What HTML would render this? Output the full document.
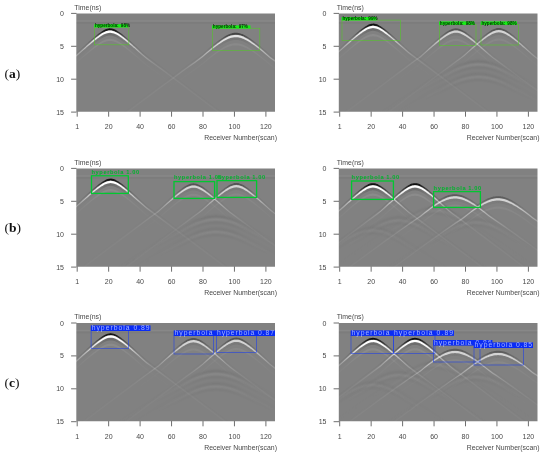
<!DOCTYPE html>
<html><head><meta charset="utf-8"><title>GPR hyperbola detection</title>
<style>
html,body{margin:0;padding:0;background:#fff;}
body{width:550px;height:459px;position:relative;overflow:hidden;font-family:"Liberation Sans",sans-serif;}
.t{font-family:"Liberation Sans",sans-serif;font-size:7px;fill:#484848;}
.l{font-size:7.5px;}
.g1{font-family:"Liberation Sans",sans-serif;font-size:4.65px;font-weight:bold;fill:#062c06;}
.g2{font-family:"Liberation Sans",sans-serif;font-size:5.7px;font-weight:bold;fill:#00b42c;}
.g3{font-family:"Liberation Sans",sans-serif;font-size:6.8px;fill:#a4b2fa;}
.pl{font-family:"Liberation Serif",serif;font-size:13.5px;fill:#111;}
</style></head><body>
<svg width="550" height="459" viewBox="0 0 550 459" style="position:absolute;left:0;top:0">
<defs><filter id="bl" x="-5%" y="-5%" width="110%" height="110%"><feGaussianBlur stdDeviation="0.7"/></filter><filter id="bl2" x="-5%" y="-20%" width="110%" height="140%"><feGaussianBlur stdDeviation="0.9"/></filter>
<linearGradient id="gA0w" gradientUnits="userSpaceOnUse" x1="-166.3" x2="233.7" y1="0" y2="0"><stop offset="0.000" stop-color="#fff" stop-opacity="0.012"/><stop offset="0.225" stop-color="#fff" stop-opacity="0.025"/><stop offset="0.312" stop-color="#fff" stop-opacity="0.040"/><stop offset="0.362" stop-color="#fff" stop-opacity="0.065"/><stop offset="0.400" stop-color="#fff" stop-opacity="0.140"/><stop offset="0.425" stop-color="#fff" stop-opacity="0.300"/><stop offset="0.445" stop-color="#fff" stop-opacity="0.560"/><stop offset="0.463" stop-color="#fff" stop-opacity="0.850"/><stop offset="0.480" stop-color="#fff" stop-opacity="1.000"/><stop offset="0.500" stop-color="#fff" stop-opacity="1.000"/><stop offset="0.520" stop-color="#fff" stop-opacity="1.000"/><stop offset="0.537" stop-color="#fff" stop-opacity="0.850"/><stop offset="0.555" stop-color="#fff" stop-opacity="0.560"/><stop offset="0.575" stop-color="#fff" stop-opacity="0.300"/><stop offset="0.600" stop-color="#fff" stop-opacity="0.140"/><stop offset="0.637" stop-color="#fff" stop-opacity="0.065"/><stop offset="0.688" stop-color="#fff" stop-opacity="0.040"/><stop offset="0.775" stop-color="#fff" stop-opacity="0.025"/><stop offset="1.000" stop-color="#fff" stop-opacity="0.012"/></linearGradient><linearGradient id="gA0k" gradientUnits="userSpaceOnUse" x1="-166.3" x2="233.7" y1="0" y2="0"><stop offset="0.000" stop-color="#000" stop-opacity="0.010"/><stop offset="0.350" stop-color="#000" stop-opacity="0.020"/><stop offset="0.400" stop-color="#000" stop-opacity="0.045"/><stop offset="0.430" stop-color="#000" stop-opacity="0.090"/><stop offset="0.450" stop-color="#000" stop-opacity="0.200"/><stop offset="0.463" stop-color="#000" stop-opacity="0.380"/><stop offset="0.475" stop-color="#000" stop-opacity="0.620"/><stop offset="0.487" stop-color="#000" stop-opacity="0.900"/><stop offset="0.500" stop-color="#000" stop-opacity="1.000"/><stop offset="0.512" stop-color="#000" stop-opacity="0.900"/><stop offset="0.525" stop-color="#000" stop-opacity="0.620"/><stop offset="0.537" stop-color="#000" stop-opacity="0.380"/><stop offset="0.550" stop-color="#000" stop-opacity="0.200"/><stop offset="0.570" stop-color="#000" stop-opacity="0.090"/><stop offset="0.600" stop-color="#000" stop-opacity="0.045"/><stop offset="0.650" stop-color="#000" stop-opacity="0.020"/><stop offset="1.000" stop-color="#000" stop-opacity="0.010"/></linearGradient><linearGradient id="gA1w" gradientUnits="userSpaceOnUse" x1="-90.5" x2="409.5" y1="0" y2="0"><stop offset="0.000" stop-color="#fff" stop-opacity="0.009"/><stop offset="0.225" stop-color="#fff" stop-opacity="0.020"/><stop offset="0.312" stop-color="#fff" stop-opacity="0.031"/><stop offset="0.362" stop-color="#fff" stop-opacity="0.051"/><stop offset="0.400" stop-color="#fff" stop-opacity="0.109"/><stop offset="0.425" stop-color="#fff" stop-opacity="0.234"/><stop offset="0.445" stop-color="#fff" stop-opacity="0.437"/><stop offset="0.463" stop-color="#fff" stop-opacity="0.663"/><stop offset="0.480" stop-color="#fff" stop-opacity="0.780"/><stop offset="0.500" stop-color="#fff" stop-opacity="0.780"/><stop offset="0.520" stop-color="#fff" stop-opacity="0.780"/><stop offset="0.537" stop-color="#fff" stop-opacity="0.663"/><stop offset="0.555" stop-color="#fff" stop-opacity="0.437"/><stop offset="0.575" stop-color="#fff" stop-opacity="0.234"/><stop offset="0.600" stop-color="#fff" stop-opacity="0.109"/><stop offset="0.637" stop-color="#fff" stop-opacity="0.051"/><stop offset="0.688" stop-color="#fff" stop-opacity="0.031"/><stop offset="0.775" stop-color="#fff" stop-opacity="0.020"/><stop offset="1.000" stop-color="#fff" stop-opacity="0.009"/></linearGradient><linearGradient id="gA1k" gradientUnits="userSpaceOnUse" x1="-90.5" x2="409.5" y1="0" y2="0"><stop offset="0.000" stop-color="#000" stop-opacity="0.005"/><stop offset="0.350" stop-color="#000" stop-opacity="0.011"/><stop offset="0.400" stop-color="#000" stop-opacity="0.025"/><stop offset="0.430" stop-color="#000" stop-opacity="0.049"/><stop offset="0.450" stop-color="#000" stop-opacity="0.109"/><stop offset="0.463" stop-color="#000" stop-opacity="0.207"/><stop offset="0.475" stop-color="#000" stop-opacity="0.339"/><stop offset="0.487" stop-color="#000" stop-opacity="0.491"/><stop offset="0.500" stop-color="#000" stop-opacity="0.546"/><stop offset="0.512" stop-color="#000" stop-opacity="0.491"/><stop offset="0.525" stop-color="#000" stop-opacity="0.339"/><stop offset="0.537" stop-color="#000" stop-opacity="0.207"/><stop offset="0.550" stop-color="#000" stop-opacity="0.109"/><stop offset="0.570" stop-color="#000" stop-opacity="0.049"/><stop offset="0.600" stop-color="#000" stop-opacity="0.025"/><stop offset="0.650" stop-color="#000" stop-opacity="0.011"/><stop offset="1.000" stop-color="#000" stop-opacity="0.005"/></linearGradient><linearGradient id="gB0w" gradientUnits="userSpaceOnUse" x1="-165.7" x2="234.3" y1="0" y2="0"><stop offset="0.000" stop-color="#fff" stop-opacity="0.012"/><stop offset="0.225" stop-color="#fff" stop-opacity="0.025"/><stop offset="0.312" stop-color="#fff" stop-opacity="0.040"/><stop offset="0.362" stop-color="#fff" stop-opacity="0.065"/><stop offset="0.400" stop-color="#fff" stop-opacity="0.140"/><stop offset="0.425" stop-color="#fff" stop-opacity="0.300"/><stop offset="0.445" stop-color="#fff" stop-opacity="0.560"/><stop offset="0.463" stop-color="#fff" stop-opacity="0.850"/><stop offset="0.480" stop-color="#fff" stop-opacity="1.000"/><stop offset="0.500" stop-color="#fff" stop-opacity="1.000"/><stop offset="0.520" stop-color="#fff" stop-opacity="1.000"/><stop offset="0.537" stop-color="#fff" stop-opacity="0.850"/><stop offset="0.555" stop-color="#fff" stop-opacity="0.560"/><stop offset="0.575" stop-color="#fff" stop-opacity="0.300"/><stop offset="0.600" stop-color="#fff" stop-opacity="0.140"/><stop offset="0.637" stop-color="#fff" stop-opacity="0.065"/><stop offset="0.688" stop-color="#fff" stop-opacity="0.040"/><stop offset="0.775" stop-color="#fff" stop-opacity="0.025"/><stop offset="1.000" stop-color="#fff" stop-opacity="0.012"/></linearGradient><linearGradient id="gB0k" gradientUnits="userSpaceOnUse" x1="-165.7" x2="234.3" y1="0" y2="0"><stop offset="0.000" stop-color="#000" stop-opacity="0.010"/><stop offset="0.350" stop-color="#000" stop-opacity="0.020"/><stop offset="0.400" stop-color="#000" stop-opacity="0.045"/><stop offset="0.430" stop-color="#000" stop-opacity="0.090"/><stop offset="0.450" stop-color="#000" stop-opacity="0.200"/><stop offset="0.463" stop-color="#000" stop-opacity="0.380"/><stop offset="0.475" stop-color="#000" stop-opacity="0.620"/><stop offset="0.487" stop-color="#000" stop-opacity="0.900"/><stop offset="0.500" stop-color="#000" stop-opacity="1.000"/><stop offset="0.512" stop-color="#000" stop-opacity="0.900"/><stop offset="0.525" stop-color="#000" stop-opacity="0.620"/><stop offset="0.537" stop-color="#000" stop-opacity="0.380"/><stop offset="0.550" stop-color="#000" stop-opacity="0.200"/><stop offset="0.570" stop-color="#000" stop-opacity="0.090"/><stop offset="0.600" stop-color="#000" stop-opacity="0.045"/><stop offset="0.650" stop-color="#000" stop-opacity="0.020"/><stop offset="1.000" stop-color="#000" stop-opacity="0.010"/></linearGradient><linearGradient id="gB1w" gradientUnits="userSpaceOnUse" x1="-102.8" x2="337.2" y1="0" y2="0"><stop offset="0.000" stop-color="#fff" stop-opacity="0.008"/><stop offset="0.225" stop-color="#fff" stop-opacity="0.017"/><stop offset="0.312" stop-color="#fff" stop-opacity="0.026"/><stop offset="0.362" stop-color="#fff" stop-opacity="0.043"/><stop offset="0.400" stop-color="#fff" stop-opacity="0.092"/><stop offset="0.425" stop-color="#fff" stop-opacity="0.198"/><stop offset="0.445" stop-color="#fff" stop-opacity="0.370"/><stop offset="0.463" stop-color="#fff" stop-opacity="0.561"/><stop offset="0.480" stop-color="#fff" stop-opacity="0.660"/><stop offset="0.500" stop-color="#fff" stop-opacity="0.660"/><stop offset="0.520" stop-color="#fff" stop-opacity="0.660"/><stop offset="0.537" stop-color="#fff" stop-opacity="0.561"/><stop offset="0.555" stop-color="#fff" stop-opacity="0.370"/><stop offset="0.575" stop-color="#fff" stop-opacity="0.198"/><stop offset="0.600" stop-color="#fff" stop-opacity="0.092"/><stop offset="0.637" stop-color="#fff" stop-opacity="0.043"/><stop offset="0.688" stop-color="#fff" stop-opacity="0.026"/><stop offset="0.775" stop-color="#fff" stop-opacity="0.017"/><stop offset="1.000" stop-color="#fff" stop-opacity="0.008"/></linearGradient><linearGradient id="gB1k" gradientUnits="userSpaceOnUse" x1="-102.8" x2="337.2" y1="0" y2="0"><stop offset="0.000" stop-color="#000" stop-opacity="0.004"/><stop offset="0.350" stop-color="#000" stop-opacity="0.008"/><stop offset="0.400" stop-color="#000" stop-opacity="0.018"/><stop offset="0.430" stop-color="#000" stop-opacity="0.036"/><stop offset="0.450" stop-color="#000" stop-opacity="0.079"/><stop offset="0.463" stop-color="#000" stop-opacity="0.150"/><stop offset="0.475" stop-color="#000" stop-opacity="0.246"/><stop offset="0.487" stop-color="#000" stop-opacity="0.356"/><stop offset="0.500" stop-color="#000" stop-opacity="0.396"/><stop offset="0.512" stop-color="#000" stop-opacity="0.356"/><stop offset="0.525" stop-color="#000" stop-opacity="0.246"/><stop offset="0.537" stop-color="#000" stop-opacity="0.150"/><stop offset="0.550" stop-color="#000" stop-opacity="0.079"/><stop offset="0.570" stop-color="#000" stop-opacity="0.036"/><stop offset="0.600" stop-color="#000" stop-opacity="0.018"/><stop offset="0.650" stop-color="#000" stop-opacity="0.008"/><stop offset="1.000" stop-color="#000" stop-opacity="0.004"/></linearGradient><linearGradient id="gB2w" gradientUnits="userSpaceOnUse" x1="-60.0" x2="380.0" y1="0" y2="0"><stop offset="0.000" stop-color="#fff" stop-opacity="0.008"/><stop offset="0.225" stop-color="#fff" stop-opacity="0.017"/><stop offset="0.312" stop-color="#fff" stop-opacity="0.026"/><stop offset="0.362" stop-color="#fff" stop-opacity="0.043"/><stop offset="0.400" stop-color="#fff" stop-opacity="0.092"/><stop offset="0.425" stop-color="#fff" stop-opacity="0.198"/><stop offset="0.445" stop-color="#fff" stop-opacity="0.370"/><stop offset="0.463" stop-color="#fff" stop-opacity="0.561"/><stop offset="0.480" stop-color="#fff" stop-opacity="0.660"/><stop offset="0.500" stop-color="#fff" stop-opacity="0.660"/><stop offset="0.520" stop-color="#fff" stop-opacity="0.660"/><stop offset="0.537" stop-color="#fff" stop-opacity="0.561"/><stop offset="0.555" stop-color="#fff" stop-opacity="0.370"/><stop offset="0.575" stop-color="#fff" stop-opacity="0.198"/><stop offset="0.600" stop-color="#fff" stop-opacity="0.092"/><stop offset="0.637" stop-color="#fff" stop-opacity="0.043"/><stop offset="0.688" stop-color="#fff" stop-opacity="0.026"/><stop offset="0.775" stop-color="#fff" stop-opacity="0.017"/><stop offset="1.000" stop-color="#fff" stop-opacity="0.008"/></linearGradient><linearGradient id="gB2k" gradientUnits="userSpaceOnUse" x1="-60.0" x2="380.0" y1="0" y2="0"><stop offset="0.000" stop-color="#000" stop-opacity="0.004"/><stop offset="0.350" stop-color="#000" stop-opacity="0.008"/><stop offset="0.400" stop-color="#000" stop-opacity="0.018"/><stop offset="0.430" stop-color="#000" stop-opacity="0.036"/><stop offset="0.450" stop-color="#000" stop-opacity="0.079"/><stop offset="0.463" stop-color="#000" stop-opacity="0.150"/><stop offset="0.475" stop-color="#000" stop-opacity="0.246"/><stop offset="0.487" stop-color="#000" stop-opacity="0.356"/><stop offset="0.500" stop-color="#000" stop-opacity="0.396"/><stop offset="0.512" stop-color="#000" stop-opacity="0.356"/><stop offset="0.525" stop-color="#000" stop-opacity="0.246"/><stop offset="0.537" stop-color="#000" stop-opacity="0.150"/><stop offset="0.550" stop-color="#000" stop-opacity="0.079"/><stop offset="0.570" stop-color="#000" stop-opacity="0.036"/><stop offset="0.600" stop-color="#000" stop-opacity="0.018"/><stop offset="0.650" stop-color="#000" stop-opacity="0.008"/><stop offset="1.000" stop-color="#000" stop-opacity="0.004"/></linearGradient><linearGradient id="gC0w" gradientUnits="userSpaceOnUse" x1="-165.8" x2="234.2" y1="0" y2="0"><stop offset="0.000" stop-color="#fff" stop-opacity="0.012"/><stop offset="0.225" stop-color="#fff" stop-opacity="0.025"/><stop offset="0.312" stop-color="#fff" stop-opacity="0.040"/><stop offset="0.362" stop-color="#fff" stop-opacity="0.065"/><stop offset="0.400" stop-color="#fff" stop-opacity="0.140"/><stop offset="0.425" stop-color="#fff" stop-opacity="0.300"/><stop offset="0.445" stop-color="#fff" stop-opacity="0.560"/><stop offset="0.463" stop-color="#fff" stop-opacity="0.850"/><stop offset="0.480" stop-color="#fff" stop-opacity="1.000"/><stop offset="0.500" stop-color="#fff" stop-opacity="1.000"/><stop offset="0.520" stop-color="#fff" stop-opacity="1.000"/><stop offset="0.537" stop-color="#fff" stop-opacity="0.850"/><stop offset="0.555" stop-color="#fff" stop-opacity="0.560"/><stop offset="0.575" stop-color="#fff" stop-opacity="0.300"/><stop offset="0.600" stop-color="#fff" stop-opacity="0.140"/><stop offset="0.637" stop-color="#fff" stop-opacity="0.065"/><stop offset="0.688" stop-color="#fff" stop-opacity="0.040"/><stop offset="0.775" stop-color="#fff" stop-opacity="0.025"/><stop offset="1.000" stop-color="#fff" stop-opacity="0.012"/></linearGradient><linearGradient id="gC0k" gradientUnits="userSpaceOnUse" x1="-165.8" x2="234.2" y1="0" y2="0"><stop offset="0.000" stop-color="#000" stop-opacity="0.010"/><stop offset="0.350" stop-color="#000" stop-opacity="0.020"/><stop offset="0.400" stop-color="#000" stop-opacity="0.045"/><stop offset="0.430" stop-color="#000" stop-opacity="0.090"/><stop offset="0.450" stop-color="#000" stop-opacity="0.200"/><stop offset="0.463" stop-color="#000" stop-opacity="0.380"/><stop offset="0.475" stop-color="#000" stop-opacity="0.620"/><stop offset="0.487" stop-color="#000" stop-opacity="0.900"/><stop offset="0.500" stop-color="#000" stop-opacity="1.000"/><stop offset="0.512" stop-color="#000" stop-opacity="0.900"/><stop offset="0.525" stop-color="#000" stop-opacity="0.620"/><stop offset="0.537" stop-color="#000" stop-opacity="0.380"/><stop offset="0.550" stop-color="#000" stop-opacity="0.200"/><stop offset="0.570" stop-color="#000" stop-opacity="0.090"/><stop offset="0.600" stop-color="#000" stop-opacity="0.045"/><stop offset="0.650" stop-color="#000" stop-opacity="0.020"/><stop offset="1.000" stop-color="#000" stop-opacity="0.010"/></linearGradient><linearGradient id="gC1w" gradientUnits="userSpaceOnUse" x1="-123.8" x2="276.2" y1="0" y2="0"><stop offset="0.000" stop-color="#fff" stop-opacity="0.012"/><stop offset="0.225" stop-color="#fff" stop-opacity="0.025"/><stop offset="0.312" stop-color="#fff" stop-opacity="0.040"/><stop offset="0.362" stop-color="#fff" stop-opacity="0.065"/><stop offset="0.400" stop-color="#fff" stop-opacity="0.140"/><stop offset="0.425" stop-color="#fff" stop-opacity="0.300"/><stop offset="0.445" stop-color="#fff" stop-opacity="0.560"/><stop offset="0.463" stop-color="#fff" stop-opacity="0.850"/><stop offset="0.480" stop-color="#fff" stop-opacity="1.000"/><stop offset="0.500" stop-color="#fff" stop-opacity="1.000"/><stop offset="0.520" stop-color="#fff" stop-opacity="1.000"/><stop offset="0.537" stop-color="#fff" stop-opacity="0.850"/><stop offset="0.555" stop-color="#fff" stop-opacity="0.560"/><stop offset="0.575" stop-color="#fff" stop-opacity="0.300"/><stop offset="0.600" stop-color="#fff" stop-opacity="0.140"/><stop offset="0.637" stop-color="#fff" stop-opacity="0.065"/><stop offset="0.688" stop-color="#fff" stop-opacity="0.040"/><stop offset="0.775" stop-color="#fff" stop-opacity="0.025"/><stop offset="1.000" stop-color="#fff" stop-opacity="0.012"/></linearGradient><linearGradient id="gC1k" gradientUnits="userSpaceOnUse" x1="-123.8" x2="276.2" y1="0" y2="0"><stop offset="0.000" stop-color="#000" stop-opacity="0.010"/><stop offset="0.350" stop-color="#000" stop-opacity="0.020"/><stop offset="0.400" stop-color="#000" stop-opacity="0.045"/><stop offset="0.430" stop-color="#000" stop-opacity="0.090"/><stop offset="0.450" stop-color="#000" stop-opacity="0.200"/><stop offset="0.463" stop-color="#000" stop-opacity="0.380"/><stop offset="0.475" stop-color="#000" stop-opacity="0.620"/><stop offset="0.487" stop-color="#000" stop-opacity="0.900"/><stop offset="0.500" stop-color="#000" stop-opacity="1.000"/><stop offset="0.512" stop-color="#000" stop-opacity="0.900"/><stop offset="0.525" stop-color="#000" stop-opacity="0.620"/><stop offset="0.537" stop-color="#000" stop-opacity="0.380"/><stop offset="0.550" stop-color="#000" stop-opacity="0.200"/><stop offset="0.570" stop-color="#000" stop-opacity="0.090"/><stop offset="0.600" stop-color="#000" stop-opacity="0.045"/><stop offset="0.650" stop-color="#000" stop-opacity="0.020"/><stop offset="1.000" stop-color="#000" stop-opacity="0.010"/></linearGradient><linearGradient id="gC2w" gradientUnits="userSpaceOnUse" x1="-163.8" x2="396.2" y1="0" y2="0"><stop offset="0.000" stop-color="#fff" stop-opacity="0.008"/><stop offset="0.225" stop-color="#fff" stop-opacity="0.017"/><stop offset="0.312" stop-color="#fff" stop-opacity="0.026"/><stop offset="0.362" stop-color="#fff" stop-opacity="0.043"/><stop offset="0.400" stop-color="#fff" stop-opacity="0.092"/><stop offset="0.425" stop-color="#fff" stop-opacity="0.198"/><stop offset="0.445" stop-color="#fff" stop-opacity="0.370"/><stop offset="0.463" stop-color="#fff" stop-opacity="0.561"/><stop offset="0.480" stop-color="#fff" stop-opacity="0.660"/><stop offset="0.500" stop-color="#fff" stop-opacity="0.660"/><stop offset="0.520" stop-color="#fff" stop-opacity="0.660"/><stop offset="0.537" stop-color="#fff" stop-opacity="0.561"/><stop offset="0.555" stop-color="#fff" stop-opacity="0.370"/><stop offset="0.575" stop-color="#fff" stop-opacity="0.198"/><stop offset="0.600" stop-color="#fff" stop-opacity="0.092"/><stop offset="0.637" stop-color="#fff" stop-opacity="0.043"/><stop offset="0.688" stop-color="#fff" stop-opacity="0.026"/><stop offset="0.775" stop-color="#fff" stop-opacity="0.017"/><stop offset="1.000" stop-color="#fff" stop-opacity="0.008"/></linearGradient><linearGradient id="gC2k" gradientUnits="userSpaceOnUse" x1="-163.8" x2="396.2" y1="0" y2="0"><stop offset="0.000" stop-color="#000" stop-opacity="0.003"/><stop offset="0.350" stop-color="#000" stop-opacity="0.007"/><stop offset="0.400" stop-color="#000" stop-opacity="0.015"/><stop offset="0.430" stop-color="#000" stop-opacity="0.030"/><stop offset="0.450" stop-color="#000" stop-opacity="0.066"/><stop offset="0.463" stop-color="#000" stop-opacity="0.125"/><stop offset="0.475" stop-color="#000" stop-opacity="0.205"/><stop offset="0.487" stop-color="#000" stop-opacity="0.297"/><stop offset="0.500" stop-color="#000" stop-opacity="0.330"/><stop offset="0.512" stop-color="#000" stop-opacity="0.297"/><stop offset="0.525" stop-color="#000" stop-opacity="0.205"/><stop offset="0.537" stop-color="#000" stop-opacity="0.125"/><stop offset="0.550" stop-color="#000" stop-opacity="0.066"/><stop offset="0.570" stop-color="#000" stop-opacity="0.030"/><stop offset="0.600" stop-color="#000" stop-opacity="0.015"/><stop offset="0.650" stop-color="#000" stop-opacity="0.007"/><stop offset="1.000" stop-color="#000" stop-opacity="0.003"/></linearGradient><linearGradient id="gC3w" gradientUnits="userSpaceOnUse" x1="-120.8" x2="439.2" y1="0" y2="0"><stop offset="0.000" stop-color="#fff" stop-opacity="0.008"/><stop offset="0.225" stop-color="#fff" stop-opacity="0.017"/><stop offset="0.312" stop-color="#fff" stop-opacity="0.026"/><stop offset="0.362" stop-color="#fff" stop-opacity="0.043"/><stop offset="0.400" stop-color="#fff" stop-opacity="0.092"/><stop offset="0.425" stop-color="#fff" stop-opacity="0.198"/><stop offset="0.445" stop-color="#fff" stop-opacity="0.370"/><stop offset="0.463" stop-color="#fff" stop-opacity="0.561"/><stop offset="0.480" stop-color="#fff" stop-opacity="0.660"/><stop offset="0.500" stop-color="#fff" stop-opacity="0.660"/><stop offset="0.520" stop-color="#fff" stop-opacity="0.660"/><stop offset="0.537" stop-color="#fff" stop-opacity="0.561"/><stop offset="0.555" stop-color="#fff" stop-opacity="0.370"/><stop offset="0.575" stop-color="#fff" stop-opacity="0.198"/><stop offset="0.600" stop-color="#fff" stop-opacity="0.092"/><stop offset="0.637" stop-color="#fff" stop-opacity="0.043"/><stop offset="0.688" stop-color="#fff" stop-opacity="0.026"/><stop offset="0.775" stop-color="#fff" stop-opacity="0.017"/><stop offset="1.000" stop-color="#fff" stop-opacity="0.008"/></linearGradient><linearGradient id="gC3k" gradientUnits="userSpaceOnUse" x1="-120.8" x2="439.2" y1="0" y2="0"><stop offset="0.000" stop-color="#000" stop-opacity="0.003"/><stop offset="0.350" stop-color="#000" stop-opacity="0.007"/><stop offset="0.400" stop-color="#000" stop-opacity="0.015"/><stop offset="0.430" stop-color="#000" stop-opacity="0.030"/><stop offset="0.450" stop-color="#000" stop-opacity="0.066"/><stop offset="0.463" stop-color="#000" stop-opacity="0.125"/><stop offset="0.475" stop-color="#000" stop-opacity="0.205"/><stop offset="0.487" stop-color="#000" stop-opacity="0.297"/><stop offset="0.500" stop-color="#000" stop-opacity="0.330"/><stop offset="0.512" stop-color="#000" stop-opacity="0.297"/><stop offset="0.525" stop-color="#000" stop-opacity="0.205"/><stop offset="0.537" stop-color="#000" stop-opacity="0.125"/><stop offset="0.550" stop-color="#000" stop-opacity="0.066"/><stop offset="0.570" stop-color="#000" stop-opacity="0.030"/><stop offset="0.600" stop-color="#000" stop-opacity="0.015"/><stop offset="0.650" stop-color="#000" stop-opacity="0.007"/><stop offset="1.000" stop-color="#000" stop-opacity="0.003"/></linearGradient><linearGradient id="sB0w" gradientUnits="userSpaceOnUse" x1="-60.3" x2="339.7" y1="0" y2="0"><stop offset="0.000" stop-color="#fff" stop-opacity="0.000"/><stop offset="0.325" stop-color="#fff" stop-opacity="0.008"/><stop offset="0.388" stop-color="#fff" stop-opacity="0.025"/><stop offset="0.425" stop-color="#fff" stop-opacity="0.060"/><stop offset="0.455" stop-color="#fff" stop-opacity="0.100"/><stop offset="0.500" stop-color="#fff" stop-opacity="0.100"/><stop offset="0.545" stop-color="#fff" stop-opacity="0.100"/><stop offset="0.575" stop-color="#fff" stop-opacity="0.060"/><stop offset="0.613" stop-color="#fff" stop-opacity="0.025"/><stop offset="0.675" stop-color="#fff" stop-opacity="0.008"/><stop offset="1.000" stop-color="#fff" stop-opacity="0.000"/></linearGradient><linearGradient id="sB0k" gradientUnits="userSpaceOnUse" x1="-60.3" x2="339.7" y1="0" y2="0"><stop offset="0.000" stop-color="#000" stop-opacity="0.000"/><stop offset="0.325" stop-color="#000" stop-opacity="0.008"/><stop offset="0.388" stop-color="#000" stop-opacity="0.025"/><stop offset="0.425" stop-color="#000" stop-opacity="0.060"/><stop offset="0.455" stop-color="#000" stop-opacity="0.100"/><stop offset="0.500" stop-color="#000" stop-opacity="0.100"/><stop offset="0.545" stop-color="#000" stop-opacity="0.100"/><stop offset="0.575" stop-color="#000" stop-opacity="0.060"/><stop offset="0.613" stop-color="#000" stop-opacity="0.025"/><stop offset="0.675" stop-color="#000" stop-opacity="0.008"/><stop offset="1.000" stop-color="#000" stop-opacity="0.000"/></linearGradient><linearGradient id="sB1w" gradientUnits="userSpaceOnUse" x1="-60.3" x2="339.7" y1="0" y2="0"><stop offset="0.000" stop-color="#fff" stop-opacity="0.000"/><stop offset="0.325" stop-color="#fff" stop-opacity="0.006"/><stop offset="0.388" stop-color="#fff" stop-opacity="0.020"/><stop offset="0.425" stop-color="#fff" stop-opacity="0.048"/><stop offset="0.455" stop-color="#fff" stop-opacity="0.080"/><stop offset="0.500" stop-color="#fff" stop-opacity="0.080"/><stop offset="0.545" stop-color="#fff" stop-opacity="0.080"/><stop offset="0.575" stop-color="#fff" stop-opacity="0.048"/><stop offset="0.613" stop-color="#fff" stop-opacity="0.020"/><stop offset="0.675" stop-color="#fff" stop-opacity="0.006"/><stop offset="1.000" stop-color="#fff" stop-opacity="0.000"/></linearGradient><linearGradient id="sB1k" gradientUnits="userSpaceOnUse" x1="-60.3" x2="339.7" y1="0" y2="0"><stop offset="0.000" stop-color="#000" stop-opacity="0.000"/><stop offset="0.325" stop-color="#000" stop-opacity="0.006"/><stop offset="0.388" stop-color="#000" stop-opacity="0.020"/><stop offset="0.425" stop-color="#000" stop-opacity="0.048"/><stop offset="0.455" stop-color="#000" stop-opacity="0.080"/><stop offset="0.500" stop-color="#000" stop-opacity="0.080"/><stop offset="0.545" stop-color="#000" stop-opacity="0.080"/><stop offset="0.575" stop-color="#000" stop-opacity="0.048"/><stop offset="0.613" stop-color="#000" stop-opacity="0.020"/><stop offset="0.675" stop-color="#000" stop-opacity="0.006"/><stop offset="1.000" stop-color="#000" stop-opacity="0.000"/></linearGradient><linearGradient id="sC0w" gradientUnits="userSpaceOnUse" x1="-166.0" x2="234.0" y1="0" y2="0"><stop offset="0.000" stop-color="#fff" stop-opacity="0.000"/><stop offset="0.325" stop-color="#fff" stop-opacity="0.005"/><stop offset="0.388" stop-color="#fff" stop-opacity="0.015"/><stop offset="0.425" stop-color="#fff" stop-opacity="0.036"/><stop offset="0.455" stop-color="#fff" stop-opacity="0.060"/><stop offset="0.500" stop-color="#fff" stop-opacity="0.060"/><stop offset="0.545" stop-color="#fff" stop-opacity="0.060"/><stop offset="0.575" stop-color="#fff" stop-opacity="0.036"/><stop offset="0.613" stop-color="#fff" stop-opacity="0.015"/><stop offset="0.675" stop-color="#fff" stop-opacity="0.005"/><stop offset="1.000" stop-color="#fff" stop-opacity="0.000"/></linearGradient><linearGradient id="sC0k" gradientUnits="userSpaceOnUse" x1="-166.0" x2="234.0" y1="0" y2="0"><stop offset="0.000" stop-color="#000" stop-opacity="0.000"/><stop offset="0.325" stop-color="#000" stop-opacity="0.005"/><stop offset="0.388" stop-color="#000" stop-opacity="0.015"/><stop offset="0.425" stop-color="#000" stop-opacity="0.036"/><stop offset="0.455" stop-color="#000" stop-opacity="0.060"/><stop offset="0.500" stop-color="#000" stop-opacity="0.060"/><stop offset="0.545" stop-color="#000" stop-opacity="0.060"/><stop offset="0.575" stop-color="#000" stop-opacity="0.036"/><stop offset="0.613" stop-color="#000" stop-opacity="0.015"/><stop offset="0.675" stop-color="#000" stop-opacity="0.005"/><stop offset="1.000" stop-color="#000" stop-opacity="0.000"/></linearGradient><linearGradient id="sC1w" gradientUnits="userSpaceOnUse" x1="-140.0" x2="260.0" y1="0" y2="0"><stop offset="0.000" stop-color="#fff" stop-opacity="0.000"/><stop offset="0.325" stop-color="#fff" stop-opacity="0.006"/><stop offset="0.388" stop-color="#fff" stop-opacity="0.018"/><stop offset="0.425" stop-color="#fff" stop-opacity="0.042"/><stop offset="0.455" stop-color="#fff" stop-opacity="0.070"/><stop offset="0.500" stop-color="#fff" stop-opacity="0.070"/><stop offset="0.545" stop-color="#fff" stop-opacity="0.070"/><stop offset="0.575" stop-color="#fff" stop-opacity="0.042"/><stop offset="0.613" stop-color="#fff" stop-opacity="0.018"/><stop offset="0.675" stop-color="#fff" stop-opacity="0.006"/><stop offset="1.000" stop-color="#fff" stop-opacity="0.000"/></linearGradient><linearGradient id="sC1k" gradientUnits="userSpaceOnUse" x1="-140.0" x2="260.0" y1="0" y2="0"><stop offset="0.000" stop-color="#000" stop-opacity="0.000"/><stop offset="0.325" stop-color="#000" stop-opacity="0.006"/><stop offset="0.388" stop-color="#000" stop-opacity="0.018"/><stop offset="0.425" stop-color="#000" stop-opacity="0.042"/><stop offset="0.455" stop-color="#000" stop-opacity="0.070"/><stop offset="0.500" stop-color="#000" stop-opacity="0.070"/><stop offset="0.545" stop-color="#000" stop-opacity="0.070"/><stop offset="0.575" stop-color="#000" stop-opacity="0.042"/><stop offset="0.613" stop-color="#000" stop-opacity="0.018"/><stop offset="0.675" stop-color="#000" stop-opacity="0.006"/><stop offset="1.000" stop-color="#000" stop-opacity="0.000"/></linearGradient><linearGradient id="sC2w" gradientUnits="userSpaceOnUse" x1="-104.0" x2="296.0" y1="0" y2="0"><stop offset="0.000" stop-color="#fff" stop-opacity="0.000"/><stop offset="0.325" stop-color="#fff" stop-opacity="0.005"/><stop offset="0.388" stop-color="#fff" stop-opacity="0.015"/><stop offset="0.425" stop-color="#fff" stop-opacity="0.036"/><stop offset="0.455" stop-color="#fff" stop-opacity="0.060"/><stop offset="0.500" stop-color="#fff" stop-opacity="0.060"/><stop offset="0.545" stop-color="#fff" stop-opacity="0.060"/><stop offset="0.575" stop-color="#fff" stop-opacity="0.036"/><stop offset="0.613" stop-color="#fff" stop-opacity="0.015"/><stop offset="0.675" stop-color="#fff" stop-opacity="0.005"/><stop offset="1.000" stop-color="#fff" stop-opacity="0.000"/></linearGradient><linearGradient id="sC2k" gradientUnits="userSpaceOnUse" x1="-104.0" x2="296.0" y1="0" y2="0"><stop offset="0.000" stop-color="#000" stop-opacity="0.000"/><stop offset="0.325" stop-color="#000" stop-opacity="0.005"/><stop offset="0.388" stop-color="#000" stop-opacity="0.015"/><stop offset="0.425" stop-color="#000" stop-opacity="0.036"/><stop offset="0.455" stop-color="#000" stop-opacity="0.060"/><stop offset="0.500" stop-color="#000" stop-opacity="0.060"/><stop offset="0.545" stop-color="#000" stop-opacity="0.060"/><stop offset="0.575" stop-color="#000" stop-opacity="0.036"/><stop offset="0.613" stop-color="#000" stop-opacity="0.015"/><stop offset="0.675" stop-color="#000" stop-opacity="0.005"/><stop offset="1.000" stop-color="#000" stop-opacity="0.000"/></linearGradient><linearGradient id="sC3w" gradientUnits="userSpaceOnUse" x1="-63.0" x2="337.0" y1="0" y2="0"><stop offset="0.000" stop-color="#fff" stop-opacity="0.000"/><stop offset="0.325" stop-color="#fff" stop-opacity="0.005"/><stop offset="0.388" stop-color="#fff" stop-opacity="0.015"/><stop offset="0.425" stop-color="#fff" stop-opacity="0.036"/><stop offset="0.455" stop-color="#fff" stop-opacity="0.060"/><stop offset="0.500" stop-color="#fff" stop-opacity="0.060"/><stop offset="0.545" stop-color="#fff" stop-opacity="0.060"/><stop offset="0.575" stop-color="#fff" stop-opacity="0.036"/><stop offset="0.613" stop-color="#fff" stop-opacity="0.015"/><stop offset="0.675" stop-color="#fff" stop-opacity="0.005"/><stop offset="1.000" stop-color="#fff" stop-opacity="0.000"/></linearGradient><linearGradient id="sC3k" gradientUnits="userSpaceOnUse" x1="-63.0" x2="337.0" y1="0" y2="0"><stop offset="0.000" stop-color="#000" stop-opacity="0.000"/><stop offset="0.325" stop-color="#000" stop-opacity="0.005"/><stop offset="0.388" stop-color="#000" stop-opacity="0.015"/><stop offset="0.425" stop-color="#000" stop-opacity="0.036"/><stop offset="0.455" stop-color="#000" stop-opacity="0.060"/><stop offset="0.500" stop-color="#000" stop-opacity="0.060"/><stop offset="0.545" stop-color="#000" stop-opacity="0.060"/><stop offset="0.575" stop-color="#000" stop-opacity="0.036"/><stop offset="0.613" stop-color="#000" stop-opacity="0.015"/><stop offset="0.675" stop-color="#000" stop-opacity="0.005"/><stop offset="1.000" stop-color="#000" stop-opacity="0.000"/></linearGradient>
<symbol id="rgA" overflow="hidden" viewBox="0 0 198.7 98.3"><g filter="url(#bl)"><rect x="-5" y="-5" width="208.7" height="108.3" fill="#818181"/><rect x="-5" y="6.8" width="208.7" height="1.5" fill="#fff" opacity="0.06"/><rect x="-5" y="8.8" width="208.7" height="1.5" fill="#000" opacity="0.045"/><path d="M-6.0 53.2 L-2.0 50.3 L2.0 46.9 L6.0 43.3 L9.7 40.1 L10.0 39.8 L11.2 38.8 L12.7 37.5 L14.0 36.4 L14.2 36.3 L15.7 35.0 L17.2 33.8 L18.0 33.2 L18.7 32.6 L20.2 31.5 L21.7 30.4 L22.0 30.2 L23.2 29.4 L24.7 28.4 L26.0 27.7 L26.2 27.6 L27.7 26.8 L29.2 26.2 L30.0 26.0 L30.7 25.8 L32.2 25.5 L33.7 25.4 L34.0 25.4 L35.2 25.5 L36.7 25.8 L38.0 26.2 L38.2 26.2 L39.7 26.8 L41.2 27.6 L42.0 28.0 L42.7 28.4 L44.2 29.4 L45.7 30.4 L46.0 30.6 L47.2 31.5 L48.7 32.6 L50.0 33.7 L50.2 33.8 L51.7 35.0 L53.2 36.3 L54.0 36.9 L54.7 37.5 L56.2 38.8 L57.7 40.1 L58.0 40.3 L62.0 43.8 L66.0 47.4 L70.0 50.8 L74.0 53.7 L78.0 56.6 L82.0 59.5 L86.0 62.5 L90.0 65.5 L94.0 68.4 L98.0 71.4 L102.0 74.4 L106.0 77.4 L110.0 80.4 L114.0 83.4 L118.0 86.4 L122.0 89.4 L126.0 92.4 L130.0 95.4 L134.0 98.4 L138.0 101.4 L142.0 104.5 L146.0 107.5 L150.0 110.5 L154.0 113.5 L158.0 116.5 L162.0 119.6 L166.0 122.6 L170.0 125.6 L174.0 128.6 L178.0 131.7 L182.0 134.7 L186.0 137.7 L190.0 140.7 L194.0 143.8 L198.0 146.8 L202.0 149.8 L202.0 151.2 L198.0 148.2 L194.0 145.1 L190.0 142.1 L186.0 139.1 L182.0 136.0 L178.0 133.0 L174.0 130.0 L170.0 127.0 L166.0 123.9 L162.0 120.9 L158.0 117.9 L154.0 114.9 L150.0 111.9 L146.0 108.8 L142.0 105.8 L138.0 102.8 L134.0 99.8 L130.0 96.8 L126.0 93.8 L122.0 90.8 L118.0 87.8 L114.0 84.7 L110.0 81.7 L106.0 78.8 L102.0 75.8 L98.0 72.8 L94.0 69.8 L90.0 66.8 L86.0 63.9 L82.0 60.9 L78.0 58.0 L74.0 55.0 L70.0 52.1 L66.0 48.8 L62.0 45.2 L58.0 41.8 L57.7 41.5 L56.2 40.3 L54.7 39.0 L54.0 38.5 L53.2 37.8 L51.7 36.6 L50.2 35.5 L50.0 35.3 L48.7 34.4 L47.2 33.3 L46.0 32.5 L45.7 32.3 L44.2 31.3 L42.7 30.4 L42.0 30.0 L41.2 29.6 L39.7 28.9 L38.2 28.4 L38.0 28.3 L36.7 27.9 L35.2 27.7 L34.0 27.6 L33.7 27.6 L32.2 27.7 L30.7 27.9 L30.0 28.1 L29.2 28.4 L27.7 28.9 L26.2 29.6 L26.0 29.7 L24.7 30.4 L23.2 31.3 L22.0 32.1 L21.7 32.3 L20.2 33.3 L18.7 34.4 L18.0 34.9 L17.2 35.5 L15.7 36.6 L14.2 37.8 L14.0 38.0 L12.7 39.0 L11.2 40.3 L10.0 41.3 L9.7 41.5 L6.0 44.7 L2.0 48.3 L-2.0 51.7 L-6.0 54.6Z" fill="url(#gA0w)" opacity="0.08"/><path d="M-6.0 49.1 L-2.0 46.1 L2.0 42.6 L6.0 38.9 L9.7 35.6 L10.0 35.4 L11.2 34.3 L12.7 33.0 L14.0 31.8 L14.2 31.6 L15.7 30.4 L17.2 29.1 L18.0 28.4 L18.7 27.8 L20.2 26.6 L21.7 25.4 L22.0 25.2 L23.2 24.3 L24.7 23.2 L26.0 22.4 L26.2 22.3 L27.7 21.4 L29.2 20.7 L30.0 20.4 L30.7 20.2 L32.2 19.8 L33.7 19.7 L34.0 19.7 L35.2 19.8 L36.7 20.2 L38.0 20.6 L38.2 20.7 L39.7 21.4 L41.2 22.3 L42.0 22.8 L42.7 23.2 L44.2 24.3 L45.7 25.4 L46.0 25.7 L47.2 26.6 L48.7 27.8 L50.0 28.9 L50.2 29.1 L51.7 30.4 L53.2 31.6 L54.0 32.3 L54.7 33.0 L56.2 34.3 L57.7 35.6 L58.0 35.9 L62.0 39.5 L66.0 43.1 L70.0 46.6 L74.0 49.5 L78.0 52.5 L82.0 55.4 L86.0 58.4 L90.0 61.4 L94.0 64.4 L98.0 67.4 L102.0 70.4 L106.0 73.4 L110.0 76.4 L114.0 79.4 L118.0 82.4 L122.0 85.5 L126.0 88.5 L130.0 91.5 L134.0 94.5 L138.0 97.5 L142.0 100.6 L146.0 103.6 L150.0 106.6 L154.0 109.6 L158.0 112.7 L162.0 115.7 L166.0 118.7 L170.0 121.8 L174.0 124.8 L178.0 127.8 L182.0 130.9 L186.0 133.9 L190.0 136.9 L194.0 139.9 L198.0 143.0 L202.0 146.0 L202.0 147.5 L198.0 144.5 L194.0 141.4 L190.0 138.4 L186.0 135.4 L182.0 132.3 L178.0 129.3 L174.0 126.3 L170.0 123.2 L166.0 120.2 L162.0 117.2 L158.0 114.2 L154.0 111.1 L150.0 108.1 L146.0 105.1 L142.0 102.1 L138.0 99.0 L134.0 96.0 L130.0 93.0 L126.0 90.0 L122.0 86.9 L118.0 83.9 L114.0 80.9 L110.0 77.9 L106.0 74.9 L102.0 71.9 L98.0 68.9 L94.0 65.9 L90.0 62.9 L86.0 59.9 L82.0 56.9 L78.0 54.0 L74.0 51.0 L70.0 48.0 L66.0 44.6 L62.0 41.0 L58.0 37.5 L57.7 37.2 L56.2 35.9 L54.7 34.6 L54.0 34.0 L53.2 33.3 L51.7 32.1 L50.2 30.9 L50.0 30.7 L48.7 29.7 L47.2 28.5 L46.0 27.6 L45.7 27.4 L44.2 26.4 L42.7 25.4 L42.0 25.0 L41.2 24.5 L39.7 23.7 L38.2 23.0 L38.0 23.0 L36.7 22.5 L35.2 22.2 L34.0 22.1 L33.7 22.1 L32.2 22.2 L30.7 22.5 L30.0 22.7 L29.2 23.0 L27.7 23.7 L26.2 24.5 L26.0 24.6 L24.7 25.4 L23.2 26.4 L22.0 27.2 L21.7 27.4 L20.2 28.5 L18.7 29.7 L18.0 30.2 L17.2 30.9 L15.7 32.1 L14.2 33.3 L14.0 33.5 L12.7 34.6 L11.2 35.9 L10.0 36.9 L9.7 37.2 L6.0 40.5 L2.0 44.1 L-2.0 47.6 L-6.0 50.6Z" fill="url(#gA0k)" opacity="0.16"/><path d="M-6.0 44.2 L-2.0 41.3 L2.0 37.7 L6.0 34.1 L9.7 30.8 L10.0 30.5 L11.2 29.5 L12.7 28.1 L14.0 27.0 L14.2 26.8 L15.7 25.5 L17.2 24.3 L18.0 23.6 L18.7 23.0 L20.2 21.8 L21.7 20.6 L22.0 20.4 L23.2 19.5 L24.7 18.5 L26.0 17.6 L26.2 17.5 L27.7 16.7 L29.2 15.9 L30.0 15.6 L30.7 15.4 L32.2 15.1 L33.7 14.9 L34.0 15.0 L35.2 15.1 L36.7 15.4 L38.0 15.9 L38.2 15.9 L39.7 16.7 L41.2 17.5 L42.0 18.0 L42.7 18.5 L44.2 19.5 L45.7 20.6 L46.0 20.9 L47.2 21.8 L48.7 23.0 L50.0 24.1 L50.2 24.3 L51.7 25.5 L53.2 26.8 L54.0 27.5 L54.7 28.1 L56.2 29.5 L57.7 30.8 L58.0 31.1 L62.0 34.6 L66.0 38.3 L70.0 41.7 L74.0 44.7 L78.0 47.6 L82.0 50.6 L86.0 53.6 L90.0 56.6 L94.0 59.6 L98.0 62.6 L102.0 65.6 L106.0 68.6 L110.0 71.6 L114.0 74.6 L118.0 77.6 L122.0 80.6 L126.0 83.6 L130.0 86.7 L134.0 89.7 L138.0 92.7 L142.0 95.7 L146.0 98.7 L150.0 101.8 L154.0 104.8 L158.0 107.8 L162.0 110.9 L166.0 113.9 L170.0 116.9 L174.0 119.9 L178.0 123.0 L182.0 126.0 L186.0 129.0 L190.0 132.1 L194.0 135.1 L198.0 138.1 L202.0 141.2 L202.0 142.3 L198.0 139.3 L194.0 136.3 L190.0 133.2 L186.0 130.2 L182.0 127.2 L178.0 124.2 L174.0 121.1 L170.0 118.1 L166.0 115.1 L162.0 112.0 L158.0 109.0 L154.0 106.0 L150.0 103.0 L146.0 99.9 L142.0 96.9 L138.0 93.9 L134.0 90.9 L130.0 87.8 L126.0 84.8 L122.0 81.8 L118.0 78.8 L114.0 75.8 L110.0 72.8 L106.0 69.7 L102.0 66.7 L98.0 63.7 L94.0 60.7 L90.0 57.7 L86.0 54.8 L82.0 51.8 L78.0 48.8 L74.0 45.8 L70.0 42.9 L66.0 39.5 L62.0 35.9 L58.0 32.3 L57.7 32.0 L56.2 30.7 L54.7 29.4 L54.0 28.8 L53.2 28.2 L51.7 26.9 L50.2 25.7 L50.0 25.5 L48.7 24.5 L47.2 23.3 L46.0 22.4 L45.7 22.2 L44.2 21.2 L42.7 20.2 L42.0 19.7 L41.2 19.3 L39.7 18.5 L38.2 17.8 L38.0 17.7 L36.7 17.3 L35.2 17.0 L34.0 16.9 L33.7 16.8 L32.2 17.0 L30.7 17.3 L30.0 17.5 L29.2 17.8 L27.7 18.5 L26.2 19.3 L26.0 19.4 L24.7 20.2 L23.2 21.2 L22.0 22.0 L21.7 22.2 L20.2 23.3 L18.7 24.5 L18.0 25.0 L17.2 25.7 L15.7 26.9 L14.2 28.2 L14.0 28.3 L12.7 29.4 L11.2 30.7 L10.0 31.8 L9.7 32.0 L6.0 35.3 L2.0 38.9 L-2.0 42.5 L-6.0 45.4Z" fill="url(#gA0k)" opacity="0.9"/><path d="M-6.0 46.4 L-2.0 43.4 L2.0 39.9 L6.0 36.3 L9.7 33.0 L10.0 32.7 L11.2 31.6 L12.7 30.3 L14.0 29.2 L14.2 29.0 L15.7 27.7 L17.2 26.4 L18.0 25.7 L18.7 25.2 L20.2 23.9 L21.7 22.8 L22.0 22.5 L23.2 21.6 L24.7 20.6 L26.0 19.7 L26.2 19.6 L27.7 18.8 L29.2 18.0 L30.0 17.7 L30.7 17.5 L32.2 17.2 L33.7 17.1 L34.0 17.1 L35.2 17.2 L36.7 17.5 L38.0 18.0 L38.2 18.0 L39.7 18.8 L41.2 19.6 L42.0 20.1 L42.7 20.6 L44.2 21.6 L45.7 22.8 L46.0 23.0 L47.2 23.9 L48.7 25.2 L50.0 26.2 L50.2 26.4 L51.7 27.7 L53.2 29.0 L54.0 29.7 L54.7 30.3 L56.2 31.6 L57.7 33.0 L58.0 33.2 L62.0 36.8 L66.0 40.5 L70.0 43.9 L74.0 46.8 L78.0 49.8 L82.0 52.8 L86.0 55.7 L90.0 58.7 L94.0 61.7 L98.0 64.7 L102.0 67.7 L106.0 70.7 L110.0 73.7 L114.0 76.8 L118.0 79.8 L122.0 82.8 L126.0 85.8 L130.0 88.8 L134.0 91.9 L138.0 94.9 L142.0 97.9 L146.0 100.9 L150.0 104.0 L154.0 107.0 L158.0 110.0 L162.0 113.0 L166.0 116.1 L170.0 119.1 L174.0 122.1 L178.0 125.2 L182.0 128.2 L186.0 131.2 L190.0 134.2 L194.0 137.3 L198.0 140.3 L202.0 143.3 L202.0 144.8 L198.0 141.7 L194.0 138.7 L190.0 135.7 L186.0 132.6 L182.0 129.6 L178.0 126.6 L174.0 123.5 L170.0 120.5 L166.0 117.5 L162.0 114.5 L158.0 111.4 L154.0 108.4 L150.0 105.4 L146.0 102.4 L142.0 99.3 L138.0 96.3 L134.0 93.3 L130.0 90.3 L126.0 87.2 L122.0 84.2 L118.0 81.2 L114.0 78.2 L110.0 75.2 L106.0 72.2 L102.0 69.2 L98.0 66.2 L94.0 63.2 L90.0 60.2 L86.0 57.2 L82.0 54.2 L78.0 51.2 L74.0 48.3 L70.0 45.3 L66.0 41.9 L62.0 38.3 L58.0 34.7 L57.7 34.5 L56.2 33.2 L54.7 31.9 L54.0 31.3 L53.2 30.6 L51.7 29.4 L50.2 28.1 L50.0 28.0 L48.7 26.9 L47.2 25.8 L46.0 24.9 L45.7 24.7 L44.2 23.6 L42.7 22.6 L42.0 22.2 L41.2 21.7 L39.7 20.9 L38.2 20.3 L38.0 20.2 L36.7 19.8 L35.2 19.5 L34.0 19.4 L33.7 19.3 L32.2 19.5 L30.7 19.8 L30.0 20.0 L29.2 20.3 L27.7 20.9 L26.2 21.7 L26.0 21.9 L24.7 22.6 L23.2 23.6 L22.0 24.5 L21.7 24.7 L20.2 25.8 L18.7 26.9 L18.0 27.5 L17.2 28.1 L15.7 29.4 L14.2 30.6 L14.0 30.8 L12.7 31.9 L11.2 33.2 L10.0 34.2 L9.7 34.5 L6.0 37.7 L2.0 41.4 L-2.0 44.9 L-6.0 47.8Z" fill="url(#gA0w)"/><path d="M-6.0 147.6 L-2.0 144.6 L2.0 141.6 L6.0 138.6 L10.0 135.5 L14.0 132.5 L18.0 129.5 L22.0 126.5 L26.0 123.5 L30.0 120.5 L34.0 117.5 L38.0 114.5 L42.0 111.5 L46.0 108.5 L50.0 105.5 L54.0 102.5 L58.0 99.5 L62.0 96.5 L66.0 93.6 L70.0 90.6 L74.0 87.6 L78.0 84.6 L82.0 81.7 L86.0 78.7 L90.0 75.8 L94.0 72.9 L98.0 70.0 L102.0 67.0 L106.0 64.2 L110.0 61.3 L114.0 58.4 L118.0 55.6 L122.0 52.8 L126.0 49.8 L130.0 46.5 L134.0 43.2 L135.5 42.0 L137.0 40.9 L138.0 40.1 L138.5 39.7 L140.0 38.6 L141.5 37.5 L142.0 37.2 L143.0 36.5 L144.5 35.5 L146.0 34.5 L147.5 33.6 L149.0 32.8 L150.0 32.3 L150.5 32.1 L152.0 31.4 L153.5 30.8 L154.0 30.7 L155.0 30.4 L156.5 30.1 L158.0 29.9 L159.5 29.8 L161.0 29.9 L162.0 30.0 L162.5 30.1 L164.0 30.4 L165.5 30.8 L166.0 31.0 L167.0 31.4 L168.5 32.1 L170.0 32.8 L171.5 33.6 L173.0 34.5 L174.0 35.1 L174.5 35.5 L176.0 36.5 L177.5 37.5 L178.0 37.9 L179.0 38.6 L180.5 39.7 L182.0 40.9 L183.5 42.0 L186.0 44.0 L190.0 47.3 L194.0 50.7 L198.0 53.5 L202.0 56.3 L202.0 57.7 L198.0 54.9 L194.0 52.1 L190.0 48.7 L186.0 45.4 L183.5 43.5 L182.0 42.3 L180.5 41.2 L179.0 40.2 L178.0 39.5 L177.5 39.1 L176.0 38.1 L174.5 37.2 L174.0 36.9 L173.0 36.3 L171.5 35.5 L170.0 34.7 L168.5 34.0 L167.0 33.4 L166.0 33.1 L165.5 32.9 L164.0 32.5 L162.5 32.2 L162.0 32.2 L161.0 32.1 L159.5 32.0 L158.0 32.1 L156.5 32.2 L155.0 32.5 L154.0 32.8 L153.5 32.9 L152.0 33.4 L150.5 34.0 L150.0 34.2 L149.0 34.7 L147.5 35.5 L146.0 36.3 L144.5 37.2 L143.0 38.1 L142.0 38.8 L141.5 39.1 L140.0 40.2 L138.5 41.2 L138.0 41.6 L137.0 42.3 L135.5 43.5 L134.0 44.6 L130.0 47.9 L126.0 51.2 L122.0 54.2 L118.0 57.0 L114.0 59.8 L110.0 62.7 L106.0 65.5 L102.0 68.4 L98.0 71.3 L94.0 74.2 L90.0 77.2 L86.0 80.1 L82.0 83.1 L78.0 86.0 L74.0 89.0 L70.0 91.9 L66.0 94.9 L62.0 97.9 L58.0 100.9 L54.0 103.9 L50.0 106.9 L46.0 109.9 L42.0 112.9 L38.0 115.9 L34.0 118.9 L30.0 121.9 L26.0 124.9 L22.0 127.9 L18.0 130.9 L14.0 133.9 L10.0 136.9 L6.0 139.9 L2.0 142.9 L-2.0 146.0 L-6.0 149.0Z" fill="url(#gA1w)" opacity="0.08"/><path d="M-6.0 143.7 L-2.0 140.7 L2.0 137.7 L6.0 134.7 L10.0 131.6 L14.0 128.6 L18.0 125.6 L22.0 122.6 L26.0 119.6 L30.0 116.6 L34.0 113.5 L38.0 110.5 L42.0 107.5 L46.0 104.5 L50.0 101.5 L54.0 98.5 L58.0 95.5 L62.0 92.5 L66.0 89.5 L70.0 86.5 L74.0 83.5 L78.0 80.6 L82.0 77.6 L86.0 74.6 L90.0 71.7 L94.0 68.7 L98.0 65.8 L102.0 62.8 L106.0 59.9 L110.0 57.0 L114.0 54.1 L118.0 51.2 L122.0 48.4 L126.0 45.3 L130.0 41.9 L134.0 38.5 L135.5 37.3 L137.0 36.0 L138.0 35.2 L138.5 34.8 L140.0 33.7 L141.5 32.5 L142.0 32.2 L143.0 31.4 L144.5 30.3 L146.0 29.3 L147.5 28.4 L149.0 27.4 L150.0 26.9 L150.5 26.6 L152.0 25.9 L153.5 25.3 L154.0 25.1 L155.0 24.8 L156.5 24.4 L158.0 24.2 L159.5 24.1 L161.0 24.2 L162.0 24.3 L162.5 24.4 L164.0 24.8 L165.5 25.3 L166.0 25.5 L167.0 25.9 L168.5 26.6 L170.0 27.4 L171.5 28.4 L173.0 29.3 L174.0 30.0 L174.5 30.3 L176.0 31.4 L177.5 32.5 L178.0 32.9 L179.0 33.7 L180.5 34.8 L182.0 36.0 L183.5 37.3 L186.0 39.3 L190.0 42.7 L194.0 46.2 L198.0 49.1 L202.0 51.9 L202.0 53.4 L198.0 50.6 L194.0 47.7 L190.0 44.2 L186.0 40.9 L183.5 38.8 L182.0 37.7 L180.5 36.5 L179.0 35.4 L178.0 34.6 L177.5 34.3 L176.0 33.2 L174.5 32.2 L174.0 31.9 L173.0 31.3 L171.5 30.4 L170.0 29.5 L168.5 28.8 L167.0 28.1 L166.0 27.7 L165.5 27.6 L164.0 27.1 L162.5 26.8 L162.0 26.7 L161.0 26.6 L159.5 26.5 L158.0 26.6 L156.5 26.8 L155.0 27.1 L154.0 27.4 L153.5 27.6 L152.0 28.1 L150.5 28.8 L150.0 29.0 L149.0 29.5 L147.5 30.4 L146.0 31.3 L144.5 32.2 L143.0 33.2 L142.0 33.9 L141.5 34.3 L140.0 35.4 L138.5 36.5 L138.0 36.9 L137.0 37.7 L135.5 38.8 L134.0 40.1 L130.0 43.4 L126.0 46.8 L122.0 49.9 L118.0 52.7 L114.0 55.6 L110.0 58.5 L106.0 61.4 L102.0 64.3 L98.0 67.2 L94.0 70.2 L90.0 73.1 L86.0 76.1 L82.0 79.1 L78.0 82.0 L74.0 85.0 L70.0 88.0 L66.0 91.0 L62.0 94.0 L58.0 97.0 L54.0 100.0 L50.0 103.0 L46.0 106.0 L42.0 109.0 L38.0 112.0 L34.0 115.0 L30.0 118.0 L26.0 121.1 L22.0 124.1 L18.0 127.1 L14.0 130.1 L10.0 133.1 L6.0 136.1 L2.0 139.2 L-2.0 142.2 L-6.0 145.2Z" fill="url(#gA1k)" opacity="0.16"/><path d="M-6.0 138.9 L-2.0 135.9 L2.0 132.8 L6.0 129.8 L10.0 126.8 L14.0 123.8 L18.0 120.8 L22.0 117.7 L26.0 114.7 L30.0 111.7 L34.0 108.7 L38.0 105.7 L42.0 102.7 L46.0 99.7 L50.0 96.7 L54.0 93.7 L58.0 90.7 L62.0 87.7 L66.0 84.7 L70.0 81.7 L74.0 78.7 L78.0 75.7 L82.0 72.7 L86.0 69.8 L90.0 66.8 L94.0 63.9 L98.0 60.9 L102.0 58.0 L106.0 55.0 L110.0 52.1 L114.0 49.3 L118.0 46.4 L122.0 43.5 L126.0 40.5 L130.0 37.0 L134.0 33.7 L135.5 32.4 L137.0 31.2 L138.0 30.4 L138.5 30.0 L140.0 28.8 L141.5 27.7 L142.0 27.3 L143.0 26.6 L144.5 25.5 L146.0 24.5 L147.5 23.6 L149.0 22.7 L150.0 22.1 L150.5 21.9 L152.0 21.1 L153.5 20.5 L154.0 20.3 L155.0 20.0 L156.5 19.6 L158.0 19.4 L159.5 19.4 L161.0 19.4 L162.0 19.6 L162.5 19.6 L164.0 20.0 L165.5 20.5 L166.0 20.7 L167.0 21.1 L168.5 21.9 L170.0 22.7 L171.5 23.6 L173.0 24.5 L174.0 25.2 L174.5 25.5 L176.0 26.6 L177.5 27.7 L178.0 28.1 L179.0 28.8 L180.5 30.0 L182.0 31.2 L183.5 32.4 L186.0 34.5 L190.0 37.9 L194.0 41.3 L198.0 44.3 L202.0 47.1 L202.0 48.3 L198.0 45.4 L194.0 42.5 L190.0 39.1 L186.0 35.7 L183.5 33.7 L182.0 32.5 L180.5 31.3 L179.0 30.2 L178.0 29.5 L177.5 29.1 L176.0 28.0 L174.5 27.0 L174.0 26.7 L173.0 26.1 L171.5 25.1 L170.0 24.3 L168.5 23.6 L167.0 22.9 L166.0 22.5 L165.5 22.3 L164.0 21.9 L162.5 21.5 L162.0 21.4 L161.0 21.3 L159.5 21.2 L158.0 21.3 L156.5 21.5 L155.0 21.9 L154.0 22.2 L153.5 22.3 L152.0 22.9 L150.5 23.6 L150.0 23.8 L149.0 24.3 L147.5 25.1 L146.0 26.1 L144.5 27.0 L143.0 28.0 L142.0 28.7 L141.5 29.1 L140.0 30.2 L138.5 31.3 L138.0 31.7 L137.0 32.5 L135.5 33.7 L134.0 34.9 L130.0 38.2 L126.0 41.7 L122.0 44.7 L118.0 47.6 L114.0 50.4 L110.0 53.3 L106.0 56.2 L102.0 59.1 L98.0 62.1 L94.0 65.0 L90.0 68.0 L86.0 70.9 L82.0 73.9 L78.0 76.9 L74.0 79.9 L70.0 82.9 L66.0 85.9 L62.0 88.8 L58.0 91.8 L54.0 94.8 L50.0 97.8 L46.0 100.8 L42.0 103.9 L38.0 106.9 L34.0 109.9 L30.0 112.9 L26.0 115.9 L22.0 118.9 L18.0 121.9 L14.0 125.0 L10.0 128.0 L6.0 131.0 L2.0 134.0 L-2.0 137.0 L-6.0 140.1Z" fill="url(#gA1k)" opacity="0.9"/><path d="M-6.0 141.1 L-2.0 138.0 L2.0 135.0 L6.0 132.0 L10.0 129.0 L14.0 126.0 L18.0 122.9 L22.0 119.9 L26.0 116.9 L30.0 113.9 L34.0 110.9 L38.0 107.9 L42.0 104.9 L46.0 101.8 L50.0 98.8 L54.0 95.8 L58.0 92.8 L62.0 89.8 L66.0 86.8 L70.0 83.9 L74.0 80.9 L78.0 77.9 L82.0 74.9 L86.0 71.9 L90.0 69.0 L94.0 66.0 L98.0 63.1 L102.0 60.1 L106.0 57.2 L110.0 54.3 L114.0 51.4 L118.0 48.6 L122.0 45.7 L126.0 42.6 L130.0 39.2 L134.0 35.8 L135.5 34.6 L137.0 33.4 L138.0 32.6 L138.5 32.2 L140.0 31.0 L141.5 29.9 L142.0 29.5 L143.0 28.8 L144.5 27.7 L146.0 26.7 L147.5 25.7 L149.0 24.8 L150.0 24.2 L150.5 24.0 L152.0 23.2 L153.5 22.6 L154.0 22.4 L155.0 22.1 L156.5 21.8 L158.0 21.5 L159.5 21.5 L161.0 21.5 L162.0 21.7 L162.5 21.8 L164.0 22.1 L165.5 22.6 L166.0 22.8 L167.0 23.2 L168.5 24.0 L170.0 24.8 L171.5 25.7 L173.0 26.7 L174.0 27.3 L174.5 27.7 L176.0 28.8 L177.5 29.9 L178.0 30.2 L179.0 31.0 L180.5 32.2 L182.0 33.4 L183.5 34.6 L186.0 36.7 L190.0 40.1 L194.0 43.5 L198.0 46.4 L202.0 49.3 L202.0 50.7 L198.0 47.9 L194.0 45.0 L190.0 41.5 L186.0 38.1 L183.5 36.1 L182.0 34.9 L180.5 33.8 L179.0 32.6 L178.0 31.9 L177.5 31.5 L176.0 30.5 L174.5 29.5 L174.0 29.1 L173.0 28.5 L171.5 27.6 L170.0 26.8 L168.5 26.0 L167.0 25.4 L166.0 25.0 L165.5 24.8 L164.0 24.4 L162.5 24.0 L162.0 23.9 L161.0 23.8 L159.5 23.8 L158.0 23.8 L156.5 24.0 L155.0 24.4 L154.0 24.6 L153.5 24.8 L152.0 25.4 L150.5 26.0 L150.0 26.3 L149.0 26.8 L147.5 27.6 L146.0 28.5 L144.5 29.5 L143.0 30.5 L142.0 31.2 L141.5 31.5 L140.0 32.6 L138.5 33.8 L138.0 34.1 L137.0 34.9 L135.5 36.1 L134.0 37.3 L130.0 40.7 L126.0 44.1 L122.0 47.2 L118.0 50.0 L114.0 52.9 L110.0 55.7 L106.0 58.7 L102.0 61.6 L98.0 64.5 L94.0 67.5 L90.0 70.4 L86.0 73.4 L82.0 76.3 L78.0 79.3 L74.0 82.3 L70.0 85.3 L66.0 88.3 L62.0 91.3 L58.0 94.3 L54.0 97.3 L50.0 100.3 L46.0 103.3 L42.0 106.3 L38.0 109.3 L34.0 112.3 L30.0 115.3 L26.0 118.3 L22.0 121.3 L18.0 124.4 L14.0 127.4 L10.0 130.4 L6.0 133.4 L2.0 136.4 L-2.0 139.5 L-6.0 142.5Z" fill="url(#gA1w)"/></g></symbol>
<symbol id="rgB" overflow="hidden" viewBox="0 0 198.7 98.3"><g filter="url(#bl)"><rect x="-5" y="-5" width="208.7" height="108.3" fill="#818181"/><rect x="-5" y="6.8" width="208.7" height="1.5" fill="#fff" opacity="0.06"/><rect x="-5" y="8.8" width="208.7" height="1.5" fill="#000" opacity="0.045"/><path d="M-6.0 134.2 L-2.0 131.3 L2.0 128.5 L6.0 125.6 L10.0 122.8 L14.0 119.9 L18.0 117.1 L22.0 114.3 L26.0 111.5 L30.0 108.7 L34.0 105.9 L38.0 103.2 L42.0 100.4 L46.0 97.7 L50.0 95.0 L54.0 92.4 L58.0 89.7 L62.0 87.1 L66.0 84.5 L70.0 82.0 L74.0 79.5 L78.0 77.0 L82.0 74.6 L86.0 72.3 L90.0 70.0 L94.0 67.7 L98.0 65.6 L102.0 63.5 L106.0 61.4 L110.0 59.1 L114.0 57.0 L115.7 56.2 L117.2 55.5 L118.0 55.1 L118.7 54.8 L120.2 54.2 L121.7 53.6 L122.0 53.4 L123.2 53.0 L124.7 52.5 L126.0 52.0 L126.2 52.0 L127.7 51.5 L129.2 51.1 L130.0 50.9 L130.7 50.7 L132.2 50.4 L133.7 50.2 L134.0 50.1 L135.2 50.0 L136.7 49.8 L138.0 49.7 L138.2 49.7 L139.7 49.7 L141.2 49.7 L142.0 49.8 L142.7 49.8 L144.2 50.0 L145.7 50.2 L146.0 50.2 L147.2 50.4 L148.7 50.7 L150.0 51.0 L150.2 51.1 L151.7 51.5 L153.2 52.0 L154.0 52.2 L154.7 52.5 L156.2 53.0 L157.7 53.6 L158.0 53.7 L159.2 54.2 L160.7 54.8 L162.0 55.4 L162.2 55.5 L163.7 56.2 L166.0 57.3 L170.0 59.5 L174.0 61.8 L178.0 63.8 L182.0 65.9 L186.0 68.1 L190.0 70.3 L194.0 72.6 L198.0 75.0 L202.0 77.4 L202.0 79.0 L198.0 76.6 L194.0 74.2 L190.0 71.9 L186.0 69.7 L182.0 67.5 L178.0 65.5 L174.0 63.4 L170.0 61.1 L166.0 59.0 L163.7 57.9 L162.2 57.2 L162.0 57.1 L160.7 56.6 L159.2 56.0 L158.0 55.6 L157.7 55.4 L156.2 54.9 L154.7 54.5 L154.0 54.3 L153.2 54.1 L151.7 53.7 L150.2 53.4 L150.0 53.3 L148.7 53.1 L147.2 52.8 L146.0 52.7 L145.7 52.6 L144.2 52.5 L142.7 52.4 L142.0 52.3 L141.2 52.3 L139.7 52.3 L138.2 52.3 L138.0 52.3 L136.7 52.4 L135.2 52.5 L134.0 52.6 L133.7 52.6 L132.2 52.8 L130.7 53.1 L130.0 53.2 L129.2 53.4 L127.7 53.7 L126.2 54.1 L126.0 54.1 L124.7 54.5 L123.2 54.9 L122.0 55.3 L121.7 55.4 L120.2 56.0 L118.7 56.6 L118.0 56.9 L117.2 57.2 L115.7 57.9 L114.0 58.7 L110.0 60.8 L106.0 63.0 L102.0 65.2 L98.0 67.2 L94.0 69.4 L90.0 71.6 L86.0 73.9 L82.0 76.2 L78.0 78.6 L74.0 81.1 L70.0 83.6 L66.0 86.1 L62.0 88.7 L58.0 91.3 L54.0 94.0 L50.0 96.6 L46.0 99.3 L42.0 102.1 L38.0 104.8 L34.0 107.5 L30.0 110.3 L26.0 113.1 L22.0 115.9 L18.0 118.7 L14.0 121.5 L10.0 124.4 L6.0 127.2 L2.0 130.1 L-2.0 132.9 L-6.0 135.8Z" fill="url(#sB0w)" filter="url(#bl2)"/><path d="M-6.0 131.7 L-2.0 128.8 L2.0 125.9 L6.0 123.1 L10.0 120.2 L14.0 117.4 L18.0 114.6 L22.0 111.8 L26.0 109.0 L30.0 106.2 L34.0 103.4 L38.0 100.6 L42.0 97.9 L46.0 95.2 L50.0 92.5 L54.0 89.8 L58.0 87.2 L62.0 84.6 L66.0 82.0 L70.0 79.5 L74.0 76.9 L78.0 74.5 L82.0 72.1 L86.0 69.7 L90.0 67.4 L94.0 65.2 L98.0 63.1 L102.0 61.0 L106.0 58.9 L110.0 56.6 L114.0 54.5 L115.7 53.6 L117.2 52.9 L118.0 52.6 L118.7 52.3 L120.2 51.6 L121.7 51.0 L122.0 50.9 L123.2 50.5 L124.7 49.9 L126.0 49.5 L126.2 49.4 L127.7 49.0 L129.2 48.6 L130.0 48.4 L130.7 48.2 L132.2 47.9 L133.7 47.7 L134.0 47.6 L135.2 47.5 L136.7 47.3 L138.0 47.2 L138.2 47.2 L139.7 47.2 L141.2 47.2 L142.0 47.3 L142.7 47.3 L144.2 47.5 L145.7 47.7 L146.0 47.7 L147.2 47.9 L148.7 48.2 L150.0 48.5 L150.2 48.6 L151.7 49.0 L153.2 49.4 L154.0 49.7 L154.7 49.9 L156.2 50.5 L157.7 51.0 L158.0 51.1 L159.2 51.6 L160.7 52.3 L162.0 52.9 L162.2 52.9 L163.7 53.6 L166.0 54.8 L170.0 56.9 L174.0 59.2 L178.0 61.3 L182.0 63.4 L186.0 65.5 L190.0 67.8 L194.0 70.1 L198.0 72.4 L202.0 74.9 L202.0 76.3 L198.0 73.9 L194.0 71.6 L190.0 69.3 L186.0 67.0 L182.0 64.9 L178.0 62.8 L174.0 60.7 L170.0 58.4 L166.0 56.3 L163.7 55.2 L162.2 54.6 L162.0 54.5 L160.7 53.9 L159.2 53.3 L158.0 52.9 L157.7 52.8 L156.2 52.3 L154.7 51.8 L154.0 51.6 L153.2 51.4 L151.7 51.0 L150.2 50.7 L150.0 50.6 L148.7 50.4 L147.2 50.1 L146.0 50.0 L145.7 49.9 L144.2 49.8 L142.7 49.7 L142.0 49.7 L141.2 49.6 L139.7 49.6 L138.2 49.6 L138.0 49.6 L136.7 49.7 L135.2 49.8 L134.0 49.9 L133.7 49.9 L132.2 50.1 L130.7 50.4 L130.0 50.5 L129.2 50.7 L127.7 51.0 L126.2 51.4 L126.0 51.4 L124.7 51.8 L123.2 52.3 L122.0 52.7 L121.7 52.8 L120.2 53.3 L118.7 53.9 L118.0 54.2 L117.2 54.6 L115.7 55.2 L114.0 56.0 L110.0 58.1 L106.0 60.4 L102.0 62.5 L98.0 64.6 L94.0 66.7 L90.0 68.9 L86.0 71.2 L82.0 73.6 L78.0 76.0 L74.0 78.4 L70.0 80.9 L66.0 83.5 L62.0 86.1 L58.0 88.7 L54.0 91.3 L50.0 94.0 L46.0 96.7 L42.0 99.4 L38.0 102.1 L34.0 104.9 L30.0 107.7 L26.0 110.4 L22.0 113.2 L18.0 116.1 L14.0 118.9 L10.0 121.7 L6.0 124.6 L2.0 127.4 L-2.0 130.3 L-6.0 133.2Z" fill="url(#sB0k)" filter="url(#bl2)"/><path d="M-6.0 136.9 L-2.0 134.0 L2.0 131.1 L6.0 128.3 L10.0 125.4 L14.0 122.6 L18.0 119.8 L22.0 117.0 L26.0 114.2 L30.0 111.4 L34.0 108.6 L38.0 105.8 L42.0 103.1 L46.0 100.4 L50.0 97.7 L54.0 95.0 L58.0 92.4 L62.0 89.8 L66.0 87.2 L70.0 84.7 L74.0 82.1 L78.0 79.7 L82.0 77.3 L86.0 74.9 L90.0 72.6 L94.0 70.4 L98.0 68.3 L102.0 66.2 L106.0 64.1 L110.0 61.8 L114.0 59.7 L115.7 58.8 L117.2 58.1 L118.0 57.8 L118.7 57.5 L120.2 56.8 L121.7 56.2 L122.0 56.1 L123.2 55.7 L124.7 55.1 L126.0 54.7 L126.2 54.6 L127.7 54.2 L129.2 53.8 L130.0 53.6 L130.7 53.4 L132.2 53.1 L133.7 52.9 L134.0 52.8 L135.2 52.7 L136.7 52.5 L138.0 52.4 L138.2 52.4 L139.7 52.4 L141.2 52.4 L142.0 52.5 L142.7 52.5 L144.2 52.7 L145.7 52.9 L146.0 52.9 L147.2 53.1 L148.7 53.4 L150.0 53.7 L150.2 53.8 L151.7 54.2 L153.2 54.6 L154.0 54.9 L154.7 55.1 L156.2 55.7 L157.7 56.2 L158.0 56.3 L159.2 56.8 L160.7 57.5 L162.0 58.1 L162.2 58.1 L163.7 58.8 L166.0 60.0 L170.0 62.1 L174.0 64.4 L178.0 66.5 L182.0 68.6 L186.0 70.7 L190.0 73.0 L194.0 75.3 L198.0 77.6 L202.0 80.1 L202.0 81.5 L198.0 79.1 L194.0 76.8 L190.0 74.5 L186.0 72.2 L182.0 70.1 L178.0 68.0 L174.0 65.9 L170.0 63.6 L166.0 61.5 L163.7 60.4 L162.2 59.8 L162.0 59.7 L160.7 59.1 L159.2 58.5 L158.0 58.1 L157.7 58.0 L156.2 57.5 L154.7 57.0 L154.0 56.8 L153.2 56.6 L151.7 56.2 L150.2 55.9 L150.0 55.8 L148.7 55.6 L147.2 55.3 L146.0 55.2 L145.7 55.1 L144.2 55.0 L142.7 54.9 L142.0 54.9 L141.2 54.8 L139.7 54.8 L138.2 54.8 L138.0 54.8 L136.7 54.9 L135.2 55.0 L134.0 55.1 L133.7 55.1 L132.2 55.3 L130.7 55.6 L130.0 55.7 L129.2 55.9 L127.7 56.2 L126.2 56.6 L126.0 56.6 L124.7 57.0 L123.2 57.5 L122.0 57.9 L121.7 58.0 L120.2 58.5 L118.7 59.1 L118.0 59.4 L117.2 59.8 L115.7 60.4 L114.0 61.2 L110.0 63.3 L106.0 65.6 L102.0 67.7 L98.0 69.8 L94.0 71.9 L90.0 74.1 L86.0 76.4 L82.0 78.8 L78.0 81.2 L74.0 83.6 L70.0 86.1 L66.0 88.7 L62.0 91.3 L58.0 93.9 L54.0 96.5 L50.0 99.2 L46.0 101.9 L42.0 104.6 L38.0 107.3 L34.0 110.1 L30.0 112.9 L26.0 115.6 L22.0 118.4 L18.0 121.3 L14.0 124.1 L10.0 126.9 L6.0 129.8 L2.0 132.6 L-2.0 135.5 L-6.0 138.4Z" fill="url(#sB0k)" filter="url(#bl2)" opacity="0.6"/><path d="M-6.0 144.1 L-2.0 141.2 L2.0 138.4 L6.0 135.6 L10.0 132.7 L14.0 129.9 L18.0 127.2 L22.0 124.4 L26.0 121.6 L30.0 118.9 L34.0 116.2 L38.0 113.5 L42.0 110.8 L46.0 108.1 L50.0 105.5 L54.0 102.9 L58.0 100.3 L62.0 97.8 L66.0 95.3 L70.0 92.8 L74.0 90.4 L78.0 88.0 L82.0 85.7 L86.0 83.4 L90.0 81.2 L94.0 79.1 L98.0 77.1 L102.0 75.1 L106.0 73.1 L110.0 70.9 L114.0 69.0 L115.7 68.2 L117.2 67.5 L118.0 67.2 L118.7 66.9 L120.2 66.3 L121.7 65.8 L122.0 65.7 L123.2 65.2 L124.7 64.7 L126.0 64.3 L126.2 64.3 L127.7 63.9 L129.2 63.5 L130.0 63.3 L130.7 63.2 L132.2 62.9 L133.7 62.6 L134.0 62.6 L135.2 62.4 L136.7 62.3 L138.0 62.2 L138.2 62.2 L139.7 62.2 L141.2 62.2 L142.0 62.3 L142.7 62.3 L144.2 62.4 L145.7 62.6 L146.0 62.7 L147.2 62.9 L148.7 63.2 L150.0 63.4 L150.2 63.5 L151.7 63.9 L153.2 64.3 L154.0 64.5 L154.7 64.7 L156.2 65.2 L157.7 65.8 L158.0 65.9 L159.2 66.3 L160.7 66.9 L162.0 67.5 L162.2 67.5 L163.7 68.2 L166.0 69.3 L170.0 71.3 L174.0 73.4 L178.0 75.4 L182.0 77.4 L186.0 79.4 L190.0 81.5 L194.0 83.7 L198.0 86.0 L202.0 88.3 L202.0 90.0 L198.0 87.6 L194.0 85.4 L190.0 83.2 L186.0 81.0 L182.0 79.0 L178.0 77.0 L174.0 75.1 L170.0 72.9 L166.0 70.9 L163.7 69.9 L162.2 69.3 L162.0 69.2 L160.7 68.7 L159.2 68.2 L158.0 67.7 L157.7 67.7 L156.2 67.2 L154.7 66.8 L154.0 66.6 L153.2 66.4 L151.7 66.0 L150.2 65.7 L150.0 65.7 L148.7 65.5 L147.2 65.3 L146.0 65.1 L145.7 65.1 L144.2 65.0 L142.7 64.9 L142.0 64.8 L141.2 64.8 L139.7 64.8 L138.2 64.8 L138.0 64.8 L136.7 64.9 L135.2 65.0 L134.0 65.1 L133.7 65.1 L132.2 65.3 L130.7 65.5 L130.0 65.6 L129.2 65.7 L127.7 66.0 L126.2 66.4 L126.0 66.4 L124.7 66.8 L123.2 67.2 L122.0 67.6 L121.7 67.7 L120.2 68.2 L118.7 68.7 L118.0 69.0 L117.2 69.3 L115.7 69.9 L114.0 70.7 L110.0 72.6 L106.0 74.7 L102.0 76.7 L98.0 78.7 L94.0 80.7 L90.0 82.8 L86.0 85.0 L82.0 87.3 L78.0 89.6 L74.0 92.0 L70.0 94.4 L66.0 96.9 L62.0 99.4 L58.0 101.9 L54.0 104.5 L50.0 107.1 L46.0 109.7 L42.0 112.4 L38.0 115.1 L34.0 117.8 L30.0 120.5 L26.0 123.2 L22.0 126.0 L18.0 128.8 L14.0 131.6 L10.0 134.4 L6.0 137.2 L2.0 140.0 L-2.0 142.8 L-6.0 145.7Z" fill="url(#sB1w)" filter="url(#bl2)"/><path d="M-6.0 141.5 L-2.0 138.7 L2.0 135.8 L6.0 133.0 L10.0 130.2 L14.0 127.4 L18.0 124.6 L22.0 121.9 L26.0 119.1 L30.0 116.4 L34.0 113.6 L38.0 110.9 L42.0 108.2 L46.0 105.6 L50.0 103.0 L54.0 100.4 L58.0 97.8 L62.0 95.2 L66.0 92.7 L70.0 90.3 L74.0 87.8 L78.0 85.5 L82.0 83.1 L86.0 80.9 L90.0 78.7 L94.0 76.6 L98.0 74.5 L102.0 72.6 L106.0 70.6 L110.0 68.4 L114.0 66.4 L115.7 65.7 L117.2 65.0 L118.0 64.7 L118.7 64.4 L120.2 63.8 L121.7 63.2 L122.0 63.1 L123.2 62.7 L124.7 62.2 L126.0 61.8 L126.2 61.8 L127.7 61.3 L129.2 61.0 L130.0 60.8 L130.7 60.6 L132.2 60.4 L133.7 60.1 L134.0 60.1 L135.2 59.9 L136.7 59.8 L138.0 59.7 L138.2 59.7 L139.7 59.7 L141.2 59.7 L142.0 59.8 L142.7 59.8 L144.2 59.9 L145.7 60.1 L146.0 60.2 L147.2 60.4 L148.7 60.6 L150.0 60.9 L150.2 61.0 L151.7 61.3 L153.2 61.8 L154.0 62.0 L154.7 62.2 L156.2 62.7 L157.7 63.2 L158.0 63.3 L159.2 63.8 L160.7 64.4 L162.0 64.9 L162.2 65.0 L163.7 65.7 L166.0 66.7 L170.0 68.7 L174.0 70.9 L178.0 72.9 L182.0 74.8 L186.0 76.9 L190.0 79.0 L194.0 81.2 L198.0 83.5 L202.0 85.8 L202.0 87.3 L198.0 85.0 L194.0 82.7 L190.0 80.5 L186.0 78.4 L182.0 76.3 L178.0 74.3 L174.0 72.4 L170.0 70.2 L166.0 68.3 L163.7 67.2 L162.2 66.6 L162.0 66.5 L160.7 66.0 L159.2 65.5 L158.0 65.1 L157.7 65.0 L156.2 64.5 L154.7 64.1 L154.0 63.9 L153.2 63.7 L151.7 63.4 L150.2 63.1 L150.0 63.0 L148.7 62.8 L147.2 62.6 L146.0 62.4 L145.7 62.4 L144.2 62.3 L142.7 62.2 L142.0 62.1 L141.2 62.1 L139.7 62.1 L138.2 62.1 L138.0 62.1 L136.7 62.2 L135.2 62.3 L134.0 62.4 L133.7 62.4 L132.2 62.6 L130.7 62.8 L130.0 62.9 L129.2 63.1 L127.7 63.4 L126.2 63.7 L126.0 63.7 L124.7 64.1 L123.2 64.5 L122.0 64.9 L121.7 65.0 L120.2 65.5 L118.7 66.0 L118.0 66.3 L117.2 66.6 L115.7 67.2 L114.0 68.0 L110.0 69.9 L106.0 72.1 L102.0 74.1 L98.0 76.0 L94.0 78.0 L90.0 80.2 L86.0 82.4 L82.0 84.6 L78.0 86.9 L74.0 89.3 L70.0 91.7 L66.0 94.2 L62.0 96.7 L58.0 99.3 L54.0 101.8 L50.0 104.4 L46.0 107.1 L42.0 109.7 L38.0 112.4 L34.0 115.1 L30.0 117.8 L26.0 120.6 L22.0 123.3 L18.0 126.1 L14.0 128.9 L10.0 131.7 L6.0 134.5 L2.0 137.3 L-2.0 140.2 L-6.0 143.0Z" fill="url(#sB1k)" filter="url(#bl2)"/><path d="M-6.0 146.7 L-2.0 143.9 L2.0 141.0 L6.0 138.2 L10.0 135.4 L14.0 132.6 L18.0 129.8 L22.0 127.1 L26.0 124.3 L30.0 121.6 L34.0 118.8 L38.0 116.1 L42.0 113.4 L46.0 110.8 L50.0 108.2 L54.0 105.6 L58.0 103.0 L62.0 100.4 L66.0 97.9 L70.0 95.5 L74.0 93.0 L78.0 90.7 L82.0 88.3 L86.0 86.1 L90.0 83.9 L94.0 81.8 L98.0 79.7 L102.0 77.8 L106.0 75.8 L110.0 73.6 L114.0 71.6 L115.7 70.9 L117.2 70.2 L118.0 69.9 L118.7 69.6 L120.2 69.0 L121.7 68.4 L122.0 68.3 L123.2 67.9 L124.7 67.4 L126.0 67.0 L126.2 67.0 L127.7 66.5 L129.2 66.2 L130.0 66.0 L130.7 65.8 L132.2 65.6 L133.7 65.3 L134.0 65.3 L135.2 65.1 L136.7 65.0 L138.0 64.9 L138.2 64.9 L139.7 64.9 L141.2 64.9 L142.0 65.0 L142.7 65.0 L144.2 65.1 L145.7 65.3 L146.0 65.4 L147.2 65.6 L148.7 65.8 L150.0 66.1 L150.2 66.2 L151.7 66.5 L153.2 67.0 L154.0 67.2 L154.7 67.4 L156.2 67.9 L157.7 68.4 L158.0 68.5 L159.2 69.0 L160.7 69.6 L162.0 70.1 L162.2 70.2 L163.7 70.9 L166.0 71.9 L170.0 73.9 L174.0 76.1 L178.0 78.1 L182.0 80.0 L186.0 82.1 L190.0 84.2 L194.0 86.4 L198.0 88.7 L202.0 91.0 L202.0 92.5 L198.0 90.2 L194.0 87.9 L190.0 85.7 L186.0 83.6 L182.0 81.5 L178.0 79.5 L174.0 77.6 L170.0 75.4 L166.0 73.5 L163.7 72.4 L162.2 71.8 L162.0 71.7 L160.7 71.2 L159.2 70.7 L158.0 70.3 L157.7 70.2 L156.2 69.7 L154.7 69.3 L154.0 69.1 L153.2 68.9 L151.7 68.6 L150.2 68.3 L150.0 68.2 L148.7 68.0 L147.2 67.8 L146.0 67.6 L145.7 67.6 L144.2 67.5 L142.7 67.4 L142.0 67.3 L141.2 67.3 L139.7 67.3 L138.2 67.3 L138.0 67.3 L136.7 67.4 L135.2 67.5 L134.0 67.6 L133.7 67.6 L132.2 67.8 L130.7 68.0 L130.0 68.1 L129.2 68.3 L127.7 68.6 L126.2 68.9 L126.0 68.9 L124.7 69.3 L123.2 69.7 L122.0 70.1 L121.7 70.2 L120.2 70.7 L118.7 71.2 L118.0 71.5 L117.2 71.8 L115.7 72.4 L114.0 73.2 L110.0 75.1 L106.0 77.3 L102.0 79.3 L98.0 81.2 L94.0 83.2 L90.0 85.4 L86.0 87.6 L82.0 89.8 L78.0 92.1 L74.0 94.5 L70.0 96.9 L66.0 99.4 L62.0 101.9 L58.0 104.5 L54.0 107.0 L50.0 109.6 L46.0 112.3 L42.0 114.9 L38.0 117.6 L34.0 120.3 L30.0 123.0 L26.0 125.8 L22.0 128.5 L18.0 131.3 L14.0 134.1 L10.0 136.9 L6.0 139.7 L2.0 142.5 L-2.0 145.4 L-6.0 148.2Z" fill="url(#sB1k)" filter="url(#bl2)" opacity="0.6"/><path d="M-6.0 49.0 L-2.0 46.1 L2.0 42.7 L6.0 39.1 L10.0 35.6 L10.3 35.4 L11.8 34.1 L13.3 32.8 L14.0 32.2 L14.8 31.6 L16.3 30.3 L17.8 29.1 L18.0 29.0 L19.3 27.9 L20.8 26.8 L22.0 25.9 L22.3 25.7 L23.8 24.7 L25.3 23.7 L26.0 23.3 L26.8 22.9 L28.3 22.1 L29.8 21.5 L30.0 21.5 L31.3 21.1 L32.8 20.8 L34.0 20.7 L34.3 20.7 L35.8 20.8 L37.3 21.1 L38.0 21.3 L38.8 21.5 L40.3 22.1 L41.8 22.9 L42.0 23.0 L43.3 23.7 L44.8 24.7 L46.0 25.5 L46.3 25.7 L47.8 26.8 L49.3 27.9 L50.0 28.5 L50.8 29.1 L52.3 30.3 L53.8 31.6 L54.0 31.7 L55.3 32.8 L56.8 34.1 L58.0 35.1 L58.3 35.4 L62.0 38.6 L66.0 42.2 L70.0 45.6 L74.0 48.5 L78.0 51.5 L82.0 54.4 L86.0 57.4 L90.0 60.3 L94.0 63.3 L98.0 66.3 L102.0 69.3 L106.0 72.2 L110.0 75.2 L114.0 78.2 L118.0 81.2 L122.0 84.2 L126.0 87.2 L130.0 90.3 L134.0 93.3 L138.0 96.3 L142.0 99.3 L146.0 102.3 L150.0 105.3 L154.0 108.4 L158.0 111.4 L162.0 114.4 L166.0 117.4 L170.0 120.4 L174.0 123.5 L178.0 126.5 L182.0 129.5 L186.0 132.6 L190.0 135.6 L194.0 138.6 L198.0 141.6 L202.0 144.7 L202.0 146.0 L198.0 143.0 L194.0 140.0 L190.0 136.9 L186.0 133.9 L182.0 130.9 L178.0 127.9 L174.0 124.8 L170.0 121.8 L166.0 118.8 L162.0 115.8 L158.0 112.7 L154.0 109.7 L150.0 106.7 L146.0 103.7 L142.0 100.7 L138.0 97.6 L134.0 94.6 L130.0 91.6 L126.0 88.6 L122.0 85.6 L118.0 82.6 L114.0 79.6 L110.0 76.6 L106.0 73.6 L102.0 70.6 L98.0 67.6 L94.0 64.7 L90.0 61.7 L86.0 58.7 L82.0 55.8 L78.0 52.8 L74.0 49.9 L70.0 47.0 L66.0 43.6 L62.0 40.0 L58.3 36.8 L58.0 36.6 L56.8 35.6 L55.3 34.3 L54.0 33.3 L53.8 33.1 L52.3 31.9 L50.8 30.8 L50.0 30.2 L49.3 29.7 L47.8 28.6 L46.3 27.6 L46.0 27.4 L44.8 26.6 L43.3 25.7 L42.0 25.0 L41.8 24.9 L40.3 24.2 L38.8 23.7 L38.0 23.4 L37.3 23.2 L35.8 23.0 L34.3 22.9 L34.0 22.9 L32.8 23.0 L31.3 23.2 L30.0 23.6 L29.8 23.7 L28.3 24.2 L26.8 24.9 L26.0 25.3 L25.3 25.7 L23.8 26.6 L22.3 27.6 L22.0 27.8 L20.8 28.6 L19.3 29.7 L18.0 30.6 L17.8 30.8 L16.3 31.9 L14.8 33.1 L14.0 33.8 L13.3 34.3 L11.8 35.6 L10.3 36.8 L10.0 37.1 L6.0 40.5 L2.0 44.1 L-2.0 47.4 L-6.0 50.3Z" fill="url(#gB0w)" opacity="0.08"/><path d="M-6.0 44.8 L-2.0 41.9 L2.0 38.4 L6.0 34.8 L10.0 31.2 L10.3 30.9 L11.8 29.6 L13.3 28.3 L14.0 27.6 L14.8 26.9 L16.3 25.7 L17.8 24.4 L18.0 24.2 L19.3 23.1 L20.8 21.9 L22.0 21.0 L22.3 20.7 L23.8 19.6 L25.3 18.5 L26.0 18.1 L26.8 17.6 L28.3 16.7 L29.8 16.0 L30.0 15.9 L31.3 15.5 L32.8 15.1 L34.0 15.0 L34.3 15.0 L35.8 15.1 L37.3 15.5 L38.0 15.7 L38.8 16.0 L40.3 16.7 L41.8 17.6 L42.0 17.7 L43.3 18.5 L44.8 19.6 L46.0 20.5 L46.3 20.7 L47.8 21.9 L49.3 23.1 L50.0 23.7 L50.8 24.4 L52.3 25.7 L53.8 26.9 L54.0 27.1 L55.3 28.3 L56.8 29.6 L58.0 30.7 L58.3 30.9 L62.0 34.2 L66.0 37.9 L70.0 41.4 L74.0 44.4 L78.0 47.3 L82.0 50.3 L86.0 53.3 L90.0 56.3 L94.0 59.3 L98.0 62.2 L102.0 65.3 L106.0 68.3 L110.0 71.3 L114.0 74.3 L118.0 77.3 L122.0 80.3 L126.0 83.3 L130.0 86.3 L134.0 89.4 L138.0 92.4 L142.0 95.4 L146.0 98.4 L150.0 101.5 L154.0 104.5 L158.0 107.5 L162.0 110.5 L166.0 113.6 L170.0 116.6 L174.0 119.6 L178.0 122.7 L182.0 125.7 L186.0 128.7 L190.0 131.8 L194.0 134.8 L198.0 137.8 L202.0 140.9 L202.0 142.3 L198.0 139.3 L194.0 136.3 L190.0 133.2 L186.0 130.2 L182.0 127.2 L178.0 124.2 L174.0 121.1 L170.0 118.1 L166.0 115.1 L162.0 112.0 L158.0 109.0 L154.0 106.0 L150.0 103.0 L146.0 99.9 L142.0 96.9 L138.0 93.9 L134.0 90.9 L130.0 87.8 L126.0 84.8 L122.0 81.8 L118.0 78.8 L114.0 75.8 L110.0 72.8 L106.0 69.7 L102.0 66.7 L98.0 63.7 L94.0 60.7 L90.0 57.7 L86.0 54.8 L82.0 51.8 L78.0 48.8 L74.0 45.9 L70.0 42.9 L66.0 39.4 L62.0 35.8 L58.3 32.5 L58.0 32.2 L56.8 31.2 L55.3 29.9 L54.0 28.8 L53.8 28.6 L52.3 27.4 L50.8 26.2 L50.0 25.5 L49.3 25.0 L47.8 23.8 L46.3 22.7 L46.0 22.5 L44.8 21.7 L43.3 20.7 L42.0 19.9 L41.8 19.8 L40.3 19.0 L38.8 18.3 L38.0 18.0 L37.3 17.8 L35.8 17.5 L34.3 17.4 L34.0 17.4 L32.8 17.5 L31.3 17.8 L30.0 18.3 L29.8 18.3 L28.3 19.0 L26.8 19.8 L26.0 20.3 L25.3 20.7 L23.8 21.7 L22.3 22.7 L22.0 22.9 L20.8 23.8 L19.3 25.0 L18.0 26.0 L17.8 26.2 L16.3 27.4 L14.8 28.6 L14.0 29.3 L13.3 29.9 L11.8 31.2 L10.3 32.5 L10.0 32.8 L6.0 36.3 L2.0 39.9 L-2.0 43.3 L-6.0 46.3Z" fill="url(#gB0k)" opacity="0.16"/><path d="M-6.0 40.0 L-2.0 37.0 L2.0 33.6 L6.0 29.9 L10.0 26.4 L10.3 26.1 L11.8 24.8 L13.3 23.4 L14.0 22.8 L14.8 22.1 L16.3 20.8 L17.8 19.6 L18.0 19.4 L19.3 18.3 L20.8 17.1 L22.0 16.2 L22.3 15.9 L23.8 14.8 L25.3 13.8 L26.0 13.3 L26.8 12.8 L28.3 12.0 L29.8 11.2 L30.0 11.2 L31.3 10.7 L32.8 10.4 L34.0 10.3 L34.3 10.2 L35.8 10.4 L37.3 10.7 L38.0 10.9 L38.8 11.2 L40.3 12.0 L41.8 12.8 L42.0 12.9 L43.3 13.8 L44.8 14.8 L46.0 15.7 L46.3 15.9 L47.8 17.1 L49.3 18.3 L50.0 18.9 L50.8 19.6 L52.3 20.8 L53.8 22.1 L54.0 22.3 L55.3 23.4 L56.8 24.8 L58.0 25.8 L58.3 26.1 L62.0 29.4 L66.0 33.0 L70.0 36.6 L74.0 39.5 L78.0 42.5 L82.0 45.4 L86.0 48.4 L90.0 51.4 L94.0 54.4 L98.0 57.4 L102.0 60.4 L106.0 63.4 L110.0 66.4 L114.0 69.4 L118.0 72.4 L122.0 75.5 L126.0 78.5 L130.0 81.5 L134.0 84.5 L138.0 87.5 L142.0 90.6 L146.0 93.6 L150.0 96.6 L154.0 99.6 L158.0 102.7 L162.0 105.7 L166.0 108.7 L170.0 111.8 L174.0 114.8 L178.0 117.8 L182.0 120.9 L186.0 123.9 L190.0 126.9 L194.0 129.9 L198.0 133.0 L202.0 136.0 L202.0 137.2 L198.0 134.2 L194.0 131.1 L190.0 128.1 L186.0 125.1 L182.0 122.0 L178.0 119.0 L174.0 116.0 L170.0 112.9 L166.0 109.9 L162.0 106.9 L158.0 103.9 L154.0 100.8 L150.0 97.8 L146.0 94.8 L142.0 91.7 L138.0 88.7 L134.0 85.7 L130.0 82.7 L126.0 79.7 L122.0 76.6 L118.0 73.6 L114.0 70.6 L110.0 67.6 L106.0 64.6 L102.0 61.6 L98.0 58.6 L94.0 55.6 L90.0 52.6 L86.0 49.6 L82.0 46.6 L78.0 43.7 L74.0 40.7 L70.0 37.8 L66.0 34.2 L62.0 30.6 L58.3 27.3 L58.0 27.1 L56.8 26.0 L55.3 24.7 L54.0 23.6 L53.8 23.5 L52.3 22.2 L50.8 21.0 L50.0 20.3 L49.3 19.8 L47.8 18.6 L46.3 17.5 L46.0 17.3 L44.8 16.5 L43.3 15.5 L42.0 14.7 L41.8 14.6 L40.3 13.8 L38.8 13.1 L38.0 12.8 L37.3 12.6 L35.8 12.3 L34.3 12.1 L34.0 12.2 L32.8 12.3 L31.3 12.6 L30.0 13.0 L29.8 13.1 L28.3 13.8 L26.8 14.6 L26.0 15.0 L25.3 15.5 L23.8 16.5 L22.3 17.5 L22.0 17.7 L20.8 18.6 L19.3 19.8 L18.0 20.8 L17.8 21.0 L16.3 22.2 L14.8 23.5 L14.0 24.1 L13.3 24.7 L11.8 26.0 L10.3 27.3 L10.0 27.6 L6.0 31.2 L2.0 34.8 L-2.0 38.2 L-6.0 41.1Z" fill="url(#gB0k)" opacity="0.9"/><path d="M-6.0 42.1 L-2.0 39.2 L2.0 35.8 L6.0 32.1 L10.0 28.5 L10.3 28.3 L11.8 26.9 L13.3 25.6 L14.0 25.0 L14.8 24.3 L16.3 23.0 L17.8 21.7 L18.0 21.5 L19.3 20.5 L20.8 19.2 L22.0 18.3 L22.3 18.1 L23.8 16.9 L25.3 15.9 L26.0 15.4 L26.8 14.9 L28.3 14.1 L29.8 13.3 L30.0 13.3 L31.3 12.8 L32.8 12.5 L34.0 12.4 L34.3 12.3 L35.8 12.5 L37.3 12.8 L38.0 13.0 L38.8 13.3 L40.3 14.1 L41.8 14.9 L42.0 15.0 L43.3 15.9 L44.8 16.9 L46.0 17.8 L46.3 18.1 L47.8 19.2 L49.3 20.5 L50.0 21.0 L50.8 21.7 L52.3 23.0 L53.8 24.3 L54.0 24.5 L55.3 25.6 L56.8 26.9 L58.0 28.0 L58.3 28.3 L62.0 31.6 L66.0 35.2 L70.0 38.7 L74.0 41.7 L78.0 44.7 L82.0 47.6 L86.0 50.6 L90.0 53.6 L94.0 56.6 L98.0 59.6 L102.0 62.6 L106.0 65.6 L110.0 68.6 L114.0 71.6 L118.0 74.6 L122.0 77.6 L126.0 80.7 L130.0 83.7 L134.0 86.7 L138.0 89.7 L142.0 92.7 L146.0 95.8 L150.0 98.8 L154.0 101.8 L158.0 104.9 L162.0 107.9 L166.0 110.9 L170.0 113.9 L174.0 117.0 L178.0 120.0 L182.0 123.0 L186.0 126.1 L190.0 129.1 L194.0 132.1 L198.0 135.2 L202.0 138.2 L202.0 139.6 L198.0 136.6 L194.0 133.6 L190.0 130.5 L186.0 127.5 L182.0 124.5 L178.0 121.4 L174.0 118.4 L170.0 115.4 L166.0 112.3 L162.0 109.3 L158.0 106.3 L154.0 103.2 L150.0 100.2 L146.0 97.2 L142.0 94.2 L138.0 91.1 L134.0 88.1 L130.0 85.1 L126.0 82.1 L122.0 79.1 L118.0 76.0 L114.0 73.0 L110.0 70.0 L106.0 67.0 L102.0 64.0 L98.0 61.0 L94.0 58.0 L90.0 55.0 L86.0 52.0 L82.0 49.0 L78.0 46.1 L74.0 43.1 L70.0 40.2 L66.0 36.7 L62.0 33.0 L58.3 29.8 L58.0 29.5 L56.8 28.5 L55.3 27.2 L54.0 26.1 L53.8 25.9 L52.3 24.7 L50.8 23.4 L50.0 22.8 L49.3 22.2 L47.8 21.1 L46.3 20.0 L46.0 19.8 L44.8 18.9 L43.3 17.9 L42.0 17.2 L41.8 17.0 L40.3 16.2 L38.8 15.6 L38.0 15.3 L37.3 15.1 L35.8 14.8 L34.3 14.7 L34.0 14.7 L32.8 14.8 L31.3 15.1 L30.0 15.5 L29.8 15.6 L28.3 16.2 L26.8 17.0 L26.0 17.5 L25.3 17.9 L23.8 18.9 L22.3 20.0 L22.0 20.2 L20.8 21.1 L19.3 22.2 L18.0 23.3 L17.8 23.4 L16.3 24.7 L14.8 25.9 L14.0 26.6 L13.3 27.2 L11.8 28.5 L10.3 29.8 L10.0 30.0 L6.0 33.6 L2.0 37.2 L-2.0 40.6 L-6.0 43.6Z" fill="url(#gB0w)"/><path d="M-6.0 114.8 L-2.0 111.8 L2.0 108.8 L6.0 105.8 L10.0 102.8 L14.0 99.7 L18.0 96.7 L22.0 93.7 L26.0 90.7 L30.0 87.7 L34.0 84.7 L38.0 81.7 L42.0 78.7 L46.0 75.8 L50.0 72.8 L54.0 69.8 L58.0 66.8 L62.0 63.9 L66.0 60.9 L70.0 58.0 L74.0 55.1 L78.0 52.2 L82.0 49.3 L86.0 45.8 L90.0 42.3 L93.2 39.5 L94.0 38.9 L94.7 38.3 L96.2 37.0 L97.7 35.8 L98.0 35.6 L99.2 34.6 L100.7 33.4 L102.0 32.4 L102.2 32.3 L103.7 31.2 L105.2 30.1 L106.0 29.6 L106.7 29.2 L108.2 28.2 L109.7 27.4 L110.0 27.3 L111.2 26.7 L112.7 26.2 L114.0 25.8 L114.2 25.7 L115.7 25.5 L117.2 25.4 L118.0 25.4 L118.7 25.5 L120.2 25.7 L121.7 26.2 L122.0 26.3 L123.2 26.7 L124.7 27.4 L126.0 28.1 L126.2 28.2 L127.7 29.2 L129.2 30.1 L130.0 30.7 L130.7 31.2 L132.2 32.3 L133.7 33.4 L134.0 33.6 L135.2 34.6 L136.7 35.8 L138.0 36.9 L138.2 37.0 L139.7 38.3 L141.2 39.5 L142.0 40.2 L146.0 43.7 L150.0 47.2 L154.0 50.5 L158.0 53.3 L162.0 56.2 L166.0 59.2 L170.0 62.1 L174.0 65.1 L178.0 68.0 L182.0 71.0 L186.0 74.0 L190.0 76.9 L194.0 79.9 L198.0 82.9 L202.0 85.9 L202.0 87.3 L198.0 84.3 L194.0 81.3 L190.0 78.3 L186.0 75.3 L182.0 72.4 L178.0 69.4 L174.0 66.4 L170.0 63.5 L166.0 60.5 L162.0 57.6 L158.0 54.7 L154.0 51.8 L150.0 48.6 L146.0 45.1 L142.0 41.7 L141.2 41.0 L139.7 39.8 L138.2 38.5 L138.0 38.4 L136.7 37.3 L135.2 36.2 L134.0 35.3 L133.7 35.1 L132.2 34.0 L130.7 33.0 L130.0 32.5 L129.2 32.0 L127.7 31.1 L126.2 30.2 L126.0 30.1 L124.7 29.5 L123.2 28.8 L122.0 28.4 L121.7 28.3 L120.2 27.9 L118.7 27.7 L118.0 27.6 L117.2 27.6 L115.7 27.7 L114.2 27.9 L114.0 28.0 L112.7 28.3 L111.2 28.8 L110.0 29.3 L109.7 29.5 L108.2 30.2 L106.7 31.1 L106.0 31.5 L105.2 32.0 L103.7 33.0 L102.2 34.0 L102.0 34.1 L100.7 35.1 L99.2 36.2 L98.0 37.1 L97.7 37.3 L96.2 38.5 L94.7 39.8 L94.0 40.3 L93.2 41.0 L90.0 43.7 L86.0 47.2 L82.0 50.7 L78.0 53.5 L74.0 56.4 L70.0 59.4 L66.0 62.3 L62.0 65.2 L58.0 68.2 L54.0 71.2 L50.0 74.1 L46.0 77.1 L42.0 80.1 L38.0 83.1 L34.0 86.1 L30.0 89.1 L26.0 92.1 L22.0 95.1 L18.0 98.1 L14.0 101.1 L10.0 104.1 L6.0 107.1 L2.0 110.1 L-2.0 113.2 L-6.0 116.2Z" fill="url(#gB1w)" opacity="0.08"/><path d="M-6.0 110.9 L-2.0 107.9 L2.0 104.9 L6.0 101.9 L10.0 98.8 L14.0 95.8 L18.0 92.8 L22.0 89.8 L26.0 86.8 L30.0 83.8 L34.0 80.7 L38.0 77.7 L42.0 74.7 L46.0 71.7 L50.0 68.7 L54.0 65.7 L58.0 62.8 L62.0 59.8 L66.0 56.8 L70.0 53.8 L74.0 50.9 L78.0 47.9 L82.0 45.0 L86.0 41.4 L90.0 37.8 L93.2 35.0 L94.0 34.3 L94.7 33.7 L96.2 32.4 L97.7 31.1 L98.0 30.8 L99.2 29.8 L100.7 28.6 L102.0 27.5 L102.2 27.4 L103.7 26.2 L105.2 25.1 L106.0 24.5 L106.7 24.0 L108.2 23.0 L109.7 22.1 L110.0 21.9 L111.2 21.3 L112.7 20.6 L114.0 20.2 L114.2 20.1 L115.7 19.8 L117.2 19.7 L118.0 19.7 L118.7 19.8 L120.2 20.1 L121.7 20.6 L122.0 20.7 L123.2 21.3 L124.7 22.1 L126.0 22.9 L126.2 23.0 L127.7 24.0 L129.2 25.1 L130.0 25.7 L130.7 26.2 L132.2 27.4 L133.7 28.6 L134.0 28.8 L135.2 29.8 L136.7 31.1 L138.0 32.2 L138.2 32.4 L139.7 33.7 L141.2 35.0 L142.0 35.7 L146.0 39.3 L150.0 42.9 L154.0 46.2 L158.0 49.1 L162.0 52.1 L166.0 55.0 L170.0 58.0 L174.0 61.0 L178.0 64.0 L182.0 66.9 L186.0 69.9 L190.0 72.9 L194.0 75.9 L198.0 78.9 L202.0 82.0 L202.0 83.4 L198.0 80.4 L194.0 77.4 L190.0 74.4 L186.0 71.4 L182.0 68.4 L178.0 65.4 L174.0 62.5 L170.0 59.5 L166.0 56.5 L162.0 53.6 L158.0 50.6 L154.0 47.7 L150.0 44.4 L146.0 40.8 L142.0 37.3 L141.2 36.6 L139.7 35.3 L138.2 34.0 L138.0 33.9 L136.7 32.8 L135.2 31.6 L134.0 30.6 L133.7 30.4 L132.2 29.2 L130.7 28.1 L130.0 27.6 L129.2 27.1 L127.7 26.1 L126.2 25.1 L126.0 25.0 L124.7 24.3 L123.2 23.6 L122.0 23.1 L121.7 22.9 L120.2 22.5 L118.7 22.2 L118.0 22.1 L117.2 22.1 L115.7 22.2 L114.2 22.5 L114.0 22.5 L112.7 22.9 L111.2 23.6 L110.0 24.1 L109.7 24.3 L108.2 25.1 L106.7 26.1 L106.0 26.5 L105.2 27.1 L103.7 28.1 L102.2 29.2 L102.0 29.4 L100.7 30.4 L99.2 31.6 L98.0 32.6 L97.7 32.8 L96.2 34.0 L94.7 35.3 L94.0 35.9 L93.2 36.6 L90.0 39.4 L86.0 42.9 L82.0 46.5 L78.0 49.4 L74.0 52.4 L70.0 55.3 L66.0 58.3 L62.0 61.3 L58.0 64.2 L54.0 67.2 L50.0 70.2 L46.0 73.2 L42.0 76.2 L38.0 79.2 L34.0 82.2 L30.0 85.2 L26.0 88.3 L22.0 91.3 L18.0 94.3 L14.0 97.3 L10.0 100.3 L6.0 103.4 L2.0 106.4 L-2.0 109.4 L-6.0 112.4Z" fill="url(#gB1k)" opacity="0.16"/><path d="M-6.0 106.1 L-2.0 103.1 L2.0 100.0 L6.0 97.0 L10.0 94.0 L14.0 91.0 L18.0 88.0 L22.0 84.9 L26.0 81.9 L30.0 78.9 L34.0 75.9 L38.0 72.9 L42.0 69.9 L46.0 66.9 L50.0 63.9 L54.0 60.9 L58.0 57.9 L62.0 54.9 L66.0 52.0 L70.0 49.0 L74.0 46.0 L78.0 43.1 L82.0 40.2 L86.0 36.6 L90.0 33.0 L93.2 30.2 L94.0 29.5 L94.7 28.9 L96.2 27.6 L97.7 26.3 L98.0 26.0 L99.2 25.0 L100.7 23.8 L102.0 22.7 L102.2 22.6 L103.7 21.4 L105.2 20.3 L106.0 19.7 L106.7 19.2 L108.2 18.2 L109.7 17.3 L110.0 17.1 L111.2 16.5 L112.7 15.9 L114.0 15.4 L114.2 15.4 L115.7 15.1 L117.2 14.9 L118.0 15.0 L118.7 15.1 L120.2 15.4 L121.7 15.9 L122.0 16.0 L123.2 16.5 L124.7 17.3 L126.0 18.1 L126.2 18.2 L127.7 19.2 L129.2 20.3 L130.0 20.9 L130.7 21.4 L132.2 22.6 L133.7 23.8 L134.0 24.0 L135.2 25.0 L136.7 26.3 L138.0 27.4 L138.2 27.6 L139.7 28.9 L141.2 30.2 L142.0 30.9 L146.0 34.4 L150.0 38.0 L154.0 41.3 L158.0 44.3 L162.0 47.2 L166.0 50.2 L170.0 53.1 L174.0 56.1 L178.0 59.1 L182.0 62.1 L186.0 65.1 L190.0 68.1 L194.0 71.1 L198.0 74.1 L202.0 77.1 L202.0 78.3 L198.0 75.3 L194.0 72.3 L190.0 69.3 L186.0 66.3 L182.0 63.3 L178.0 60.3 L174.0 57.3 L170.0 54.3 L166.0 51.4 L162.0 48.4 L158.0 45.5 L154.0 42.5 L150.0 39.2 L146.0 35.6 L142.0 32.1 L141.2 31.4 L139.7 30.1 L138.2 28.9 L138.0 28.7 L136.7 27.6 L135.2 26.4 L134.0 25.4 L133.7 25.2 L132.2 24.0 L130.7 22.9 L130.0 22.4 L129.2 21.9 L127.7 20.8 L126.2 19.9 L126.0 19.8 L124.7 19.1 L123.2 18.3 L122.0 17.8 L121.7 17.7 L120.2 17.2 L118.7 16.9 L118.0 16.9 L117.2 16.8 L115.7 16.9 L114.2 17.2 L114.0 17.3 L112.7 17.7 L111.2 18.3 L110.0 18.9 L109.7 19.1 L108.2 19.9 L106.7 20.8 L106.0 21.3 L105.2 21.9 L103.7 22.9 L102.2 24.0 L102.0 24.2 L100.7 25.2 L99.2 26.4 L98.0 27.4 L97.7 27.6 L96.2 28.9 L94.7 30.1 L94.0 30.7 L93.2 31.4 L90.0 34.2 L86.0 37.8 L82.0 41.4 L78.0 44.3 L74.0 47.2 L70.0 50.2 L66.0 53.1 L62.0 56.1 L58.0 59.1 L54.0 62.1 L50.0 65.1 L46.0 68.1 L42.0 71.1 L38.0 74.1 L34.0 77.1 L30.0 80.1 L26.0 83.1 L22.0 86.1 L18.0 89.1 L14.0 92.2 L10.0 95.2 L6.0 98.2 L2.0 101.2 L-2.0 104.2 L-6.0 107.3Z" fill="url(#gB1k)" opacity="0.9"/><path d="M-6.0 108.3 L-2.0 105.2 L2.0 102.2 L6.0 99.2 L10.0 96.2 L14.0 93.2 L18.0 90.1 L22.0 87.1 L26.0 84.1 L30.0 81.1 L34.0 78.1 L38.0 75.1 L42.0 72.1 L46.0 69.1 L50.0 66.1 L54.0 63.1 L58.0 60.1 L62.0 57.1 L66.0 54.1 L70.0 51.2 L74.0 48.2 L78.0 45.3 L82.0 42.4 L86.0 38.8 L90.0 35.2 L93.2 32.3 L94.0 31.6 L94.7 31.0 L96.2 29.7 L97.7 28.4 L98.0 28.2 L99.2 27.2 L100.7 25.9 L102.0 24.9 L102.2 24.7 L103.7 23.5 L105.2 22.4 L106.0 21.8 L106.7 21.3 L108.2 20.3 L109.7 19.4 L110.0 19.2 L111.2 18.6 L112.7 18.0 L114.0 17.5 L114.2 17.5 L115.7 17.2 L117.2 17.1 L118.0 17.1 L118.7 17.2 L120.2 17.5 L121.7 18.0 L122.0 18.1 L123.2 18.6 L124.7 19.4 L126.0 20.2 L126.2 20.3 L127.7 21.3 L129.2 22.4 L130.0 23.0 L130.7 23.5 L132.2 24.7 L133.7 25.9 L134.0 26.2 L135.2 27.2 L136.7 28.4 L138.0 29.6 L138.2 29.7 L139.7 31.0 L141.2 32.3 L142.0 33.0 L146.0 36.6 L150.0 40.2 L154.0 43.5 L158.0 46.4 L162.0 49.4 L166.0 52.4 L170.0 55.3 L174.0 58.3 L178.0 61.3 L182.0 64.3 L186.0 67.3 L190.0 70.3 L194.0 73.3 L198.0 76.3 L202.0 79.3 L202.0 80.7 L198.0 77.7 L194.0 74.7 L190.0 71.7 L186.0 68.7 L182.0 65.7 L178.0 62.7 L174.0 59.7 L170.0 56.7 L166.0 53.8 L162.0 50.8 L158.0 47.9 L154.0 44.9 L150.0 41.6 L146.0 38.1 L142.0 34.5 L141.2 33.9 L139.7 32.6 L138.2 31.3 L138.0 31.1 L136.7 30.1 L135.2 28.8 L134.0 27.9 L133.7 27.7 L132.2 26.5 L130.7 25.4 L130.0 24.9 L129.2 24.3 L127.7 23.3 L126.2 22.4 L126.0 22.3 L124.7 21.5 L123.2 20.8 L122.0 20.3 L121.7 20.2 L120.2 19.7 L118.7 19.4 L118.0 19.4 L117.2 19.3 L115.7 19.4 L114.2 19.7 L114.0 19.8 L112.7 20.2 L111.2 20.8 L110.0 21.4 L109.7 21.5 L108.2 22.4 L106.7 23.3 L106.0 23.8 L105.2 24.3 L103.7 25.4 L102.2 26.5 L102.0 26.7 L100.7 27.7 L99.2 28.8 L98.0 29.8 L97.7 30.1 L96.2 31.3 L94.7 32.6 L94.0 33.2 L93.2 33.9 L90.0 36.6 L86.0 40.2 L82.0 43.8 L78.0 46.7 L74.0 49.6 L70.0 52.6 L66.0 55.6 L62.0 58.5 L58.0 61.5 L54.0 64.5 L50.0 67.5 L46.0 70.5 L42.0 73.5 L38.0 76.5 L34.0 79.5 L30.0 82.5 L26.0 85.5 L22.0 88.5 L18.0 91.6 L14.0 94.6 L10.0 97.6 L6.0 100.6 L2.0 103.6 L-2.0 106.7 L-6.0 109.7Z" fill="url(#gB1w)"/><path d="M-6.0 146.8 L-2.0 143.7 L2.0 140.7 L6.0 137.7 L10.0 134.7 L14.0 131.6 L18.0 128.6 L22.0 125.6 L26.0 122.6 L30.0 119.5 L34.0 116.5 L38.0 113.5 L42.0 110.5 L46.0 107.5 L50.0 104.5 L54.0 101.4 L58.0 98.4 L62.0 95.4 L66.0 92.4 L70.0 89.4 L74.0 86.4 L78.0 83.4 L82.0 80.4 L86.0 77.4 L90.0 74.5 L94.0 71.5 L98.0 68.5 L102.0 65.5 L106.0 62.6 L110.0 59.7 L114.0 56.7 L118.0 53.8 L122.0 50.9 L126.0 47.9 L130.0 44.3 L134.0 40.8 L136.0 39.1 L137.5 37.9 L138.0 37.5 L139.0 36.6 L140.5 35.4 L142.0 34.2 L143.5 33.0 L145.0 31.9 L146.0 31.1 L146.5 30.8 L148.0 29.7 L149.5 28.8 L150.0 28.4 L151.0 27.8 L152.5 27.0 L154.0 26.3 L155.5 25.8 L157.0 25.3 L158.0 25.2 L158.5 25.1 L160.0 25.0 L161.5 25.1 L162.0 25.2 L163.0 25.3 L164.5 25.8 L166.0 26.3 L167.5 27.0 L169.0 27.8 L170.0 28.4 L170.5 28.8 L172.0 29.7 L173.5 30.8 L174.0 31.1 L175.0 31.9 L176.5 33.0 L178.0 34.2 L179.5 35.4 L181.0 36.6 L182.0 37.5 L182.5 37.9 L184.0 39.1 L186.0 40.8 L190.0 44.3 L194.0 47.9 L198.0 50.9 L202.0 53.8 L202.0 55.2 L198.0 52.3 L194.0 49.2 L190.0 45.7 L186.0 42.3 L184.0 40.6 L182.5 39.4 L182.0 38.9 L181.0 38.1 L179.5 36.9 L178.0 35.8 L176.5 34.7 L175.0 33.6 L174.0 32.9 L173.5 32.6 L172.0 31.6 L170.5 30.7 L170.0 30.4 L169.0 29.8 L167.5 29.1 L166.0 28.4 L164.5 27.9 L163.0 27.5 L162.0 27.3 L161.5 27.3 L160.0 27.2 L158.5 27.3 L158.0 27.3 L157.0 27.5 L155.5 27.9 L154.0 28.4 L152.5 29.1 L151.0 29.8 L150.0 30.4 L149.5 30.7 L148.0 31.6 L146.5 32.6 L146.0 32.9 L145.0 33.6 L143.5 34.7 L142.0 35.8 L140.5 36.9 L139.0 38.1 L138.0 38.9 L137.5 39.4 L136.0 40.6 L134.0 42.3 L130.0 45.7 L126.0 49.2 L122.0 52.3 L118.0 55.2 L114.0 58.1 L110.0 61.0 L106.0 64.0 L102.0 66.9 L98.0 69.9 L94.0 72.8 L90.0 75.8 L86.0 78.8 L82.0 81.8 L78.0 84.8 L74.0 87.8 L70.0 90.8 L66.0 93.8 L62.0 96.8 L58.0 99.8 L54.0 102.8 L50.0 105.8 L46.0 108.8 L42.0 111.9 L38.0 114.9 L34.0 117.9 L30.0 120.9 L26.0 123.9 L22.0 127.0 L18.0 130.0 L14.0 133.0 L10.0 136.0 L6.0 139.1 L2.0 142.1 L-2.0 145.1 L-6.0 148.1Z" fill="url(#gB2w)" opacity="0.08"/><path d="M-6.0 142.9 L-2.0 139.9 L2.0 136.9 L6.0 133.8 L10.0 130.8 L14.0 127.8 L18.0 124.8 L22.0 121.7 L26.0 118.7 L30.0 115.7 L34.0 112.7 L38.0 109.6 L42.0 106.6 L46.0 103.6 L50.0 100.6 L54.0 97.5 L58.0 94.5 L62.0 91.5 L66.0 88.5 L70.0 85.5 L74.0 82.5 L78.0 79.4 L82.0 76.4 L86.0 73.4 L90.0 70.4 L94.0 67.4 L98.0 64.4 L102.0 61.5 L106.0 58.5 L110.0 55.5 L114.0 52.6 L118.0 49.6 L122.0 46.7 L126.0 43.6 L130.0 39.9 L134.0 36.4 L136.0 34.6 L137.5 33.3 L138.0 32.9 L139.0 32.0 L140.5 30.7 L142.0 29.4 L143.5 28.2 L145.0 27.0 L146.0 26.2 L146.5 25.8 L148.0 24.7 L149.5 23.6 L150.0 23.2 L151.0 22.6 L152.5 21.7 L154.0 20.9 L155.5 20.2 L157.0 19.7 L158.0 19.5 L158.5 19.4 L160.0 19.3 L161.5 19.4 L162.0 19.5 L163.0 19.7 L164.5 20.2 L166.0 20.9 L167.5 21.7 L169.0 22.6 L170.0 23.2 L170.5 23.6 L172.0 24.7 L173.5 25.8 L174.0 26.2 L175.0 27.0 L176.5 28.2 L178.0 29.4 L179.5 30.7 L181.0 32.0 L182.0 32.9 L182.5 33.3 L184.0 34.6 L186.0 36.4 L190.0 39.9 L194.0 43.6 L198.0 46.7 L202.0 49.6 L202.0 51.1 L198.0 48.2 L194.0 45.1 L190.0 41.5 L186.0 37.9 L184.0 36.2 L182.5 34.9 L182.0 34.5 L181.0 33.6 L179.5 32.4 L178.0 31.2 L176.5 30.0 L175.0 28.8 L174.0 28.1 L173.5 27.7 L172.0 26.7 L170.5 25.7 L170.0 25.3 L169.0 24.7 L167.5 23.9 L166.0 23.2 L164.5 22.5 L163.0 22.1 L162.0 21.9 L161.5 21.8 L160.0 21.7 L158.5 21.8 L158.0 21.9 L157.0 22.1 L155.5 22.5 L154.0 23.2 L152.5 23.9 L151.0 24.7 L150.0 25.3 L149.5 25.7 L148.0 26.7 L146.5 27.7 L146.0 28.1 L145.0 28.8 L143.5 30.0 L142.0 31.2 L140.5 32.4 L139.0 33.6 L138.0 34.5 L137.5 34.9 L136.0 36.2 L134.0 37.9 L130.0 41.5 L126.0 45.1 L122.0 48.2 L118.0 51.1 L114.0 54.0 L110.0 57.0 L106.0 60.0 L102.0 63.0 L98.0 65.9 L94.0 68.9 L90.0 71.9 L86.0 74.9 L82.0 77.9 L78.0 80.9 L74.0 83.9 L70.0 87.0 L66.0 90.0 L62.0 93.0 L58.0 96.0 L54.0 99.0 L50.0 102.0 L46.0 105.1 L42.0 108.1 L38.0 111.1 L34.0 114.1 L30.0 117.2 L26.0 120.2 L22.0 123.2 L18.0 126.2 L14.0 129.3 L10.0 132.3 L6.0 135.3 L2.0 138.4 L-2.0 141.4 L-6.0 144.4Z" fill="url(#gB2k)" opacity="0.16"/><path d="M-6.0 138.1 L-2.0 135.1 L2.0 132.0 L6.0 129.0 L10.0 126.0 L14.0 122.9 L18.0 119.9 L22.0 116.9 L26.0 113.9 L30.0 110.8 L34.0 107.8 L38.0 104.8 L42.0 101.8 L46.0 98.7 L50.0 95.7 L54.0 92.7 L58.0 89.7 L62.0 86.7 L66.0 83.6 L70.0 80.6 L74.0 77.6 L78.0 74.6 L82.0 71.6 L86.0 68.6 L90.0 65.6 L94.0 62.6 L98.0 59.6 L102.0 56.6 L106.0 53.6 L110.0 50.7 L114.0 47.7 L118.0 44.8 L122.0 41.8 L126.0 38.7 L130.0 35.1 L134.0 31.5 L136.0 29.8 L137.5 28.5 L138.0 28.0 L139.0 27.2 L140.5 25.9 L142.0 24.6 L143.5 23.4 L145.0 22.2 L146.0 21.4 L146.5 21.0 L148.0 19.9 L149.5 18.8 L150.0 18.5 L151.0 17.8 L152.5 16.9 L154.0 16.1 L155.5 15.5 L157.0 15.0 L158.0 14.7 L158.5 14.7 L160.0 14.6 L161.5 14.7 L162.0 14.7 L163.0 15.0 L164.5 15.5 L166.0 16.1 L167.5 16.9 L169.0 17.8 L170.0 18.5 L170.5 18.8 L172.0 19.9 L173.5 21.0 L174.0 21.4 L175.0 22.2 L176.5 23.4 L178.0 24.6 L179.5 25.9 L181.0 27.2 L182.0 28.0 L182.5 28.5 L184.0 29.8 L186.0 31.5 L190.0 35.1 L194.0 38.7 L198.0 41.8 L202.0 44.8 L202.0 45.9 L198.0 43.0 L194.0 39.9 L190.0 36.3 L186.0 32.8 L184.0 31.0 L182.5 29.7 L182.0 29.3 L181.0 28.5 L179.5 27.2 L178.0 26.0 L176.5 24.8 L175.0 23.6 L174.0 22.9 L173.5 22.5 L172.0 21.5 L170.5 20.4 L170.0 20.1 L169.0 19.5 L167.5 18.7 L166.0 17.9 L164.5 17.3 L163.0 16.8 L162.0 16.6 L161.5 16.5 L160.0 16.4 L158.5 16.5 L158.0 16.6 L157.0 16.8 L155.5 17.3 L154.0 17.9 L152.5 18.7 L151.0 19.5 L150.0 20.1 L149.5 20.4 L148.0 21.5 L146.5 22.5 L146.0 22.9 L145.0 23.6 L143.5 24.8 L142.0 26.0 L140.5 27.2 L139.0 28.5 L138.0 29.3 L137.5 29.7 L136.0 31.0 L134.0 32.8 L130.0 36.3 L126.0 39.9 L122.0 43.0 L118.0 45.9 L114.0 48.9 L110.0 51.8 L106.0 54.8 L102.0 57.8 L98.0 60.8 L94.0 63.8 L90.0 66.8 L86.0 69.8 L82.0 72.8 L78.0 75.8 L74.0 78.8 L70.0 81.8 L66.0 84.8 L62.0 87.8 L58.0 90.9 L54.0 93.9 L50.0 96.9 L46.0 99.9 L42.0 102.9 L38.0 106.0 L34.0 109.0 L30.0 112.0 L26.0 115.0 L22.0 118.1 L18.0 121.1 L14.0 124.1 L10.0 127.2 L6.0 130.2 L2.0 133.2 L-2.0 136.2 L-6.0 139.3Z" fill="url(#gB2k)" opacity="0.9"/><path d="M-6.0 140.3 L-2.0 137.2 L2.0 134.2 L6.0 131.2 L10.0 128.2 L14.0 125.1 L18.0 122.1 L22.0 119.1 L26.0 116.0 L30.0 113.0 L34.0 110.0 L38.0 107.0 L42.0 103.9 L46.0 100.9 L50.0 97.9 L54.0 94.9 L58.0 91.8 L62.0 88.8 L66.0 85.8 L70.0 82.8 L74.0 79.8 L78.0 76.8 L82.0 73.8 L86.0 70.8 L90.0 67.8 L94.0 64.8 L98.0 61.8 L102.0 58.8 L106.0 55.8 L110.0 52.8 L114.0 49.9 L118.0 46.9 L122.0 44.0 L126.0 40.9 L130.0 37.3 L134.0 33.7 L136.0 31.9 L137.5 30.6 L138.0 30.2 L139.0 29.3 L140.5 28.0 L142.0 26.8 L143.5 25.5 L145.0 24.3 L146.0 23.5 L146.5 23.1 L148.0 22.0 L149.5 20.9 L150.0 20.6 L151.0 19.9 L152.5 19.0 L154.0 18.2 L155.5 17.6 L157.0 17.1 L158.0 16.8 L158.5 16.8 L160.0 16.7 L161.5 16.8 L162.0 16.8 L163.0 17.1 L164.5 17.6 L166.0 18.2 L167.5 19.0 L169.0 19.9 L170.0 20.6 L170.5 20.9 L172.0 22.0 L173.5 23.1 L174.0 23.5 L175.0 24.3 L176.5 25.5 L178.0 26.8 L179.5 28.0 L181.0 29.3 L182.0 30.2 L182.5 30.6 L184.0 31.9 L186.0 33.7 L190.0 37.3 L194.0 40.9 L198.0 44.0 L202.0 46.9 L202.0 48.4 L198.0 45.4 L194.0 42.3 L190.0 38.7 L186.0 35.2 L184.0 33.5 L182.5 32.2 L182.0 31.7 L181.0 30.9 L179.5 29.7 L178.0 28.4 L176.5 27.3 L175.0 26.1 L174.0 25.4 L173.5 25.0 L172.0 23.9 L170.5 22.9 L170.0 22.6 L169.0 22.0 L167.5 21.1 L166.0 20.4 L164.5 19.8 L163.0 19.3 L162.0 19.1 L161.5 19.0 L160.0 18.9 L158.5 19.0 L158.0 19.1 L157.0 19.3 L155.5 19.8 L154.0 20.4 L152.5 21.1 L151.0 22.0 L150.0 22.6 L149.5 22.9 L148.0 23.9 L146.5 25.0 L146.0 25.4 L145.0 26.1 L143.5 27.3 L142.0 28.4 L140.5 29.7 L139.0 30.9 L138.0 31.7 L137.5 32.2 L136.0 33.5 L134.0 35.2 L130.0 38.7 L126.0 42.3 L122.0 45.4 L118.0 48.4 L114.0 51.3 L110.0 54.3 L106.0 57.2 L102.0 60.2 L98.0 63.2 L94.0 66.2 L90.0 69.2 L86.0 72.2 L82.0 75.2 L78.0 78.2 L74.0 81.2 L70.0 84.2 L66.0 87.2 L62.0 90.3 L58.0 93.3 L54.0 96.3 L50.0 99.3 L46.0 102.3 L42.0 105.4 L38.0 108.4 L34.0 111.4 L30.0 114.4 L26.0 117.5 L22.0 120.5 L18.0 123.5 L14.0 126.5 L10.0 129.6 L6.0 132.6 L2.0 135.6 L-2.0 138.7 L-6.0 141.7Z" fill="url(#gB2w)"/></g></symbol>
<symbol id="rgC" overflow="hidden" viewBox="0 0 198.7 98.3"><g filter="url(#bl)"><rect x="-5" y="-5" width="208.7" height="108.3" fill="#818181"/><rect x="-5" y="6.8" width="208.7" height="1.5" fill="#fff" opacity="0.06"/><rect x="-5" y="8.8" width="208.7" height="1.5" fill="#000" opacity="0.045"/><path d="M-6.0 78.9 L-2.0 76.5 L2.0 73.9 L6.0 71.3 L10.0 68.8 L11.5 68.0 L13.0 67.1 L14.0 66.6 L14.5 66.3 L16.0 65.6 L17.5 64.9 L18.0 64.6 L19.0 64.2 L20.5 63.6 L22.0 63.0 L23.5 62.5 L25.0 62.0 L26.0 61.8 L26.5 61.6 L28.0 61.3 L29.5 61.0 L30.0 61.0 L31.0 60.9 L32.5 60.7 L34.0 60.7 L35.5 60.7 L37.0 60.9 L38.0 61.0 L38.5 61.0 L40.0 61.3 L41.5 61.6 L42.0 61.8 L43.0 62.0 L44.5 62.5 L46.0 63.0 L47.5 63.6 L49.0 64.2 L50.0 64.6 L50.5 64.9 L52.0 65.6 L53.5 66.3 L54.0 66.6 L55.0 67.1 L56.5 68.0 L58.0 68.8 L62.0 71.3 L66.0 73.9 L70.0 76.5 L74.0 78.9 L78.0 81.3 L82.0 83.7 L86.0 86.3 L90.0 88.8 L94.0 91.4 L98.0 94.1 L102.0 96.8 L106.0 99.5 L110.0 102.2 L114.0 105.0 L118.0 107.8 L122.0 110.6 L126.0 113.4 L130.0 116.3 L134.0 119.1 L138.0 122.0 L142.0 124.9 L146.0 127.7 L150.0 130.6 L154.0 133.5 L158.0 136.4 L162.0 139.4 L166.0 142.3 L170.0 145.2 L174.0 148.2 L178.0 151.1 L182.0 154.0 L186.0 157.0 L190.0 159.9 L194.0 162.9 L198.0 165.9 L202.0 168.8 L202.0 170.4 L198.0 167.5 L194.0 164.5 L190.0 161.6 L186.0 158.6 L182.0 155.7 L178.0 152.7 L174.0 149.8 L170.0 146.8 L166.0 143.9 L162.0 141.0 L158.0 138.1 L154.0 135.2 L150.0 132.2 L146.0 129.4 L142.0 126.5 L138.0 123.6 L134.0 120.7 L130.0 117.9 L126.0 115.0 L122.0 112.2 L118.0 109.4 L114.0 106.6 L110.0 103.9 L106.0 101.1 L102.0 98.4 L98.0 95.7 L94.0 93.1 L90.0 90.4 L86.0 87.9 L82.0 85.3 L78.0 82.9 L74.0 80.5 L70.0 78.2 L66.0 75.5 L62.0 72.9 L58.0 70.5 L56.5 69.7 L55.0 68.9 L54.0 68.4 L53.5 68.2 L52.0 67.5 L50.5 66.8 L50.0 66.6 L49.0 66.2 L47.5 65.7 L46.0 65.2 L44.5 64.7 L43.0 64.4 L42.0 64.1 L41.5 64.0 L40.0 63.8 L38.5 63.6 L38.0 63.5 L37.0 63.4 L35.5 63.3 L34.0 63.3 L32.5 63.3 L31.0 63.4 L30.0 63.5 L29.5 63.6 L28.0 63.8 L26.5 64.0 L26.0 64.1 L25.0 64.4 L23.5 64.7 L22.0 65.2 L20.5 65.7 L19.0 66.2 L18.0 66.6 L17.5 66.8 L16.0 67.5 L14.5 68.2 L14.0 68.4 L13.0 68.9 L11.5 69.7 L10.0 70.5 L6.0 72.9 L2.0 75.5 L-2.0 78.2 L-6.0 80.5Z" fill="url(#sC0w)" filter="url(#bl2)"/><path d="M-6.0 76.3 L-2.0 74.0 L2.0 71.4 L6.0 68.7 L10.0 66.3 L11.5 65.4 L13.0 64.6 L14.0 64.1 L14.5 63.8 L16.0 63.1 L17.5 62.3 L18.0 62.1 L19.0 61.7 L20.5 61.1 L22.0 60.5 L23.5 60.0 L25.0 59.5 L26.0 59.2 L26.5 59.1 L28.0 58.8 L29.5 58.5 L30.0 58.5 L31.0 58.4 L32.5 58.2 L34.0 58.2 L35.5 58.2 L37.0 58.4 L38.0 58.5 L38.5 58.5 L40.0 58.8 L41.5 59.1 L42.0 59.2 L43.0 59.5 L44.5 60.0 L46.0 60.5 L47.5 61.1 L49.0 61.7 L50.0 62.1 L50.5 62.3 L52.0 63.1 L53.5 63.8 L54.0 64.1 L55.0 64.6 L56.5 65.4 L58.0 66.3 L62.0 68.7 L66.0 71.4 L70.0 74.0 L74.0 76.3 L78.0 78.7 L82.0 81.2 L86.0 83.7 L90.0 86.3 L94.0 88.9 L98.0 91.6 L102.0 94.2 L106.0 97.0 L110.0 99.7 L114.0 102.5 L118.0 105.3 L122.0 108.1 L126.0 110.9 L130.0 113.7 L134.0 116.6 L138.0 119.4 L142.0 122.3 L146.0 125.2 L150.0 128.1 L154.0 131.0 L158.0 133.9 L162.0 136.8 L166.0 139.8 L170.0 142.7 L174.0 145.6 L178.0 148.6 L182.0 151.5 L186.0 154.5 L190.0 157.4 L194.0 160.4 L198.0 163.3 L202.0 166.3 L202.0 167.8 L198.0 164.8 L194.0 161.9 L190.0 158.9 L186.0 155.9 L182.0 153.0 L178.0 150.0 L174.0 147.1 L170.0 144.2 L166.0 141.2 L162.0 138.3 L158.0 135.4 L154.0 132.5 L150.0 129.6 L146.0 126.7 L142.0 123.8 L138.0 120.9 L134.0 118.1 L130.0 115.2 L126.0 112.4 L122.0 109.6 L118.0 106.8 L114.0 104.0 L110.0 101.2 L106.0 98.5 L102.0 95.7 L98.0 93.0 L94.0 90.4 L90.0 87.8 L86.0 85.2 L82.0 82.7 L78.0 80.2 L74.0 77.8 L70.0 75.5 L66.0 72.9 L62.0 70.3 L58.0 67.9 L56.5 67.0 L55.0 66.3 L54.0 65.8 L53.5 65.5 L52.0 64.8 L50.5 64.1 L50.0 63.9 L49.0 63.5 L47.5 63.0 L46.0 62.5 L44.5 62.1 L43.0 61.7 L42.0 61.4 L41.5 61.3 L40.0 61.1 L38.5 60.9 L38.0 60.8 L37.0 60.7 L35.5 60.6 L34.0 60.6 L32.5 60.6 L31.0 60.7 L30.0 60.8 L29.5 60.9 L28.0 61.1 L26.5 61.3 L26.0 61.4 L25.0 61.7 L23.5 62.1 L22.0 62.5 L20.5 63.0 L19.0 63.5 L18.0 63.9 L17.5 64.1 L16.0 64.8 L14.5 65.5 L14.0 65.8 L13.0 66.3 L11.5 67.0 L10.0 67.9 L6.0 70.3 L2.0 72.9 L-2.0 75.5 L-6.0 77.8Z" fill="url(#sC0k)" filter="url(#bl2)"/><path d="M-6.0 81.5 L-2.0 79.2 L2.0 76.6 L6.0 73.9 L10.0 71.5 L11.5 70.6 L13.0 69.8 L14.0 69.3 L14.5 69.0 L16.0 68.3 L17.5 67.5 L18.0 67.3 L19.0 66.9 L20.5 66.3 L22.0 65.7 L23.5 65.2 L25.0 64.7 L26.0 64.4 L26.5 64.3 L28.0 64.0 L29.5 63.7 L30.0 63.7 L31.0 63.6 L32.5 63.4 L34.0 63.4 L35.5 63.4 L37.0 63.6 L38.0 63.7 L38.5 63.7 L40.0 64.0 L41.5 64.3 L42.0 64.4 L43.0 64.7 L44.5 65.2 L46.0 65.7 L47.5 66.3 L49.0 66.9 L50.0 67.3 L50.5 67.5 L52.0 68.3 L53.5 69.0 L54.0 69.3 L55.0 69.8 L56.5 70.6 L58.0 71.5 L62.0 73.9 L66.0 76.6 L70.0 79.2 L74.0 81.5 L78.0 83.9 L82.0 86.4 L86.0 88.9 L90.0 91.5 L94.0 94.1 L98.0 96.8 L102.0 99.4 L106.0 102.2 L110.0 104.9 L114.0 107.7 L118.0 110.5 L122.0 113.3 L126.0 116.1 L130.0 118.9 L134.0 121.8 L138.0 124.6 L142.0 127.5 L146.0 130.4 L150.0 133.3 L154.0 136.2 L158.0 139.1 L162.0 142.0 L166.0 145.0 L170.0 147.9 L174.0 150.8 L178.0 153.8 L182.0 156.7 L186.0 159.7 L190.0 162.6 L194.0 165.6 L198.0 168.5 L202.0 171.5 L202.0 173.0 L198.0 170.0 L194.0 167.1 L190.0 164.1 L186.0 161.1 L182.0 158.2 L178.0 155.2 L174.0 152.3 L170.0 149.4 L166.0 146.4 L162.0 143.5 L158.0 140.6 L154.0 137.7 L150.0 134.8 L146.0 131.9 L142.0 129.0 L138.0 126.1 L134.0 123.3 L130.0 120.4 L126.0 117.6 L122.0 114.8 L118.0 112.0 L114.0 109.2 L110.0 106.4 L106.0 103.7 L102.0 100.9 L98.0 98.2 L94.0 95.6 L90.0 93.0 L86.0 90.4 L82.0 87.9 L78.0 85.4 L74.0 83.0 L70.0 80.7 L66.0 78.1 L62.0 75.5 L58.0 73.1 L56.5 72.2 L55.0 71.5 L54.0 71.0 L53.5 70.7 L52.0 70.0 L50.5 69.3 L50.0 69.1 L49.0 68.7 L47.5 68.2 L46.0 67.7 L44.5 67.3 L43.0 66.9 L42.0 66.6 L41.5 66.5 L40.0 66.3 L38.5 66.1 L38.0 66.0 L37.0 65.9 L35.5 65.8 L34.0 65.8 L32.5 65.8 L31.0 65.9 L30.0 66.0 L29.5 66.1 L28.0 66.3 L26.5 66.5 L26.0 66.6 L25.0 66.9 L23.5 67.3 L22.0 67.7 L20.5 68.2 L19.0 68.7 L18.0 69.1 L17.5 69.3 L16.0 70.0 L14.5 70.7 L14.0 71.0 L13.0 71.5 L11.5 72.2 L10.0 73.1 L6.0 75.5 L2.0 78.1 L-2.0 80.7 L-6.0 83.0Z" fill="url(#sC0k)" filter="url(#bl2)" opacity="0.6"/><path d="M-6.0 85.4 L-2.0 82.8 L2.0 80.1 L6.0 77.5 L10.0 75.0 L14.0 72.5 L18.0 70.1 L22.0 67.7 L26.0 65.3 L30.0 62.6 L34.0 60.0 L36.0 58.8 L37.5 58.0 L38.0 57.7 L39.0 57.1 L40.5 56.3 L42.0 55.6 L43.5 54.9 L45.0 54.2 L46.0 53.8 L46.5 53.6 L48.0 53.0 L49.5 52.5 L50.0 52.3 L51.0 52.0 L52.5 51.6 L54.0 51.3 L55.5 51.0 L57.0 50.9 L58.0 50.8 L58.5 50.7 L60.0 50.7 L61.5 50.7 L62.0 50.8 L63.0 50.9 L64.5 51.0 L66.0 51.3 L67.5 51.6 L69.0 52.0 L70.0 52.3 L70.5 52.5 L72.0 53.0 L73.5 53.6 L74.0 53.8 L75.0 54.2 L76.5 54.9 L78.0 55.6 L79.5 56.3 L81.0 57.1 L82.0 57.7 L82.5 58.0 L84.0 58.8 L86.0 60.0 L90.0 62.6 L94.0 65.3 L98.0 67.7 L102.0 70.1 L106.0 72.5 L110.0 75.0 L114.0 77.5 L118.0 80.1 L122.0 82.8 L126.0 85.4 L130.0 88.1 L134.0 90.9 L138.0 93.6 L142.0 96.4 L146.0 99.2 L150.0 102.0 L154.0 104.8 L158.0 107.7 L162.0 110.6 L166.0 113.4 L170.0 116.3 L174.0 119.2 L178.0 122.1 L182.0 125.0 L186.0 127.9 L190.0 130.8 L194.0 133.8 L198.0 136.7 L202.0 139.6 L202.0 141.2 L198.0 138.3 L194.0 135.4 L190.0 132.4 L186.0 129.5 L182.0 126.6 L178.0 123.7 L174.0 120.8 L170.0 117.9 L166.0 115.0 L162.0 112.2 L158.0 109.3 L154.0 106.5 L150.0 103.6 L146.0 100.8 L142.0 98.0 L138.0 95.2 L134.0 92.5 L130.0 89.8 L126.0 87.1 L122.0 84.4 L118.0 81.7 L114.0 79.1 L110.0 76.6 L106.0 74.1 L102.0 71.7 L98.0 69.3 L94.0 66.9 L90.0 64.2 L86.0 61.7 L84.0 60.5 L82.5 59.7 L82.0 59.4 L81.0 58.9 L79.5 58.2 L78.0 57.5 L76.5 56.8 L75.0 56.2 L74.0 55.9 L73.5 55.7 L72.0 55.2 L70.5 54.7 L70.0 54.6 L69.0 54.4 L67.5 54.0 L66.0 53.8 L64.5 53.6 L63.0 53.4 L62.0 53.4 L61.5 53.3 L60.0 53.3 L58.5 53.3 L58.0 53.4 L57.0 53.4 L55.5 53.6 L54.0 53.8 L52.5 54.0 L51.0 54.4 L50.0 54.6 L49.5 54.7 L48.0 55.2 L46.5 55.7 L46.0 55.9 L45.0 56.2 L43.5 56.8 L42.0 57.5 L40.5 58.2 L39.0 58.9 L38.0 59.4 L37.5 59.7 L36.0 60.5 L34.0 61.7 L30.0 64.2 L26.0 66.9 L22.0 69.3 L18.0 71.7 L14.0 74.1 L10.0 76.6 L6.0 79.1 L2.0 81.7 L-2.0 84.4 L-6.0 87.1Z" fill="url(#sC1w)" filter="url(#bl2)"/><path d="M-6.0 82.9 L-2.0 80.2 L2.0 77.6 L6.0 75.0 L10.0 72.4 L14.0 70.0 L18.0 67.5 L22.0 65.2 L26.0 62.7 L30.0 60.0 L34.0 57.5 L36.0 56.3 L37.5 55.4 L38.0 55.1 L39.0 54.6 L40.5 53.8 L42.0 53.1 L43.5 52.3 L45.0 51.7 L46.0 51.3 L46.5 51.1 L48.0 50.5 L49.5 50.0 L50.0 49.8 L51.0 49.5 L52.5 49.1 L54.0 48.8 L55.5 48.5 L57.0 48.4 L58.0 48.3 L58.5 48.2 L60.0 48.2 L61.5 48.2 L62.0 48.3 L63.0 48.4 L64.5 48.5 L66.0 48.8 L67.5 49.1 L69.0 49.5 L70.0 49.8 L70.5 50.0 L72.0 50.5 L73.5 51.1 L74.0 51.3 L75.0 51.7 L76.5 52.3 L78.0 53.1 L79.5 53.8 L81.0 54.6 L82.0 55.1 L82.5 55.4 L84.0 56.3 L86.0 57.5 L90.0 60.0 L94.0 62.7 L98.0 65.2 L102.0 67.5 L106.0 70.0 L110.0 72.4 L114.0 75.0 L118.0 77.6 L122.0 80.2 L126.0 82.9 L130.0 85.6 L134.0 88.3 L138.0 91.1 L142.0 93.9 L146.0 96.7 L150.0 99.5 L154.0 102.3 L158.0 105.2 L162.0 108.0 L166.0 110.9 L170.0 113.8 L174.0 116.7 L178.0 119.5 L182.0 122.5 L186.0 125.4 L190.0 128.3 L194.0 131.2 L198.0 134.2 L202.0 137.1 L202.0 138.6 L198.0 135.6 L194.0 132.7 L190.0 129.8 L186.0 126.9 L182.0 123.9 L178.0 121.0 L174.0 118.1 L170.0 115.2 L166.0 112.4 L162.0 109.5 L158.0 106.6 L154.0 103.8 L150.0 101.0 L146.0 98.2 L142.0 95.4 L138.0 92.6 L134.0 89.8 L130.0 87.1 L126.0 84.4 L122.0 81.7 L118.0 79.1 L114.0 76.5 L110.0 73.9 L106.0 71.4 L102.0 69.0 L98.0 66.6 L94.0 64.2 L90.0 61.5 L86.0 59.0 L84.0 57.9 L82.5 57.0 L82.0 56.8 L81.0 56.3 L79.5 55.5 L78.0 54.8 L76.5 54.1 L75.0 53.5 L74.0 53.2 L73.5 53.0 L72.0 52.5 L70.5 52.1 L70.0 51.9 L69.0 51.7 L67.5 51.3 L66.0 51.1 L64.5 50.9 L63.0 50.7 L62.0 50.7 L61.5 50.6 L60.0 50.6 L58.5 50.6 L58.0 50.7 L57.0 50.7 L55.5 50.9 L54.0 51.1 L52.5 51.3 L51.0 51.7 L50.0 51.9 L49.5 52.1 L48.0 52.5 L46.5 53.0 L46.0 53.2 L45.0 53.5 L43.5 54.1 L42.0 54.8 L40.5 55.5 L39.0 56.3 L38.0 56.8 L37.5 57.0 L36.0 57.9 L34.0 59.0 L30.0 61.5 L26.0 64.2 L22.0 66.6 L18.0 69.0 L14.0 71.4 L10.0 73.9 L6.0 76.5 L2.0 79.1 L-2.0 81.7 L-6.0 84.4Z" fill="url(#sC1k)" filter="url(#bl2)"/><path d="M-6.0 88.1 L-2.0 85.4 L2.0 82.8 L6.0 80.2 L10.0 77.6 L14.0 75.2 L18.0 72.7 L22.0 70.4 L26.0 67.9 L30.0 65.2 L34.0 62.7 L36.0 61.5 L37.5 60.6 L38.0 60.3 L39.0 59.8 L40.5 59.0 L42.0 58.3 L43.5 57.5 L45.0 56.9 L46.0 56.5 L46.5 56.3 L48.0 55.7 L49.5 55.2 L50.0 55.0 L51.0 54.7 L52.5 54.3 L54.0 54.0 L55.5 53.7 L57.0 53.6 L58.0 53.5 L58.5 53.4 L60.0 53.4 L61.5 53.4 L62.0 53.5 L63.0 53.6 L64.5 53.7 L66.0 54.0 L67.5 54.3 L69.0 54.7 L70.0 55.0 L70.5 55.2 L72.0 55.7 L73.5 56.3 L74.0 56.5 L75.0 56.9 L76.5 57.5 L78.0 58.3 L79.5 59.0 L81.0 59.8 L82.0 60.3 L82.5 60.6 L84.0 61.5 L86.0 62.7 L90.0 65.2 L94.0 67.9 L98.0 70.4 L102.0 72.7 L106.0 75.2 L110.0 77.6 L114.0 80.2 L118.0 82.8 L122.0 85.4 L126.0 88.1 L130.0 90.8 L134.0 93.5 L138.0 96.3 L142.0 99.1 L146.0 101.9 L150.0 104.7 L154.0 107.5 L158.0 110.4 L162.0 113.2 L166.0 116.1 L170.0 119.0 L174.0 121.9 L178.0 124.7 L182.0 127.7 L186.0 130.6 L190.0 133.5 L194.0 136.4 L198.0 139.4 L202.0 142.3 L202.0 143.8 L198.0 140.8 L194.0 137.9 L190.0 135.0 L186.0 132.1 L182.0 129.1 L178.0 126.2 L174.0 123.3 L170.0 120.4 L166.0 117.6 L162.0 114.7 L158.0 111.8 L154.0 109.0 L150.0 106.2 L146.0 103.4 L142.0 100.6 L138.0 97.8 L134.0 95.0 L130.0 92.3 L126.0 89.6 L122.0 86.9 L118.0 84.3 L114.0 81.7 L110.0 79.1 L106.0 76.6 L102.0 74.2 L98.0 71.8 L94.0 69.4 L90.0 66.7 L86.0 64.2 L84.0 63.1 L82.5 62.2 L82.0 62.0 L81.0 61.5 L79.5 60.7 L78.0 60.0 L76.5 59.3 L75.0 58.7 L74.0 58.4 L73.5 58.2 L72.0 57.7 L70.5 57.3 L70.0 57.1 L69.0 56.9 L67.5 56.5 L66.0 56.3 L64.5 56.1 L63.0 55.9 L62.0 55.9 L61.5 55.8 L60.0 55.8 L58.5 55.8 L58.0 55.9 L57.0 55.9 L55.5 56.1 L54.0 56.3 L52.5 56.5 L51.0 56.9 L50.0 57.1 L49.5 57.3 L48.0 57.7 L46.5 58.2 L46.0 58.4 L45.0 58.7 L43.5 59.3 L42.0 60.0 L40.5 60.7 L39.0 61.5 L38.0 62.0 L37.5 62.2 L36.0 63.1 L34.0 64.2 L30.0 66.7 L26.0 69.4 L22.0 71.8 L18.0 74.2 L14.0 76.6 L10.0 79.1 L6.0 81.7 L2.0 84.3 L-2.0 86.9 L-6.0 89.6Z" fill="url(#sC1k)" filter="url(#bl2)" opacity="0.6"/><path d="M-6.0 100.6 L-2.0 97.7 L2.0 94.8 L6.0 92.0 L10.0 89.2 L14.0 86.4 L18.0 83.6 L22.0 80.9 L26.0 78.1 L30.0 75.4 L34.0 72.8 L38.0 70.1 L42.0 67.5 L46.0 65.0 L50.0 62.5 L54.0 60.1 L58.0 57.7 L62.0 55.3 L66.0 52.6 L70.0 50.0 L72.0 48.8 L73.5 48.0 L74.0 47.7 L75.0 47.1 L76.5 46.3 L78.0 45.6 L79.5 44.9 L81.0 44.2 L82.0 43.8 L82.5 43.6 L84.0 43.0 L85.5 42.5 L86.0 42.3 L87.0 42.0 L88.5 41.6 L90.0 41.3 L91.5 41.0 L93.0 40.9 L94.0 40.8 L94.5 40.7 L96.0 40.7 L97.5 40.7 L98.0 40.8 L99.0 40.9 L100.5 41.0 L102.0 41.3 L103.5 41.6 L105.0 42.0 L106.0 42.3 L106.5 42.5 L108.0 43.0 L109.5 43.6 L110.0 43.8 L111.0 44.2 L112.5 44.9 L114.0 45.6 L115.5 46.3 L117.0 47.1 L118.0 47.7 L118.5 48.0 L120.0 48.8 L122.0 50.0 L126.0 52.6 L130.0 55.3 L134.0 57.7 L138.0 60.1 L142.0 62.5 L146.0 65.0 L150.0 67.5 L154.0 70.1 L158.0 72.8 L162.0 75.4 L166.0 78.1 L170.0 80.9 L174.0 83.6 L178.0 86.4 L182.0 89.2 L186.0 92.0 L190.0 94.8 L194.0 97.7 L198.0 100.6 L202.0 103.4 L202.0 105.0 L198.0 102.2 L194.0 99.3 L190.0 96.5 L186.0 93.6 L182.0 90.8 L178.0 88.0 L174.0 85.2 L170.0 82.5 L166.0 79.8 L162.0 77.1 L158.0 74.4 L154.0 71.7 L150.0 69.1 L146.0 66.6 L142.0 64.1 L138.0 61.7 L134.0 59.3 L130.0 56.9 L126.0 54.2 L122.0 51.7 L120.0 50.5 L118.5 49.7 L118.0 49.4 L117.0 48.9 L115.5 48.2 L114.0 47.5 L112.5 46.8 L111.0 46.2 L110.0 45.9 L109.5 45.7 L108.0 45.2 L106.5 44.7 L106.0 44.6 L105.0 44.4 L103.5 44.0 L102.0 43.8 L100.5 43.6 L99.0 43.4 L98.0 43.4 L97.5 43.3 L96.0 43.3 L94.5 43.3 L94.0 43.4 L93.0 43.4 L91.5 43.6 L90.0 43.8 L88.5 44.0 L87.0 44.4 L86.0 44.6 L85.5 44.7 L84.0 45.2 L82.5 45.7 L82.0 45.9 L81.0 46.2 L79.5 46.8 L78.0 47.5 L76.5 48.2 L75.0 48.9 L74.0 49.4 L73.5 49.7 L72.0 50.5 L70.0 51.7 L66.0 54.2 L62.0 56.9 L58.0 59.3 L54.0 61.7 L50.0 64.1 L46.0 66.6 L42.0 69.1 L38.0 71.7 L34.0 74.4 L30.0 77.1 L26.0 79.8 L22.0 82.5 L18.0 85.2 L14.0 88.0 L10.0 90.8 L6.0 93.6 L2.0 96.5 L-2.0 99.3 L-6.0 102.2Z" fill="url(#sC2w)" filter="url(#bl2)"/><path d="M-6.0 98.0 L-2.0 95.2 L2.0 92.3 L6.0 89.5 L10.0 86.7 L14.0 83.9 L18.0 81.1 L22.0 78.3 L26.0 75.6 L30.0 72.9 L34.0 70.2 L38.0 67.6 L42.0 65.0 L46.0 62.4 L50.0 60.0 L54.0 57.5 L58.0 55.2 L62.0 52.7 L66.0 50.0 L70.0 47.5 L72.0 46.3 L73.5 45.4 L74.0 45.1 L75.0 44.6 L76.5 43.8 L78.0 43.1 L79.5 42.3 L81.0 41.7 L82.0 41.3 L82.5 41.1 L84.0 40.5 L85.5 40.0 L86.0 39.8 L87.0 39.5 L88.5 39.1 L90.0 38.8 L91.5 38.5 L93.0 38.4 L94.0 38.3 L94.5 38.2 L96.0 38.2 L97.5 38.2 L98.0 38.3 L99.0 38.4 L100.5 38.5 L102.0 38.8 L103.5 39.1 L105.0 39.5 L106.0 39.8 L106.5 40.0 L108.0 40.5 L109.5 41.1 L110.0 41.3 L111.0 41.7 L112.5 42.3 L114.0 43.1 L115.5 43.8 L117.0 44.6 L118.0 45.1 L118.5 45.4 L120.0 46.3 L122.0 47.5 L126.0 50.0 L130.0 52.7 L134.0 55.2 L138.0 57.5 L142.0 60.0 L146.0 62.4 L150.0 65.0 L154.0 67.6 L158.0 70.2 L162.0 72.9 L166.0 75.6 L170.0 78.3 L174.0 81.1 L178.0 83.9 L182.0 86.7 L186.0 89.5 L190.0 92.3 L194.0 95.2 L198.0 98.0 L202.0 100.9 L202.0 102.4 L198.0 99.5 L194.0 96.6 L190.0 93.8 L186.0 91.0 L182.0 88.2 L178.0 85.4 L174.0 82.6 L170.0 79.8 L166.0 77.1 L162.0 74.4 L158.0 71.7 L154.0 69.1 L150.0 66.5 L146.0 63.9 L142.0 61.4 L138.0 59.0 L134.0 56.6 L130.0 54.2 L126.0 51.5 L122.0 49.0 L120.0 47.9 L118.5 47.0 L118.0 46.8 L117.0 46.3 L115.5 45.5 L114.0 44.8 L112.5 44.1 L111.0 43.5 L110.0 43.2 L109.5 43.0 L108.0 42.5 L106.5 42.1 L106.0 41.9 L105.0 41.7 L103.5 41.3 L102.0 41.1 L100.5 40.9 L99.0 40.7 L98.0 40.7 L97.5 40.6 L96.0 40.6 L94.5 40.6 L94.0 40.7 L93.0 40.7 L91.5 40.9 L90.0 41.1 L88.5 41.3 L87.0 41.7 L86.0 41.9 L85.5 42.1 L84.0 42.5 L82.5 43.0 L82.0 43.2 L81.0 43.5 L79.5 44.1 L78.0 44.8 L76.5 45.5 L75.0 46.3 L74.0 46.8 L73.5 47.0 L72.0 47.9 L70.0 49.0 L66.0 51.5 L62.0 54.2 L58.0 56.6 L54.0 59.0 L50.0 61.4 L46.0 63.9 L42.0 66.5 L38.0 69.1 L34.0 71.7 L30.0 74.4 L26.0 77.1 L22.0 79.8 L18.0 82.6 L14.0 85.4 L10.0 88.2 L6.0 91.0 L2.0 93.8 L-2.0 96.6 L-6.0 99.5Z" fill="url(#sC2k)" filter="url(#bl2)"/><path d="M-6.0 103.2 L-2.0 100.4 L2.0 97.5 L6.0 94.7 L10.0 91.9 L14.0 89.1 L18.0 86.3 L22.0 83.5 L26.0 80.8 L30.0 78.1 L34.0 75.4 L38.0 72.8 L42.0 70.2 L46.0 67.6 L50.0 65.2 L54.0 62.7 L58.0 60.4 L62.0 57.9 L66.0 55.2 L70.0 52.7 L72.0 51.5 L73.5 50.6 L74.0 50.3 L75.0 49.8 L76.5 49.0 L78.0 48.3 L79.5 47.5 L81.0 46.9 L82.0 46.5 L82.5 46.3 L84.0 45.7 L85.5 45.2 L86.0 45.0 L87.0 44.7 L88.5 44.3 L90.0 44.0 L91.5 43.7 L93.0 43.6 L94.0 43.5 L94.5 43.4 L96.0 43.4 L97.5 43.4 L98.0 43.5 L99.0 43.6 L100.5 43.7 L102.0 44.0 L103.5 44.3 L105.0 44.7 L106.0 45.0 L106.5 45.2 L108.0 45.7 L109.5 46.3 L110.0 46.5 L111.0 46.9 L112.5 47.5 L114.0 48.3 L115.5 49.0 L117.0 49.8 L118.0 50.3 L118.5 50.6 L120.0 51.5 L122.0 52.7 L126.0 55.2 L130.0 57.9 L134.0 60.4 L138.0 62.7 L142.0 65.2 L146.0 67.6 L150.0 70.2 L154.0 72.8 L158.0 75.4 L162.0 78.1 L166.0 80.8 L170.0 83.5 L174.0 86.3 L178.0 89.1 L182.0 91.9 L186.0 94.7 L190.0 97.5 L194.0 100.4 L198.0 103.2 L202.0 106.1 L202.0 107.6 L198.0 104.7 L194.0 101.8 L190.0 99.0 L186.0 96.2 L182.0 93.4 L178.0 90.6 L174.0 87.8 L170.0 85.0 L166.0 82.3 L162.0 79.6 L158.0 76.9 L154.0 74.3 L150.0 71.7 L146.0 69.1 L142.0 66.6 L138.0 64.2 L134.0 61.8 L130.0 59.4 L126.0 56.7 L122.0 54.2 L120.0 53.1 L118.5 52.2 L118.0 52.0 L117.0 51.5 L115.5 50.7 L114.0 50.0 L112.5 49.3 L111.0 48.7 L110.0 48.4 L109.5 48.2 L108.0 47.7 L106.5 47.3 L106.0 47.1 L105.0 46.9 L103.5 46.5 L102.0 46.3 L100.5 46.1 L99.0 45.9 L98.0 45.9 L97.5 45.8 L96.0 45.8 L94.5 45.8 L94.0 45.9 L93.0 45.9 L91.5 46.1 L90.0 46.3 L88.5 46.5 L87.0 46.9 L86.0 47.1 L85.5 47.3 L84.0 47.7 L82.5 48.2 L82.0 48.4 L81.0 48.7 L79.5 49.3 L78.0 50.0 L76.5 50.7 L75.0 51.5 L74.0 52.0 L73.5 52.2 L72.0 53.1 L70.0 54.2 L66.0 56.7 L62.0 59.4 L58.0 61.8 L54.0 64.2 L50.0 66.6 L46.0 69.1 L42.0 71.7 L38.0 74.3 L34.0 76.9 L30.0 79.6 L26.0 82.3 L22.0 85.0 L18.0 87.8 L14.0 90.6 L10.0 93.4 L6.0 96.2 L2.0 99.0 L-2.0 101.8 L-6.0 104.7Z" fill="url(#sC2k)" filter="url(#bl2)" opacity="0.6"/><path d="M-6.0 139.4 L-2.0 136.5 L2.0 133.6 L6.0 130.7 L10.0 127.8 L14.0 124.9 L18.0 122.1 L22.0 119.2 L26.0 116.3 L30.0 113.5 L34.0 110.7 L38.0 107.9 L42.0 105.1 L46.0 102.3 L50.0 99.5 L54.0 96.8 L58.0 94.1 L62.0 91.4 L66.0 88.7 L70.0 86.1 L74.0 83.5 L78.0 80.9 L82.0 78.4 L86.0 75.9 L90.0 73.5 L94.0 71.2 L98.0 68.9 L102.0 66.7 L106.0 64.2 L110.0 61.8 L113.0 60.1 L114.0 59.5 L114.5 59.3 L116.0 58.5 L117.5 57.8 L118.0 57.6 L119.0 57.1 L120.5 56.5 L122.0 55.9 L123.5 55.3 L125.0 54.8 L126.0 54.5 L126.5 54.3 L128.0 53.9 L129.5 53.5 L130.0 53.4 L131.0 53.2 L132.5 53.0 L134.0 52.8 L135.5 52.7 L137.0 52.7 L138.0 52.7 L138.5 52.7 L140.0 52.8 L141.5 53.0 L142.0 53.1 L143.0 53.2 L144.5 53.5 L146.0 53.9 L147.5 54.3 L149.0 54.8 L150.0 55.1 L150.5 55.3 L152.0 55.9 L153.5 56.5 L154.0 56.7 L155.0 57.1 L156.5 57.8 L158.0 58.5 L159.5 59.3 L161.0 60.1 L162.0 60.6 L166.0 62.9 L170.0 65.4 L174.0 67.8 L178.0 70.0 L182.0 72.3 L186.0 74.7 L190.0 77.1 L194.0 79.6 L198.0 82.2 L202.0 84.8 L202.0 86.4 L198.0 83.8 L194.0 81.2 L190.0 78.8 L186.0 76.3 L182.0 74.0 L178.0 71.7 L174.0 69.4 L170.0 67.1 L166.0 64.6 L162.0 62.3 L161.0 61.8 L159.5 61.0 L158.0 60.3 L156.5 59.6 L155.0 59.0 L154.0 58.6 L153.5 58.4 L152.0 57.9 L150.5 57.4 L150.0 57.2 L149.0 56.9 L147.5 56.6 L146.0 56.2 L144.5 55.9 L143.0 55.7 L142.0 55.6 L141.5 55.5 L140.0 55.4 L138.5 55.3 L138.0 55.3 L137.0 55.3 L135.5 55.3 L134.0 55.4 L132.5 55.5 L131.0 55.7 L130.0 55.9 L129.5 55.9 L128.0 56.2 L126.5 56.6 L126.0 56.7 L125.0 56.9 L123.5 57.4 L122.0 57.9 L120.5 58.4 L119.0 59.0 L118.0 59.4 L117.5 59.6 L116.0 60.3 L114.5 61.0 L114.0 61.3 L113.0 61.8 L110.0 63.4 L106.0 65.8 L102.0 68.4 L98.0 70.5 L94.0 72.8 L90.0 75.1 L86.0 77.5 L82.0 80.0 L78.0 82.5 L74.0 85.1 L70.0 87.7 L66.0 90.3 L62.0 93.0 L58.0 95.7 L54.0 98.4 L50.0 101.1 L46.0 103.9 L42.0 106.7 L38.0 109.5 L34.0 112.3 L30.0 115.1 L26.0 118.0 L22.0 120.8 L18.0 123.7 L14.0 126.6 L10.0 129.4 L6.0 132.3 L2.0 135.2 L-2.0 138.1 L-6.0 141.0Z" fill="url(#sC3w)" filter="url(#bl2)"/><path d="M-6.0 136.9 L-2.0 134.0 L2.0 131.1 L6.0 128.2 L10.0 125.3 L14.0 122.4 L18.0 119.5 L22.0 116.7 L26.0 113.8 L30.0 111.0 L34.0 108.1 L38.0 105.3 L42.0 102.5 L46.0 99.7 L50.0 97.0 L54.0 94.2 L58.0 91.5 L62.0 88.8 L66.0 86.2 L70.0 83.5 L74.0 80.9 L78.0 78.4 L82.0 75.8 L86.0 73.4 L90.0 71.0 L94.0 68.6 L98.0 66.4 L102.0 64.2 L106.0 61.6 L110.0 59.2 L113.0 57.5 L114.0 57.0 L114.5 56.8 L116.0 56.0 L117.5 55.3 L118.0 55.0 L119.0 54.6 L120.5 53.9 L122.0 53.3 L123.5 52.8 L125.0 52.3 L126.0 51.9 L126.5 51.8 L128.0 51.4 L129.5 51.0 L130.0 50.9 L131.0 50.7 L132.5 50.5 L134.0 50.3 L135.5 50.2 L137.0 50.2 L138.0 50.2 L138.5 50.2 L140.0 50.3 L141.5 50.5 L142.0 50.6 L143.0 50.7 L144.5 51.0 L146.0 51.4 L147.5 51.8 L149.0 52.3 L150.0 52.6 L150.5 52.8 L152.0 53.3 L153.5 53.9 L154.0 54.1 L155.0 54.6 L156.5 55.3 L158.0 56.0 L159.5 56.8 L161.0 57.5 L162.0 58.1 L166.0 60.4 L170.0 62.9 L174.0 65.3 L178.0 67.5 L182.0 69.8 L186.0 72.2 L190.0 74.6 L194.0 77.1 L198.0 79.6 L202.0 82.2 L202.0 83.7 L198.0 81.1 L194.0 78.6 L190.0 76.1 L186.0 73.7 L182.0 71.3 L178.0 69.0 L174.0 66.8 L170.0 64.4 L166.0 61.9 L162.0 59.7 L161.0 59.1 L159.5 58.4 L158.0 57.6 L156.5 57.0 L155.0 56.3 L154.0 55.9 L153.5 55.7 L152.0 55.2 L150.5 54.7 L150.0 54.6 L149.0 54.3 L147.5 53.9 L146.0 53.5 L144.5 53.2 L143.0 53.0 L142.0 52.9 L141.5 52.8 L140.0 52.7 L138.5 52.6 L138.0 52.6 L137.0 52.6 L135.5 52.6 L134.0 52.7 L132.5 52.8 L131.0 53.0 L130.0 53.2 L129.5 53.2 L128.0 53.5 L126.5 53.9 L126.0 54.0 L125.0 54.3 L123.5 54.7 L122.0 55.2 L120.5 55.7 L119.0 56.3 L118.0 56.7 L117.5 57.0 L116.0 57.6 L114.5 58.4 L114.0 58.6 L113.0 59.1 L110.0 60.8 L106.0 63.1 L102.0 65.7 L98.0 67.9 L94.0 70.1 L90.0 72.5 L86.0 74.9 L82.0 77.3 L78.0 79.8 L74.0 82.4 L70.0 85.0 L66.0 87.6 L62.0 90.3 L58.0 93.0 L54.0 95.7 L50.0 98.5 L46.0 101.2 L42.0 104.0 L38.0 106.8 L34.0 109.6 L30.0 112.5 L26.0 115.3 L22.0 118.2 L18.0 121.0 L14.0 123.9 L10.0 126.8 L6.0 129.7 L2.0 132.6 L-2.0 135.5 L-6.0 138.4Z" fill="url(#sC3k)" filter="url(#bl2)"/><path d="M-6.0 142.1 L-2.0 139.2 L2.0 136.3 L6.0 133.4 L10.0 130.5 L14.0 127.6 L18.0 124.7 L22.0 121.9 L26.0 119.0 L30.0 116.2 L34.0 113.3 L38.0 110.5 L42.0 107.7 L46.0 104.9 L50.0 102.2 L54.0 99.4 L58.0 96.7 L62.0 94.0 L66.0 91.4 L70.0 88.7 L74.0 86.1 L78.0 83.6 L82.0 81.0 L86.0 78.6 L90.0 76.2 L94.0 73.8 L98.0 71.6 L102.0 69.4 L106.0 66.8 L110.0 64.4 L113.0 62.7 L114.0 62.2 L114.5 62.0 L116.0 61.2 L117.5 60.5 L118.0 60.2 L119.0 59.8 L120.5 59.1 L122.0 58.5 L123.5 58.0 L125.0 57.5 L126.0 57.1 L126.5 57.0 L128.0 56.6 L129.5 56.2 L130.0 56.1 L131.0 55.9 L132.5 55.7 L134.0 55.5 L135.5 55.4 L137.0 55.4 L138.0 55.4 L138.5 55.4 L140.0 55.5 L141.5 55.7 L142.0 55.8 L143.0 55.9 L144.5 56.2 L146.0 56.6 L147.5 57.0 L149.0 57.5 L150.0 57.8 L150.5 58.0 L152.0 58.5 L153.5 59.1 L154.0 59.3 L155.0 59.8 L156.5 60.5 L158.0 61.2 L159.5 62.0 L161.0 62.7 L162.0 63.3 L166.0 65.6 L170.0 68.1 L174.0 70.5 L178.0 72.7 L182.0 75.0 L186.0 77.4 L190.0 79.8 L194.0 82.3 L198.0 84.8 L202.0 87.4 L202.0 88.9 L198.0 86.3 L194.0 83.8 L190.0 81.3 L186.0 78.9 L182.0 76.5 L178.0 74.2 L174.0 72.0 L170.0 69.6 L166.0 67.1 L162.0 64.9 L161.0 64.3 L159.5 63.6 L158.0 62.8 L156.5 62.2 L155.0 61.5 L154.0 61.1 L153.5 60.9 L152.0 60.4 L150.5 59.9 L150.0 59.8 L149.0 59.5 L147.5 59.1 L146.0 58.7 L144.5 58.4 L143.0 58.2 L142.0 58.1 L141.5 58.0 L140.0 57.9 L138.5 57.8 L138.0 57.8 L137.0 57.8 L135.5 57.8 L134.0 57.9 L132.5 58.0 L131.0 58.2 L130.0 58.4 L129.5 58.4 L128.0 58.7 L126.5 59.1 L126.0 59.2 L125.0 59.5 L123.5 59.9 L122.0 60.4 L120.5 60.9 L119.0 61.5 L118.0 61.9 L117.5 62.2 L116.0 62.8 L114.5 63.6 L114.0 63.8 L113.0 64.3 L110.0 66.0 L106.0 68.3 L102.0 70.9 L98.0 73.1 L94.0 75.3 L90.0 77.7 L86.0 80.1 L82.0 82.5 L78.0 85.0 L74.0 87.6 L70.0 90.2 L66.0 92.8 L62.0 95.5 L58.0 98.2 L54.0 100.9 L50.0 103.7 L46.0 106.4 L42.0 109.2 L38.0 112.0 L34.0 114.8 L30.0 117.7 L26.0 120.5 L22.0 123.4 L18.0 126.2 L14.0 129.1 L10.0 132.0 L6.0 134.9 L2.0 137.8 L-2.0 140.7 L-6.0 143.6Z" fill="url(#sC3k)" filter="url(#bl2)" opacity="0.6"/><path d="M-6.0 53.4 L-2.0 50.5 L2.0 47.1 L6.0 43.6 L10.0 40.1 L10.2 39.9 L11.7 38.6 L13.2 37.3 L14.0 36.7 L14.7 36.1 L16.2 34.8 L17.7 33.6 L18.0 33.4 L19.2 32.4 L20.7 31.3 L22.0 30.4 L22.2 30.2 L23.7 29.2 L25.2 28.2 L26.0 27.8 L26.7 27.4 L28.2 26.6 L29.7 26.0 L30.0 25.9 L31.2 25.6 L32.7 25.3 L34.0 25.2 L34.2 25.2 L35.7 25.3 L37.2 25.6 L38.0 25.8 L38.7 26.0 L40.2 26.6 L41.7 27.4 L42.0 27.6 L43.2 28.2 L44.7 29.2 L46.0 30.1 L46.2 30.2 L47.7 31.3 L49.2 32.4 L50.0 33.1 L50.7 33.6 L52.2 34.8 L53.7 36.1 L54.0 36.3 L55.2 37.3 L56.7 38.6 L58.0 39.7 L58.2 39.9 L62.0 43.2 L66.0 46.8 L70.0 50.2 L74.0 53.1 L78.0 56.0 L82.0 59.0 L86.0 61.9 L90.0 64.9 L94.0 67.9 L98.0 70.8 L102.0 73.8 L106.0 76.8 L110.0 79.8 L114.0 82.8 L118.0 85.8 L122.0 88.8 L126.0 91.8 L130.0 94.8 L134.0 97.8 L138.0 100.9 L142.0 103.9 L146.0 106.9 L150.0 109.9 L154.0 112.9 L158.0 116.0 L162.0 119.0 L166.0 122.0 L170.0 125.0 L174.0 128.1 L178.0 131.1 L182.0 134.1 L186.0 137.1 L190.0 140.2 L194.0 143.2 L198.0 146.2 L202.0 149.2 L202.0 150.6 L198.0 147.6 L194.0 144.6 L190.0 141.5 L186.0 138.5 L182.0 135.5 L178.0 132.4 L174.0 129.4 L170.0 126.4 L166.0 123.4 L162.0 120.3 L158.0 117.3 L154.0 114.3 L150.0 111.3 L146.0 108.3 L142.0 105.2 L138.0 102.2 L134.0 99.2 L130.0 96.2 L126.0 93.2 L122.0 90.2 L118.0 87.2 L114.0 84.2 L110.0 81.2 L106.0 78.2 L102.0 75.2 L98.0 72.2 L94.0 69.2 L90.0 66.3 L86.0 63.3 L82.0 60.3 L78.0 57.4 L74.0 54.5 L70.0 51.6 L66.0 48.1 L62.0 44.6 L58.2 41.3 L58.0 41.2 L56.7 40.1 L55.2 38.8 L54.0 37.9 L53.7 37.6 L52.2 36.4 L50.7 35.3 L50.0 34.7 L49.2 34.2 L47.7 33.1 L46.2 32.1 L46.0 31.9 L44.7 31.1 L43.2 30.2 L42.0 29.6 L41.7 29.4 L40.2 28.7 L38.7 28.2 L38.0 28.0 L37.2 27.7 L35.7 27.5 L34.2 27.4 L34.0 27.4 L32.7 27.5 L31.2 27.7 L30.0 28.1 L29.7 28.2 L28.2 28.7 L26.7 29.4 L26.0 29.8 L25.2 30.2 L23.7 31.1 L22.2 32.1 L22.0 32.2 L20.7 33.1 L19.2 34.2 L18.0 35.0 L17.7 35.3 L16.2 36.4 L14.7 37.6 L14.0 38.2 L13.2 38.8 L11.7 40.1 L10.2 41.3 L10.0 41.5 L6.0 45.0 L2.0 48.5 L-2.0 51.9 L-6.0 54.8Z" fill="url(#gC0w)" opacity="0.08"/><path d="M-6.0 49.2 L-2.0 46.3 L2.0 42.8 L6.0 39.2 L10.0 35.6 L10.2 35.4 L11.7 34.1 L13.2 32.8 L14.0 32.1 L14.7 31.4 L16.2 30.2 L17.7 28.9 L18.0 28.6 L19.2 27.6 L20.7 26.4 L22.0 25.4 L22.2 25.2 L23.7 24.1 L25.2 23.0 L26.0 22.5 L26.7 22.1 L28.2 21.2 L29.7 20.5 L30.0 20.4 L31.2 20.0 L32.7 19.6 L34.0 19.5 L34.2 19.5 L35.7 19.6 L37.2 20.0 L38.0 20.2 L38.7 20.5 L40.2 21.2 L41.7 22.1 L42.0 22.3 L43.2 23.0 L44.7 24.1 L46.0 25.1 L46.2 25.2 L47.7 26.4 L49.2 27.6 L50.0 28.3 L50.7 28.9 L52.2 30.2 L53.7 31.4 L54.0 31.7 L55.2 32.8 L56.7 34.1 L58.0 35.2 L58.2 35.4 L62.0 38.8 L66.0 42.5 L70.0 46.0 L74.0 48.9 L78.0 51.9 L82.0 54.9 L86.0 57.8 L90.0 60.8 L94.0 63.8 L98.0 66.8 L102.0 69.8 L106.0 72.8 L110.0 75.8 L114.0 78.9 L118.0 81.9 L122.0 84.9 L126.0 87.9 L130.0 90.9 L134.0 93.9 L138.0 97.0 L142.0 100.0 L146.0 103.0 L150.0 106.0 L154.0 109.1 L158.0 112.1 L162.0 115.1 L166.0 118.2 L170.0 121.2 L174.0 124.2 L178.0 127.2 L182.0 130.3 L186.0 133.3 L190.0 136.3 L194.0 139.4 L198.0 142.4 L202.0 145.4 L202.0 146.9 L198.0 143.9 L194.0 140.9 L190.0 137.8 L186.0 134.8 L182.0 131.8 L178.0 128.7 L174.0 125.7 L170.0 122.7 L166.0 119.6 L162.0 116.6 L158.0 113.6 L154.0 110.6 L150.0 107.5 L146.0 104.5 L142.0 101.5 L138.0 98.5 L134.0 95.4 L130.0 92.4 L126.0 89.4 L122.0 86.4 L118.0 83.4 L114.0 80.3 L110.0 77.3 L106.0 74.3 L102.0 71.3 L98.0 68.3 L94.0 65.3 L90.0 62.3 L86.0 59.3 L82.0 56.4 L78.0 53.4 L74.0 50.4 L70.0 47.5 L66.0 44.0 L62.0 40.4 L58.2 37.0 L58.0 36.8 L56.7 35.7 L55.2 34.4 L54.0 33.4 L53.7 33.1 L52.2 31.9 L50.7 30.7 L50.0 30.1 L49.2 29.5 L47.7 28.3 L46.2 27.2 L46.0 27.1 L44.7 26.2 L43.2 25.2 L42.0 24.5 L41.7 24.3 L40.2 23.5 L38.7 22.8 L38.0 22.6 L37.2 22.3 L35.7 22.0 L34.2 21.9 L34.0 21.9 L32.7 22.0 L31.2 22.3 L30.0 22.7 L29.7 22.8 L28.2 23.5 L26.7 24.3 L26.0 24.7 L25.2 25.2 L23.7 26.2 L22.2 27.2 L22.0 27.4 L20.7 28.3 L19.2 29.5 L18.0 30.4 L17.7 30.7 L16.2 31.9 L14.7 33.1 L14.0 33.7 L13.2 34.4 L11.7 35.7 L10.2 37.0 L10.0 37.2 L6.0 40.7 L2.0 44.3 L-2.0 47.8 L-6.0 50.7Z" fill="url(#gC0k)" opacity="0.16"/><path d="M-6.0 44.4 L-2.0 41.4 L2.0 38.0 L6.0 34.4 L10.0 30.8 L10.2 30.6 L11.7 29.3 L13.2 27.9 L14.0 27.2 L14.7 26.6 L16.2 25.3 L17.7 24.1 L18.0 23.8 L19.2 22.8 L20.7 21.6 L22.0 20.6 L22.2 20.4 L23.7 19.3 L25.2 18.3 L26.0 17.7 L26.7 17.3 L28.2 16.5 L29.7 15.7 L30.0 15.6 L31.2 15.2 L32.7 14.9 L34.0 14.8 L34.2 14.8 L35.7 14.9 L37.2 15.2 L38.0 15.5 L38.7 15.7 L40.2 16.5 L41.7 17.3 L42.0 17.5 L43.2 18.3 L44.7 19.3 L46.0 20.3 L46.2 20.4 L47.7 21.6 L49.2 22.8 L50.0 23.5 L50.7 24.1 L52.2 25.3 L53.7 26.6 L54.0 26.9 L55.2 27.9 L56.7 29.3 L58.0 30.4 L58.2 30.6 L62.0 34.0 L66.0 37.6 L70.0 41.1 L74.0 44.1 L78.0 47.1 L82.0 50.0 L86.0 53.0 L90.0 56.0 L94.0 59.0 L98.0 62.0 L102.0 65.0 L106.0 68.0 L110.0 71.0 L114.0 74.0 L118.0 77.0 L122.0 80.0 L126.0 83.1 L130.0 86.1 L134.0 89.1 L138.0 92.1 L142.0 95.1 L146.0 98.2 L150.0 101.2 L154.0 104.2 L158.0 107.3 L162.0 110.3 L166.0 113.3 L170.0 116.3 L174.0 119.4 L178.0 122.4 L182.0 125.4 L186.0 128.5 L190.0 131.5 L194.0 134.5 L198.0 137.6 L202.0 140.6 L202.0 141.8 L198.0 138.7 L194.0 135.7 L190.0 132.7 L186.0 129.6 L182.0 126.6 L178.0 123.6 L174.0 120.5 L170.0 117.5 L166.0 114.5 L162.0 111.5 L158.0 108.4 L154.0 105.4 L150.0 102.4 L146.0 99.3 L142.0 96.3 L138.0 93.3 L134.0 90.3 L130.0 87.3 L126.0 84.2 L122.0 81.2 L118.0 78.2 L114.0 75.2 L110.0 72.2 L106.0 69.2 L102.0 66.2 L98.0 63.2 L94.0 60.2 L90.0 57.2 L86.0 54.2 L82.0 51.2 L78.0 48.2 L74.0 45.3 L70.0 42.3 L66.0 38.8 L62.0 35.2 L58.2 31.8 L58.0 31.7 L56.7 30.5 L55.2 29.2 L54.0 28.2 L53.7 28.0 L52.2 26.7 L50.7 25.5 L50.0 24.9 L49.2 24.3 L47.7 23.1 L46.2 22.0 L46.0 21.9 L44.7 21.0 L43.2 20.0 L42.0 19.2 L41.7 19.1 L40.2 18.3 L38.7 17.6 L38.0 17.3 L37.2 17.1 L35.7 16.8 L34.2 16.6 L34.0 16.7 L32.7 16.8 L31.2 17.1 L30.0 17.5 L29.7 17.6 L28.2 18.3 L26.7 19.1 L26.0 19.5 L25.2 20.0 L23.7 21.0 L22.2 22.0 L22.0 22.2 L20.7 23.1 L19.2 24.3 L18.0 25.2 L17.7 25.5 L16.2 26.7 L14.7 28.0 L14.0 28.6 L13.2 29.2 L11.7 30.5 L10.2 31.8 L10.0 32.0 L6.0 35.6 L2.0 39.2 L-2.0 42.6 L-6.0 45.6Z" fill="url(#gC0k)" opacity="0.9"/><path d="M-6.0 46.6 L-2.0 43.6 L2.0 40.2 L6.0 36.5 L10.0 32.9 L10.2 32.8 L11.7 31.4 L13.2 30.1 L14.0 29.4 L14.7 28.8 L16.2 27.5 L17.7 26.2 L18.0 26.0 L19.2 25.0 L20.7 23.7 L22.0 22.7 L22.2 22.6 L23.7 21.4 L25.2 20.4 L26.0 19.9 L26.7 19.4 L28.2 18.6 L29.7 17.8 L30.0 17.7 L31.2 17.3 L32.7 17.0 L34.0 16.9 L34.2 16.9 L35.7 17.0 L37.2 17.3 L38.0 17.6 L38.7 17.8 L40.2 18.6 L41.7 19.4 L42.0 19.6 L43.2 20.4 L44.7 21.4 L46.0 22.4 L46.2 22.6 L47.7 23.7 L49.2 25.0 L50.0 25.6 L50.7 26.2 L52.2 27.5 L53.7 28.8 L54.0 29.0 L55.2 30.1 L56.7 31.4 L58.0 32.6 L58.2 32.8 L62.0 36.2 L66.0 39.8 L70.0 43.3 L74.0 46.3 L78.0 49.2 L82.0 52.2 L86.0 55.2 L90.0 58.2 L94.0 61.2 L98.0 64.2 L102.0 67.2 L106.0 70.2 L110.0 73.2 L114.0 76.2 L118.0 79.2 L122.0 82.2 L126.0 85.2 L130.0 88.3 L134.0 91.3 L138.0 94.3 L142.0 97.3 L146.0 100.3 L150.0 103.4 L154.0 106.4 L158.0 109.4 L162.0 112.5 L166.0 115.5 L170.0 118.5 L174.0 121.5 L178.0 124.6 L182.0 127.6 L186.0 130.6 L190.0 133.7 L194.0 136.7 L198.0 139.7 L202.0 142.8 L202.0 144.2 L198.0 141.2 L194.0 138.1 L190.0 135.1 L186.0 132.1 L182.0 129.0 L178.0 126.0 L174.0 123.0 L170.0 119.9 L166.0 116.9 L162.0 113.9 L158.0 110.9 L154.0 107.8 L150.0 104.8 L146.0 101.8 L142.0 98.7 L138.0 95.7 L134.0 92.7 L130.0 89.7 L126.0 86.7 L122.0 83.6 L118.0 80.6 L114.0 77.6 L110.0 74.6 L106.0 71.6 L102.0 68.6 L98.0 65.6 L94.0 62.6 L90.0 59.6 L86.0 56.6 L82.0 53.6 L78.0 50.7 L74.0 47.7 L70.0 44.7 L66.0 41.2 L62.0 37.6 L58.2 34.3 L58.0 34.1 L56.7 33.0 L55.2 31.7 L54.0 30.7 L53.7 30.4 L52.2 29.2 L50.7 27.9 L50.0 27.4 L49.2 26.7 L47.7 25.6 L46.2 24.5 L46.0 24.3 L44.7 23.4 L43.2 22.4 L42.0 21.7 L41.7 21.5 L40.2 20.7 L38.7 20.1 L38.0 19.8 L37.2 19.6 L35.7 19.3 L34.2 19.1 L34.0 19.2 L32.7 19.3 L31.2 19.6 L30.0 20.0 L29.7 20.1 L28.2 20.7 L26.7 21.5 L26.0 22.0 L25.2 22.4 L23.7 23.4 L22.2 24.5 L22.0 24.6 L20.7 25.6 L19.2 26.7 L18.0 27.7 L17.7 27.9 L16.2 29.2 L14.7 30.4 L14.0 31.0 L13.2 31.7 L11.7 33.0 L10.2 34.3 L10.0 34.4 L6.0 38.0 L2.0 41.6 L-2.0 45.0 L-6.0 48.0Z" fill="url(#gC0w)"/><path d="M-6.0 84.6 L-2.0 81.6 L2.0 78.6 L6.0 75.6 L10.0 72.6 L14.0 69.7 L18.0 66.7 L22.0 63.7 L26.0 60.8 L30.0 57.8 L34.0 54.9 L38.0 52.0 L42.0 48.9 L46.0 45.3 L50.0 41.8 L52.2 39.9 L53.7 38.6 L54.0 38.3 L55.2 37.3 L56.7 36.1 L58.0 35.0 L58.2 34.8 L59.7 33.6 L61.2 32.4 L62.0 31.8 L62.7 31.3 L64.2 30.2 L65.7 29.2 L66.0 29.0 L67.2 28.2 L68.7 27.4 L70.0 26.7 L70.2 26.6 L71.7 26.0 L73.2 25.6 L74.0 25.4 L74.7 25.3 L76.2 25.2 L77.7 25.3 L78.0 25.3 L79.2 25.6 L80.7 26.0 L82.0 26.6 L82.2 26.6 L83.7 27.4 L85.2 28.2 L86.0 28.7 L86.7 29.2 L88.2 30.2 L89.7 31.3 L90.0 31.5 L91.2 32.4 L92.7 33.6 L94.0 34.7 L94.2 34.8 L95.7 36.1 L97.2 37.3 L98.0 38.0 L98.7 38.6 L100.2 39.9 L102.0 41.5 L106.0 45.0 L110.0 48.6 L114.0 51.7 L118.0 54.6 L122.0 57.5 L126.0 60.5 L130.0 63.4 L134.0 66.4 L138.0 69.4 L142.0 72.3 L146.0 75.3 L150.0 78.3 L154.0 81.3 L158.0 84.3 L162.0 87.3 L166.0 90.3 L170.0 93.3 L174.0 96.3 L178.0 99.4 L182.0 102.4 L186.0 105.4 L190.0 108.4 L194.0 111.4 L198.0 114.4 L202.0 117.5 L202.0 118.8 L198.0 115.8 L194.0 112.8 L190.0 109.8 L186.0 106.7 L182.0 103.7 L178.0 100.7 L174.0 97.7 L170.0 94.7 L166.0 91.7 L162.0 88.7 L158.0 85.7 L154.0 82.7 L150.0 79.7 L146.0 76.7 L142.0 73.7 L138.0 70.7 L134.0 67.7 L130.0 64.8 L126.0 61.8 L122.0 58.9 L118.0 55.9 L114.0 53.0 L110.0 49.9 L106.0 46.4 L102.0 42.9 L100.2 41.3 L98.7 40.1 L98.0 39.5 L97.2 38.8 L95.7 37.6 L94.2 36.4 L94.0 36.3 L92.7 35.3 L91.2 34.2 L90.0 33.3 L89.7 33.1 L88.2 32.1 L86.7 31.1 L86.0 30.7 L85.2 30.2 L83.7 29.4 L82.2 28.7 L82.0 28.7 L80.7 28.2 L79.2 27.7 L78.0 27.5 L77.7 27.5 L76.2 27.4 L74.7 27.5 L74.0 27.6 L73.2 27.7 L71.7 28.2 L70.2 28.7 L70.0 28.8 L68.7 29.4 L67.2 30.2 L66.0 30.9 L65.7 31.1 L64.2 32.1 L62.7 33.1 L62.0 33.6 L61.2 34.2 L59.7 35.3 L58.2 36.4 L58.0 36.6 L56.7 37.6 L55.2 38.8 L54.0 39.8 L53.7 40.1 L52.2 41.3 L50.0 43.2 L46.0 46.7 L42.0 50.3 L38.0 53.3 L34.0 56.2 L30.0 59.2 L26.0 62.1 L22.0 65.1 L18.0 68.0 L14.0 71.0 L10.0 74.0 L6.0 77.0 L2.0 80.0 L-2.0 83.0 L-6.0 86.0Z" fill="url(#gC1w)" opacity="0.08"/><path d="M-6.0 80.7 L-2.0 77.6 L2.0 74.6 L6.0 71.6 L10.0 68.6 L14.0 65.6 L18.0 62.6 L22.0 59.6 L26.0 56.7 L30.0 53.7 L34.0 50.7 L38.0 47.8 L42.0 44.7 L46.0 41.0 L50.0 37.4 L52.2 35.4 L53.7 34.1 L54.0 33.8 L55.2 32.8 L56.7 31.4 L58.0 30.3 L58.2 30.2 L59.7 28.9 L61.2 27.6 L62.0 27.0 L62.7 26.4 L64.2 25.2 L65.7 24.1 L66.0 23.9 L67.2 23.0 L68.7 22.1 L70.0 21.3 L70.2 21.2 L71.7 20.5 L73.2 20.0 L74.0 19.7 L74.7 19.6 L76.2 19.5 L77.7 19.6 L78.0 19.7 L79.2 20.0 L80.7 20.5 L82.0 21.1 L82.2 21.2 L83.7 22.1 L85.2 23.0 L86.0 23.6 L86.7 24.1 L88.2 25.2 L89.7 26.4 L90.0 26.6 L91.2 27.6 L92.7 28.9 L94.0 30.0 L94.2 30.2 L95.7 31.4 L97.2 32.8 L98.0 33.5 L98.7 34.1 L100.2 35.4 L102.0 37.0 L106.0 40.6 L110.0 44.3 L114.0 47.5 L118.0 50.4 L122.0 53.4 L126.0 56.4 L130.0 59.3 L134.0 62.3 L138.0 65.3 L142.0 68.3 L146.0 71.3 L150.0 74.3 L154.0 77.3 L158.0 80.4 L162.0 83.4 L166.0 86.4 L170.0 89.4 L174.0 92.4 L178.0 95.5 L182.0 98.5 L186.0 101.5 L190.0 104.5 L194.0 107.6 L198.0 110.6 L202.0 113.6 L202.0 115.1 L198.0 112.1 L194.0 109.0 L190.0 106.0 L186.0 103.0 L182.0 100.0 L178.0 96.9 L174.0 93.9 L170.0 90.9 L166.0 87.9 L162.0 84.9 L158.0 81.8 L154.0 78.8 L150.0 75.8 L146.0 72.8 L142.0 69.8 L138.0 66.8 L134.0 63.8 L130.0 60.8 L126.0 57.8 L122.0 54.9 L118.0 51.9 L114.0 49.0 L110.0 45.8 L106.0 42.2 L102.0 38.6 L100.2 37.0 L98.7 35.7 L98.0 35.1 L97.2 34.4 L95.7 33.1 L94.2 31.9 L94.0 31.7 L92.7 30.7 L91.2 29.5 L90.0 28.6 L89.7 28.3 L88.2 27.2 L86.7 26.2 L86.0 25.7 L85.2 25.2 L83.7 24.3 L82.2 23.5 L82.0 23.4 L80.7 22.8 L79.2 22.3 L78.0 22.1 L77.7 22.0 L76.2 21.9 L74.7 22.0 L74.0 22.1 L73.2 22.3 L71.7 22.8 L70.2 23.5 L70.0 23.6 L68.7 24.3 L67.2 25.2 L66.0 26.0 L65.7 26.2 L64.2 27.2 L62.7 28.3 L62.0 28.9 L61.2 29.5 L59.7 30.7 L58.2 31.9 L58.0 32.1 L56.7 33.1 L55.2 34.4 L54.0 35.4 L53.7 35.7 L52.2 37.0 L50.0 38.9 L46.0 42.5 L42.0 46.2 L38.0 49.2 L34.0 52.2 L30.0 55.2 L26.0 58.1 L22.0 61.1 L18.0 64.1 L14.0 67.1 L10.0 70.1 L6.0 73.1 L2.0 76.1 L-2.0 79.1 L-6.0 82.1Z" fill="url(#gC1k)" opacity="0.16"/><path d="M-6.0 75.8 L-2.0 72.8 L2.0 69.8 L6.0 66.8 L10.0 63.8 L14.0 60.8 L18.0 57.8 L22.0 54.8 L26.0 51.8 L30.0 48.8 L34.0 45.9 L38.0 42.9 L42.0 39.8 L46.0 36.2 L50.0 32.6 L52.2 30.6 L53.7 29.3 L54.0 29.0 L55.2 27.9 L56.7 26.6 L58.0 25.5 L58.2 25.3 L59.7 24.1 L61.2 22.8 L62.0 22.2 L62.7 21.6 L64.2 20.4 L65.7 19.3 L66.0 19.1 L67.2 18.3 L68.7 17.3 L70.0 16.6 L70.2 16.5 L71.7 15.7 L73.2 15.2 L74.0 15.0 L74.7 14.9 L76.2 14.8 L77.7 14.9 L78.0 14.9 L79.2 15.2 L80.7 15.7 L82.0 16.3 L82.2 16.5 L83.7 17.3 L85.2 18.3 L86.0 18.8 L86.7 19.3 L88.2 20.4 L89.7 21.6 L90.0 21.8 L91.2 22.8 L92.7 24.1 L94.0 25.2 L94.2 25.3 L95.7 26.6 L97.2 27.9 L98.0 28.6 L98.7 29.3 L100.2 30.6 L102.0 32.2 L106.0 35.8 L110.0 39.5 L114.0 42.6 L118.0 45.6 L122.0 48.5 L126.0 51.5 L130.0 54.5 L134.0 57.5 L138.0 60.5 L142.0 63.5 L146.0 66.5 L150.0 69.5 L154.0 72.5 L158.0 75.5 L162.0 78.5 L166.0 81.5 L170.0 84.6 L174.0 87.6 L178.0 90.6 L182.0 93.6 L186.0 96.7 L190.0 99.7 L194.0 102.7 L198.0 105.7 L202.0 108.8 L202.0 109.9 L198.0 106.9 L194.0 103.9 L190.0 100.9 L186.0 97.8 L182.0 94.8 L178.0 91.8 L174.0 88.8 L170.0 85.7 L166.0 82.7 L162.0 79.7 L158.0 76.7 L154.0 73.7 L150.0 70.7 L146.0 67.7 L142.0 64.7 L138.0 61.7 L134.0 58.7 L130.0 55.7 L126.0 52.7 L122.0 49.7 L118.0 46.7 L114.0 43.8 L110.0 40.6 L106.0 37.0 L102.0 33.4 L100.2 31.8 L98.7 30.5 L98.0 29.9 L97.2 29.2 L95.7 28.0 L94.2 26.7 L94.0 26.5 L92.7 25.5 L91.2 24.3 L90.0 23.4 L89.7 23.1 L88.2 22.0 L86.7 21.0 L86.0 20.5 L85.2 20.0 L83.7 19.1 L82.2 18.3 L82.0 18.2 L80.7 17.6 L79.2 17.1 L78.0 16.8 L77.7 16.8 L76.2 16.6 L74.7 16.8 L74.0 16.9 L73.2 17.1 L71.7 17.6 L70.2 18.3 L70.0 18.4 L68.7 19.1 L67.2 20.0 L66.0 20.8 L65.7 21.0 L64.2 22.0 L62.7 23.1 L62.0 23.7 L61.2 24.3 L59.7 25.5 L58.2 26.7 L58.0 26.9 L56.7 28.0 L55.2 29.2 L54.0 30.3 L53.7 30.5 L52.2 31.8 L50.0 33.8 L46.0 37.4 L42.0 41.0 L38.0 44.1 L34.0 47.0 L30.0 50.0 L26.0 53.0 L22.0 56.0 L18.0 59.0 L14.0 62.0 L10.0 65.0 L6.0 68.0 L2.0 71.0 L-2.0 74.0 L-6.0 77.0Z" fill="url(#gC1k)" opacity="0.9"/><path d="M-6.0 78.0 L-2.0 75.0 L2.0 72.0 L6.0 69.0 L10.0 66.0 L14.0 63.0 L18.0 60.0 L22.0 57.0 L26.0 54.0 L30.0 51.0 L34.0 48.0 L38.0 45.1 L42.0 42.0 L46.0 38.3 L50.0 34.7 L52.2 32.8 L53.7 31.4 L54.0 31.2 L55.2 30.1 L56.7 28.8 L58.0 27.7 L58.2 27.5 L59.7 26.2 L61.2 25.0 L62.0 24.3 L62.7 23.7 L64.2 22.6 L65.7 21.4 L66.0 21.2 L67.2 20.4 L68.7 19.4 L70.0 18.7 L70.2 18.6 L71.7 17.8 L73.2 17.3 L74.0 17.1 L74.7 17.0 L76.2 16.9 L77.7 17.0 L78.0 17.0 L79.2 17.3 L80.7 17.8 L82.0 18.5 L82.2 18.6 L83.7 19.4 L85.2 20.4 L86.0 20.9 L86.7 21.4 L88.2 22.6 L89.7 23.7 L90.0 24.0 L91.2 25.0 L92.7 26.2 L94.0 27.3 L94.2 27.5 L95.7 28.8 L97.2 30.1 L98.0 30.8 L98.7 31.4 L100.2 32.8 L102.0 34.4 L106.0 38.0 L110.0 41.6 L114.0 44.8 L118.0 47.7 L122.0 50.7 L126.0 53.7 L130.0 56.7 L134.0 59.7 L138.0 62.7 L142.0 65.7 L146.0 68.7 L150.0 71.7 L154.0 74.7 L158.0 77.7 L162.0 80.7 L166.0 83.7 L170.0 86.7 L174.0 89.8 L178.0 92.8 L182.0 95.8 L186.0 98.8 L190.0 101.9 L194.0 104.9 L198.0 107.9 L202.0 110.9 L202.0 112.4 L198.0 109.3 L194.0 106.3 L190.0 103.3 L186.0 100.3 L182.0 97.2 L178.0 94.2 L174.0 91.2 L170.0 88.2 L166.0 85.1 L162.0 82.1 L158.0 79.1 L154.0 76.1 L150.0 73.1 L146.0 70.1 L142.0 67.1 L138.0 64.1 L134.0 61.1 L130.0 58.1 L126.0 55.1 L122.0 52.1 L118.0 49.2 L114.0 46.2 L110.0 43.1 L106.0 39.4 L102.0 35.9 L100.2 34.3 L98.7 33.0 L98.0 32.4 L97.2 31.7 L95.7 30.4 L94.2 29.2 L94.0 29.0 L92.7 27.9 L91.2 26.7 L90.0 25.8 L89.7 25.6 L88.2 24.5 L86.7 23.4 L86.0 23.0 L85.2 22.4 L83.7 21.5 L82.2 20.7 L82.0 20.6 L80.7 20.1 L79.2 19.6 L78.0 19.3 L77.7 19.3 L76.2 19.1 L74.7 19.3 L74.0 19.4 L73.2 19.6 L71.7 20.1 L70.2 20.7 L70.0 20.8 L68.7 21.5 L67.2 22.4 L66.0 23.2 L65.7 23.4 L64.2 24.5 L62.7 25.6 L62.0 26.1 L61.2 26.7 L59.7 27.9 L58.2 29.2 L58.0 29.3 L56.7 30.4 L55.2 31.7 L54.0 32.7 L53.7 33.0 L52.2 34.3 L50.0 36.2 L46.0 39.8 L42.0 43.4 L38.0 46.5 L34.0 49.5 L30.0 52.4 L26.0 55.4 L22.0 58.4 L18.0 61.4 L14.0 64.4 L10.0 67.4 L6.0 70.4 L2.0 73.4 L-2.0 76.4 L-6.0 79.4Z" fill="url(#gC1w)"/><path d="M-6.0 117.3 L-2.0 114.4 L2.0 111.4 L6.0 108.4 L10.0 105.5 L14.0 102.5 L18.0 99.6 L22.0 96.6 L26.0 93.7 L30.0 90.8 L34.0 87.9 L38.0 85.0 L42.0 82.1 L46.0 79.2 L50.0 76.3 L54.0 73.5 L58.0 70.7 L62.0 67.9 L66.0 65.1 L70.0 62.4 L74.0 59.7 L78.0 57.0 L82.0 54.3 L86.0 51.2 L90.0 48.2 L92.2 46.6 L93.7 45.5 L94.0 45.3 L95.2 44.5 L96.7 43.5 L98.0 42.7 L98.2 42.6 L99.7 41.7 L101.2 40.8 L102.0 40.4 L102.7 40.0 L104.2 39.3 L105.7 38.6 L106.0 38.5 L107.2 38.0 L108.7 37.5 L110.0 37.1 L110.2 37.0 L111.7 36.7 L113.2 36.4 L114.0 36.3 L114.7 36.3 L116.2 36.2 L117.7 36.3 L118.0 36.3 L119.2 36.4 L120.7 36.7 L122.0 37.0 L122.2 37.0 L123.7 37.5 L125.2 38.0 L126.0 38.3 L126.7 38.6 L128.2 39.3 L129.7 40.0 L130.0 40.2 L131.2 40.8 L132.7 41.7 L134.0 42.5 L134.2 42.6 L135.7 43.5 L137.2 44.5 L138.0 45.0 L138.7 45.5 L140.2 46.6 L142.0 47.9 L146.0 50.9 L150.0 54.0 L154.0 56.8 L158.0 59.4 L162.0 62.1 L166.0 64.8 L170.0 67.6 L174.0 70.4 L178.0 73.2 L182.0 76.0 L186.0 78.9 L190.0 81.8 L194.0 84.7 L198.0 87.6 L202.0 90.5 L202.0 91.8 L198.0 88.9 L194.0 86.0 L190.0 83.1 L186.0 80.3 L182.0 77.4 L178.0 74.6 L174.0 71.7 L170.0 69.0 L166.0 66.2 L162.0 63.5 L158.0 60.8 L154.0 58.1 L150.0 55.4 L146.0 52.2 L142.0 49.3 L140.2 48.0 L138.7 47.0 L138.0 46.5 L137.2 46.0 L135.7 45.1 L134.2 44.2 L134.0 44.1 L132.7 43.3 L131.2 42.5 L130.0 41.9 L129.7 41.8 L128.2 41.1 L126.7 40.5 L126.0 40.2 L125.2 40.0 L123.7 39.5 L122.2 39.1 L122.0 39.1 L120.7 38.8 L119.2 38.6 L118.0 38.5 L117.7 38.4 L116.2 38.4 L114.7 38.4 L114.0 38.5 L113.2 38.6 L111.7 38.8 L110.2 39.1 L110.0 39.2 L108.7 39.5 L107.2 40.0 L106.0 40.4 L105.7 40.5 L104.2 41.1 L102.7 41.8 L102.0 42.1 L101.2 42.5 L99.7 43.3 L98.2 44.2 L98.0 44.3 L96.7 45.1 L95.2 46.0 L94.0 46.8 L93.7 47.0 L92.2 48.0 L90.0 49.6 L86.0 52.5 L82.0 55.7 L78.0 58.4 L74.0 61.0 L70.0 63.7 L66.0 66.5 L62.0 69.2 L58.0 72.0 L54.0 74.8 L50.0 77.7 L46.0 80.6 L42.0 83.4 L38.0 86.3 L34.0 89.2 L30.0 92.1 L26.0 95.1 L22.0 98.0 L18.0 100.9 L14.0 103.9 L10.0 106.8 L6.0 109.8 L2.0 112.8 L-2.0 115.7 L-6.0 118.7Z" fill="url(#gC2w)" opacity="0.08"/><path d="M-6.0 113.3 L-2.0 110.3 L2.0 107.3 L6.0 104.3 L10.0 101.4 L14.0 98.4 L18.0 95.4 L22.0 92.5 L26.0 89.5 L30.0 86.6 L34.0 83.6 L38.0 80.7 L42.0 77.8 L46.0 74.9 L50.0 72.0 L54.0 69.1 L58.0 66.3 L62.0 63.4 L66.0 60.6 L70.0 57.8 L74.0 55.1 L78.0 52.4 L82.0 49.6 L86.0 46.4 L90.0 43.2 L92.2 41.6 L93.7 40.5 L94.0 40.3 L95.2 39.4 L96.7 38.4 L98.0 37.5 L98.2 37.4 L99.7 36.4 L101.2 35.5 L102.0 35.1 L102.7 34.7 L104.2 33.9 L105.7 33.1 L106.0 33.0 L107.2 32.5 L108.7 31.9 L110.0 31.5 L110.2 31.4 L111.7 31.0 L113.2 30.7 L114.0 30.6 L114.7 30.6 L116.2 30.5 L117.7 30.6 L118.0 30.6 L119.2 30.7 L120.7 31.0 L122.0 31.3 L122.2 31.4 L123.7 31.9 L125.2 32.5 L126.0 32.8 L126.7 33.1 L128.2 33.9 L129.7 34.7 L130.0 34.8 L131.2 35.5 L132.7 36.4 L134.0 37.3 L134.2 37.4 L135.7 38.4 L137.2 39.4 L138.0 40.0 L138.7 40.5 L140.2 41.6 L142.0 42.9 L146.0 46.0 L150.0 49.3 L154.0 52.1 L158.0 54.8 L162.0 57.6 L166.0 60.3 L170.0 63.2 L174.0 66.0 L178.0 68.8 L182.0 71.7 L186.0 74.6 L190.0 77.5 L194.0 80.4 L198.0 83.3 L202.0 86.3 L202.0 87.8 L198.0 84.8 L194.0 81.9 L190.0 79.0 L186.0 76.1 L182.0 73.2 L178.0 70.3 L174.0 67.5 L170.0 64.6 L166.0 61.8 L162.0 59.0 L158.0 56.3 L154.0 53.6 L150.0 50.8 L146.0 47.6 L142.0 44.5 L140.2 43.2 L138.7 42.1 L138.0 41.6 L137.2 41.1 L135.7 40.1 L134.2 39.1 L134.0 39.0 L132.7 38.2 L131.2 37.4 L130.0 36.7 L129.7 36.6 L128.2 35.9 L126.7 35.2 L126.0 34.9 L125.2 34.6 L123.7 34.1 L122.2 33.7 L122.0 33.6 L120.7 33.3 L119.2 33.1 L118.0 33.0 L117.7 32.9 L116.2 32.9 L114.7 32.9 L114.0 33.0 L113.2 33.1 L111.7 33.3 L110.2 33.7 L110.0 33.7 L108.7 34.1 L107.2 34.6 L106.0 35.1 L105.7 35.2 L104.2 35.9 L102.7 36.6 L102.0 37.0 L101.2 37.4 L99.7 38.2 L98.2 39.1 L98.0 39.3 L96.7 40.1 L95.2 41.1 L94.0 41.9 L93.7 42.1 L92.2 43.2 L90.0 44.8 L86.0 47.9 L82.0 51.1 L78.0 53.9 L74.0 56.6 L70.0 59.3 L66.0 62.1 L62.0 64.9 L58.0 67.8 L54.0 70.6 L50.0 73.5 L46.0 76.4 L42.0 79.3 L38.0 82.2 L34.0 85.1 L30.0 88.1 L26.0 91.0 L22.0 94.0 L18.0 96.9 L14.0 99.9 L10.0 102.8 L6.0 105.8 L2.0 108.8 L-2.0 111.8 L-6.0 114.8Z" fill="url(#gC2k)" opacity="0.16"/><path d="M-6.0 108.4 L-2.0 105.4 L2.0 102.5 L6.0 99.5 L10.0 96.5 L14.0 93.5 L18.0 90.6 L22.0 87.6 L26.0 84.7 L30.0 81.7 L34.0 78.8 L38.0 75.9 L42.0 73.0 L46.0 70.0 L50.0 67.2 L54.0 64.3 L58.0 61.4 L62.0 58.6 L66.0 55.8 L70.0 53.0 L74.0 50.2 L78.0 47.5 L82.0 44.7 L86.0 41.5 L90.0 38.4 L92.2 36.8 L93.7 35.7 L94.0 35.4 L95.2 34.6 L96.7 33.6 L98.0 32.7 L98.2 32.6 L99.7 31.6 L101.2 30.7 L102.0 30.2 L102.7 29.9 L104.2 29.1 L105.7 28.3 L106.0 28.2 L107.2 27.7 L108.7 27.1 L110.0 26.7 L110.2 26.6 L111.7 26.3 L113.2 26.0 L114.0 25.9 L114.7 25.8 L116.2 25.8 L117.7 25.8 L118.0 25.8 L119.2 26.0 L120.7 26.3 L122.0 26.6 L122.2 26.6 L123.7 27.1 L125.2 27.7 L126.0 28.0 L126.7 28.3 L128.2 29.1 L129.7 29.9 L130.0 30.0 L131.2 30.7 L132.7 31.6 L134.0 32.4 L134.2 32.6 L135.7 33.6 L137.2 34.6 L138.0 35.2 L138.7 35.7 L140.2 36.8 L142.0 38.1 L146.0 41.2 L150.0 44.4 L154.0 47.3 L158.0 50.0 L162.0 52.7 L166.0 55.5 L170.0 58.3 L174.0 61.1 L178.0 64.0 L182.0 66.9 L186.0 69.8 L190.0 72.7 L194.0 75.6 L198.0 78.5 L202.0 81.4 L202.0 82.6 L198.0 79.7 L194.0 76.8 L190.0 73.8 L186.0 70.9 L182.0 68.0 L178.0 65.2 L174.0 62.3 L170.0 59.5 L166.0 56.7 L162.0 53.9 L158.0 51.1 L154.0 48.4 L150.0 45.6 L146.0 42.4 L142.0 39.3 L140.2 38.0 L138.7 36.9 L138.0 36.5 L137.2 35.9 L135.7 34.9 L134.2 34.0 L134.0 33.8 L132.7 33.0 L131.2 32.2 L130.0 31.5 L129.7 31.4 L128.2 30.7 L126.7 30.0 L126.0 29.7 L125.2 29.4 L123.7 28.9 L122.2 28.4 L122.0 28.4 L120.7 28.1 L119.2 27.9 L118.0 27.7 L117.7 27.7 L116.2 27.6 L114.7 27.7 L114.0 27.8 L113.2 27.9 L111.7 28.1 L110.2 28.4 L110.0 28.5 L108.7 28.9 L107.2 29.4 L106.0 29.9 L105.7 30.0 L104.2 30.7 L102.7 31.4 L102.0 31.8 L101.2 32.2 L99.7 33.0 L98.2 34.0 L98.0 34.1 L96.7 34.9 L95.2 35.9 L94.0 36.7 L93.7 36.9 L92.2 38.0 L90.0 39.6 L86.0 42.7 L82.0 45.9 L78.0 48.7 L74.0 51.4 L70.0 54.2 L66.0 57.0 L62.0 59.8 L58.0 62.6 L54.0 65.5 L50.0 68.3 L46.0 71.2 L42.0 74.1 L38.0 77.0 L34.0 80.0 L30.0 82.9 L26.0 85.9 L22.0 88.8 L18.0 91.8 L14.0 94.7 L10.0 97.7 L6.0 100.7 L2.0 103.6 L-2.0 106.6 L-6.0 109.6Z" fill="url(#gC2k)" opacity="0.9"/><path d="M-6.0 110.6 L-2.0 107.6 L2.0 104.6 L6.0 101.7 L10.0 98.7 L14.0 95.7 L18.0 92.8 L22.0 89.8 L26.0 86.9 L30.0 83.9 L34.0 81.0 L38.0 78.0 L42.0 75.1 L46.0 72.2 L50.0 69.3 L54.0 66.5 L58.0 63.6 L62.0 60.8 L66.0 58.0 L70.0 55.2 L74.0 52.4 L78.0 49.7 L82.0 46.9 L86.0 43.7 L90.0 40.6 L92.2 38.9 L93.7 37.8 L94.0 37.6 L95.2 36.8 L96.7 35.7 L98.0 34.9 L98.2 34.7 L99.7 33.8 L101.2 32.9 L102.0 32.4 L102.7 32.0 L104.2 31.2 L105.7 30.5 L106.0 30.3 L107.2 29.8 L108.7 29.2 L110.0 28.8 L110.2 28.7 L111.7 28.4 L113.2 28.1 L114.0 28.0 L114.7 27.9 L116.2 27.9 L117.7 27.9 L118.0 27.9 L119.2 28.1 L120.7 28.4 L122.0 28.7 L122.2 28.7 L123.7 29.2 L125.2 29.8 L126.0 30.1 L126.7 30.5 L128.2 31.2 L129.7 32.0 L130.0 32.2 L131.2 32.9 L132.7 33.8 L134.0 34.6 L134.2 34.7 L135.7 35.7 L137.2 36.8 L138.0 37.3 L138.7 37.8 L140.2 38.9 L142.0 40.3 L146.0 43.4 L150.0 46.6 L154.0 49.4 L158.0 52.1 L162.0 54.9 L166.0 57.7 L170.0 60.5 L174.0 63.3 L178.0 66.2 L182.0 69.0 L186.0 71.9 L190.0 74.8 L194.0 77.8 L198.0 80.7 L202.0 83.6 L202.0 85.0 L198.0 82.1 L194.0 79.2 L190.0 76.3 L186.0 73.4 L182.0 70.5 L178.0 67.6 L174.0 64.7 L170.0 61.9 L166.0 59.1 L162.0 56.3 L158.0 53.6 L154.0 50.9 L150.0 48.0 L146.0 44.8 L142.0 41.8 L140.2 40.4 L138.7 39.4 L138.0 38.9 L137.2 38.3 L135.7 37.3 L134.2 36.4 L134.0 36.3 L132.7 35.5 L131.2 34.6 L130.0 34.0 L129.7 33.9 L128.2 33.1 L126.7 32.5 L126.0 32.2 L125.2 31.9 L123.7 31.4 L122.2 30.9 L122.0 30.9 L120.7 30.6 L119.2 30.3 L118.0 30.2 L117.7 30.2 L116.2 30.1 L114.7 30.2 L114.0 30.3 L113.2 30.3 L111.7 30.6 L110.2 30.9 L110.0 31.0 L108.7 31.4 L107.2 31.9 L106.0 32.3 L105.7 32.5 L104.2 33.1 L102.7 33.9 L102.0 34.2 L101.2 34.6 L99.7 35.5 L98.2 36.4 L98.0 36.5 L96.7 37.3 L95.2 38.3 L94.0 39.2 L93.7 39.4 L92.2 40.4 L90.0 42.1 L86.0 45.1 L82.0 48.4 L78.0 51.1 L74.0 53.8 L70.0 56.6 L66.0 59.4 L62.0 62.2 L58.0 65.0 L54.0 67.9 L50.0 70.8 L46.0 73.7 L42.0 76.6 L38.0 79.5 L34.0 82.4 L30.0 85.3 L26.0 88.3 L22.0 91.2 L18.0 94.2 L14.0 97.1 L10.0 100.1 L6.0 103.1 L2.0 106.1 L-2.0 109.0 L-6.0 112.0Z" fill="url(#gC2w)"/><path d="M-6.0 150.6 L-2.0 147.6 L2.0 144.6 L6.0 141.7 L10.0 138.7 L14.0 135.7 L18.0 132.7 L22.0 129.7 L26.0 126.7 L30.0 123.7 L34.0 120.8 L38.0 117.8 L42.0 114.8 L46.0 111.9 L50.0 108.9 L54.0 106.0 L58.0 103.0 L62.0 100.1 L66.0 97.2 L70.0 94.2 L74.0 91.3 L78.0 88.4 L82.0 85.5 L86.0 82.7 L90.0 79.8 L94.0 77.0 L98.0 74.2 L102.0 71.4 L106.0 68.6 L110.0 65.8 L114.0 63.1 L118.0 60.5 L122.0 57.9 L126.0 55.1 L130.0 52.0 L134.0 49.1 L135.2 48.3 L136.7 47.2 L138.0 46.4 L138.2 46.2 L139.7 45.3 L141.2 44.4 L142.0 43.9 L142.7 43.5 L144.2 42.7 L145.7 41.9 L146.0 41.7 L147.2 41.2 L148.7 40.5 L150.0 40.0 L150.2 39.9 L151.7 39.4 L153.2 39.0 L154.0 38.8 L154.7 38.6 L156.2 38.4 L157.7 38.2 L158.0 38.2 L159.2 38.2 L160.7 38.2 L162.0 38.4 L162.2 38.4 L163.7 38.6 L165.2 39.0 L166.0 39.2 L166.7 39.4 L168.2 39.9 L169.7 40.5 L170.0 40.6 L171.2 41.2 L172.7 41.9 L174.0 42.5 L174.2 42.7 L175.7 43.5 L177.2 44.4 L178.0 44.8 L178.7 45.3 L180.2 46.2 L181.7 47.2 L182.0 47.4 L183.2 48.3 L186.0 50.2 L190.0 53.2 L194.0 56.3 L198.0 58.9 L202.0 61.6 L202.0 62.9 L198.0 60.3 L194.0 57.7 L190.0 54.6 L186.0 51.7 L183.2 49.7 L182.0 48.9 L181.7 48.7 L180.2 47.8 L178.7 46.8 L178.0 46.4 L177.2 46.0 L175.7 45.1 L174.2 44.4 L174.0 44.3 L172.7 43.7 L171.2 43.0 L170.0 42.5 L169.7 42.4 L168.2 41.9 L166.7 41.4 L166.0 41.3 L165.2 41.1 L163.7 40.8 L162.2 40.6 L162.0 40.5 L160.7 40.4 L159.2 40.4 L158.0 40.4 L157.7 40.4 L156.2 40.6 L154.7 40.8 L154.0 40.9 L153.2 41.1 L151.7 41.4 L150.2 41.9 L150.0 42.0 L148.7 42.4 L147.2 43.0 L146.0 43.5 L145.7 43.7 L144.2 44.4 L142.7 45.1 L142.0 45.5 L141.2 46.0 L139.7 46.8 L138.2 47.8 L138.0 47.9 L136.7 48.7 L135.2 49.7 L134.0 50.5 L130.0 53.4 L126.0 56.4 L122.0 59.3 L118.0 61.9 L114.0 64.5 L110.0 67.2 L106.0 70.0 L102.0 72.7 L98.0 75.5 L94.0 78.3 L90.0 81.2 L86.0 84.0 L82.0 86.9 L78.0 89.8 L74.0 92.7 L70.0 95.6 L66.0 98.5 L62.0 101.5 L58.0 104.4 L54.0 107.3 L50.0 110.3 L46.0 113.2 L42.0 116.2 L38.0 119.2 L34.0 122.1 L30.0 125.1 L26.0 128.1 L22.0 131.1 L18.0 134.0 L14.0 137.0 L10.0 140.0 L6.0 143.0 L2.0 146.0 L-2.0 149.0 L-6.0 152.0Z" fill="url(#gC3w)" opacity="0.08"/><path d="M-6.0 146.7 L-2.0 143.7 L2.0 140.7 L6.0 137.7 L10.0 134.7 L14.0 131.7 L18.0 128.7 L22.0 125.7 L26.0 122.7 L30.0 119.7 L34.0 116.7 L38.0 113.7 L42.0 110.7 L46.0 107.8 L50.0 104.8 L54.0 101.8 L58.0 98.9 L62.0 95.9 L66.0 93.0 L70.0 90.0 L74.0 87.1 L78.0 84.2 L82.0 81.3 L86.0 78.4 L90.0 75.5 L94.0 72.6 L98.0 69.8 L102.0 66.9 L106.0 64.1 L110.0 61.3 L114.0 58.6 L118.0 55.9 L122.0 53.2 L126.0 50.3 L130.0 47.1 L134.0 44.1 L135.2 43.2 L136.7 42.2 L138.0 41.3 L138.2 41.1 L139.7 40.1 L141.2 39.1 L142.0 38.6 L142.7 38.2 L144.2 37.3 L145.7 36.5 L146.0 36.3 L147.2 35.7 L148.7 35.0 L150.0 34.5 L150.2 34.4 L151.7 33.8 L153.2 33.4 L154.0 33.1 L154.7 33.0 L156.2 32.7 L157.7 32.6 L158.0 32.5 L159.2 32.5 L160.7 32.6 L162.0 32.7 L162.2 32.7 L163.7 33.0 L165.2 33.4 L166.0 33.6 L166.7 33.8 L168.2 34.4 L169.7 35.0 L170.0 35.1 L171.2 35.7 L172.7 36.5 L174.0 37.2 L174.2 37.3 L175.7 38.2 L177.2 39.1 L178.0 39.7 L178.7 40.1 L180.2 41.1 L181.7 42.2 L182.0 42.4 L183.2 43.2 L186.0 45.3 L190.0 48.4 L194.0 51.6 L198.0 54.3 L202.0 56.9 L202.0 58.4 L198.0 55.7 L194.0 53.1 L190.0 49.9 L186.0 46.8 L183.2 44.8 L182.0 44.0 L181.7 43.8 L180.2 42.8 L178.7 41.8 L178.0 41.4 L177.2 40.9 L175.7 40.0 L174.2 39.2 L174.0 39.1 L172.7 38.4 L171.2 37.7 L170.0 37.2 L169.7 37.1 L168.2 36.5 L166.7 36.0 L166.0 35.8 L165.2 35.6 L163.7 35.3 L162.2 35.1 L162.0 35.1 L160.7 34.9 L159.2 34.9 L158.0 34.9 L157.7 34.9 L156.2 35.1 L154.7 35.3 L154.0 35.5 L153.2 35.6 L151.7 36.0 L150.2 36.5 L150.0 36.6 L148.7 37.1 L147.2 37.7 L146.0 38.3 L145.7 38.4 L144.2 39.2 L142.7 40.0 L142.0 40.4 L141.2 40.9 L139.7 41.8 L138.2 42.8 L138.0 42.9 L136.7 43.8 L135.2 44.8 L134.0 45.7 L130.0 48.7 L126.0 51.8 L122.0 54.7 L118.0 57.4 L114.0 60.1 L110.0 62.8 L106.0 65.6 L102.0 68.4 L98.0 71.2 L94.0 74.1 L90.0 77.0 L86.0 79.9 L82.0 82.8 L78.0 85.7 L74.0 88.6 L70.0 91.5 L66.0 94.5 L62.0 97.4 L58.0 100.4 L54.0 103.3 L50.0 106.3 L46.0 109.3 L42.0 112.2 L38.0 115.2 L34.0 118.2 L30.0 121.2 L26.0 124.2 L22.0 127.2 L18.0 130.1 L14.0 133.1 L10.0 136.1 L6.0 139.1 L2.0 142.1 L-2.0 145.1 L-6.0 148.2Z" fill="url(#gC3k)" opacity="0.16"/><path d="M-6.0 141.8 L-2.0 138.8 L2.0 135.8 L6.0 132.8 L10.0 129.8 L14.0 126.8 L18.0 123.8 L22.0 120.8 L26.0 117.8 L30.0 114.8 L34.0 111.9 L38.0 108.9 L42.0 105.9 L46.0 102.9 L50.0 100.0 L54.0 97.0 L58.0 94.0 L62.0 91.1 L66.0 88.1 L70.0 85.2 L74.0 82.3 L78.0 79.3 L82.0 76.4 L86.0 73.5 L90.0 70.6 L94.0 67.8 L98.0 64.9 L102.0 62.1 L106.0 59.3 L110.0 56.5 L114.0 53.7 L118.0 51.0 L122.0 48.4 L126.0 45.5 L130.0 42.3 L134.0 39.3 L135.2 38.4 L136.7 37.3 L138.0 36.4 L138.2 36.3 L139.7 35.3 L141.2 34.3 L142.0 33.8 L142.7 33.4 L144.2 32.5 L145.7 31.7 L146.0 31.5 L147.2 30.9 L148.7 30.2 L150.0 29.7 L150.2 29.6 L151.7 29.1 L153.2 28.6 L154.0 28.4 L154.7 28.2 L156.2 28.0 L157.7 27.8 L158.0 27.8 L159.2 27.8 L160.7 27.8 L162.0 27.9 L162.2 28.0 L163.7 28.2 L165.2 28.6 L166.0 28.8 L166.7 29.1 L168.2 29.6 L169.7 30.2 L170.0 30.4 L171.2 30.9 L172.7 31.7 L174.0 32.4 L174.2 32.5 L175.7 33.4 L177.2 34.3 L178.0 34.8 L178.7 35.3 L180.2 36.3 L181.7 37.3 L182.0 37.5 L183.2 38.4 L186.0 40.5 L190.0 43.5 L194.0 46.7 L198.0 49.4 L202.0 52.1 L202.0 53.3 L198.0 50.6 L194.0 47.9 L190.0 44.7 L186.0 41.7 L183.2 39.7 L182.0 38.8 L181.7 38.6 L180.2 37.6 L178.7 36.6 L178.0 36.2 L177.2 35.7 L175.7 34.8 L174.2 34.0 L174.0 33.9 L172.7 33.2 L171.2 32.5 L170.0 32.0 L169.7 31.9 L168.2 31.3 L166.7 30.8 L166.0 30.6 L165.2 30.4 L163.7 30.1 L162.2 29.8 L162.0 29.8 L160.7 29.7 L159.2 29.6 L158.0 29.7 L157.7 29.7 L156.2 29.8 L154.7 30.1 L154.0 30.2 L153.2 30.4 L151.7 30.8 L150.2 31.3 L150.0 31.4 L148.7 31.9 L147.2 32.5 L146.0 33.1 L145.7 33.2 L144.2 34.0 L142.7 34.8 L142.0 35.2 L141.2 35.7 L139.7 36.6 L138.2 37.6 L138.0 37.7 L136.7 38.6 L135.2 39.7 L134.0 40.5 L130.0 43.5 L126.0 46.6 L122.0 49.5 L118.0 52.2 L114.0 54.9 L110.0 57.7 L106.0 60.4 L102.0 63.3 L98.0 66.1 L94.0 68.9 L90.0 71.8 L86.0 74.7 L82.0 77.6 L78.0 80.5 L74.0 83.4 L70.0 86.4 L66.0 89.3 L62.0 92.3 L58.0 95.2 L54.0 98.2 L50.0 101.1 L46.0 104.1 L42.0 107.1 L38.0 110.1 L34.0 113.0 L30.0 116.0 L26.0 119.0 L22.0 122.0 L18.0 125.0 L14.0 128.0 L10.0 131.0 L6.0 134.0 L2.0 137.0 L-2.0 140.0 L-6.0 143.0Z" fill="url(#gC3k)" opacity="0.9"/><path d="M-6.0 144.0 L-2.0 141.0 L2.0 138.0 L6.0 135.0 L10.0 132.0 L14.0 129.0 L18.0 126.0 L22.0 123.0 L26.0 120.0 L30.0 117.0 L34.0 114.0 L38.0 111.1 L42.0 108.1 L46.0 105.1 L50.0 102.1 L54.0 99.2 L58.0 96.2 L62.0 93.3 L66.0 90.3 L70.0 87.4 L74.0 84.4 L78.0 81.5 L82.0 78.6 L86.0 75.7 L90.0 72.8 L94.0 69.9 L98.0 67.1 L102.0 64.3 L106.0 61.4 L110.0 58.7 L114.0 55.9 L118.0 53.2 L122.0 50.5 L126.0 47.6 L130.0 44.5 L134.0 41.4 L135.2 40.6 L136.7 39.5 L138.0 38.6 L138.2 38.5 L139.7 37.4 L141.2 36.5 L142.0 36.0 L142.7 35.5 L144.2 34.7 L145.7 33.8 L146.0 33.7 L147.2 33.1 L148.7 32.4 L150.0 31.8 L150.2 31.7 L151.7 31.2 L153.2 30.7 L154.0 30.5 L154.7 30.3 L156.2 30.1 L157.7 29.9 L158.0 29.9 L159.2 29.9 L160.7 29.9 L162.0 30.0 L162.2 30.1 L163.7 30.3 L165.2 30.7 L166.0 30.9 L166.7 31.2 L168.2 31.7 L169.7 32.4 L170.0 32.5 L171.2 33.1 L172.7 33.8 L174.0 34.5 L174.2 34.7 L175.7 35.5 L177.2 36.5 L178.0 37.0 L178.7 37.4 L180.2 38.5 L181.7 39.5 L182.0 39.7 L183.2 40.6 L186.0 42.6 L190.0 45.7 L194.0 48.9 L198.0 51.6 L202.0 54.3 L202.0 55.7 L198.0 53.0 L194.0 50.4 L190.0 47.2 L186.0 44.1 L183.2 42.1 L182.0 41.3 L181.7 41.0 L180.2 40.0 L178.7 39.1 L178.0 38.6 L177.2 38.1 L175.7 37.3 L174.2 36.5 L174.0 36.3 L172.7 35.7 L171.2 35.0 L170.0 34.5 L169.7 34.3 L168.2 33.8 L166.7 33.3 L166.0 33.1 L165.2 32.9 L163.7 32.6 L162.2 32.3 L162.0 32.3 L160.7 32.2 L159.2 32.1 L158.0 32.2 L157.7 32.2 L156.2 32.3 L154.7 32.6 L154.0 32.7 L153.2 32.9 L151.7 33.3 L150.2 33.8 L150.0 33.9 L148.7 34.3 L147.2 35.0 L146.0 35.5 L145.7 35.7 L144.2 36.5 L142.7 37.3 L142.0 37.7 L141.2 38.1 L139.7 39.1 L138.2 40.0 L138.0 40.2 L136.7 41.0 L135.2 42.1 L134.0 42.9 L130.0 45.9 L126.0 49.1 L122.0 52.0 L118.0 54.6 L114.0 57.3 L110.0 60.1 L106.0 62.9 L102.0 65.7 L98.0 68.5 L94.0 71.4 L90.0 74.2 L86.0 77.1 L82.0 80.0 L78.0 82.9 L74.0 85.9 L70.0 88.8 L66.0 91.7 L62.0 94.7 L58.0 97.6 L54.0 100.6 L50.0 103.6 L46.0 106.5 L42.0 109.5 L38.0 112.5 L34.0 115.5 L30.0 118.4 L26.0 121.4 L22.0 124.4 L18.0 127.4 L14.0 130.4 L10.0 133.4 L6.0 136.4 L2.0 139.4 L-2.0 142.4 L-6.0 145.4Z" fill="url(#gC3w)"/></g></symbol>
<clipPath id="cp00"><rect x="76.3" y="13.4" width="198.7" height="98.3"/></clipPath>
<clipPath id="cp10"><rect x="338.8" y="13.4" width="198.7" height="98.3"/></clipPath>
<clipPath id="cp01"><rect x="76.3" y="168.4" width="198.7" height="98.3"/></clipPath>
<clipPath id="cp11"><rect x="338.8" y="168.4" width="198.7" height="98.3"/></clipPath>
<clipPath id="cp02"><rect x="76.3" y="323.0" width="198.7" height="98.3"/></clipPath>
<clipPath id="cp12"><rect x="338.8" y="323.0" width="198.7" height="98.3"/></clipPath>
</defs>
<rect width="550" height="459" fill="#fff"/>
<use href="#rgA" x="76.3" y="13.4" width="198.7" height="98.3"/>
<line x1="71.1" y1="13.40" x2="76.5" y2="13.40" stroke="#4a4a4a" stroke-width="0.8"/>
<text x="64.0" y="15.95" text-anchor="end" class="t">0</text>
<line x1="71.1" y1="46.30" x2="76.5" y2="46.30" stroke="#4a4a4a" stroke-width="0.8"/>
<text x="64.0" y="48.85" text-anchor="end" class="t">5</text>
<line x1="71.1" y1="79.20" x2="76.5" y2="79.20" stroke="#4a4a4a" stroke-width="0.8"/>
<text x="64.0" y="81.75" text-anchor="end" class="t">10</text>
<line x1="71.1" y1="112.10" x2="76.5" y2="112.10" stroke="#4a4a4a" stroke-width="0.8"/>
<text x="64.0" y="114.65" text-anchor="end" class="t">15</text>
<line x1="77.20" y1="111.5" x2="77.20" y2="116.7" stroke="#4a4a4a" stroke-width="0.8"/>
<text x="77.20" y="129.3" text-anchor="middle" class="t">1</text>
<line x1="108.65" y1="111.5" x2="108.65" y2="116.7" stroke="#4a4a4a" stroke-width="0.8"/>
<text x="108.65" y="129.3" text-anchor="middle" class="t">20</text>
<line x1="140.10" y1="111.5" x2="140.10" y2="116.7" stroke="#4a4a4a" stroke-width="0.8"/>
<text x="140.10" y="129.3" text-anchor="middle" class="t">40</text>
<line x1="171.55" y1="111.5" x2="171.55" y2="116.7" stroke="#4a4a4a" stroke-width="0.8"/>
<text x="171.55" y="129.3" text-anchor="middle" class="t">60</text>
<line x1="203.00" y1="111.5" x2="203.00" y2="116.7" stroke="#4a4a4a" stroke-width="0.8"/>
<text x="203.00" y="129.3" text-anchor="middle" class="t">80</text>
<line x1="234.45" y1="111.5" x2="234.45" y2="116.7" stroke="#4a4a4a" stroke-width="0.8"/>
<text x="234.45" y="129.3" text-anchor="middle" class="t">100</text>
<line x1="265.90" y1="111.5" x2="265.90" y2="116.7" stroke="#4a4a4a" stroke-width="0.8"/>
<text x="265.90" y="129.3" text-anchor="middle" class="t">120</text>
<text x="74.3" y="9.8" class="t l" textLength="27" lengthAdjust="spacingAndGlyphs">Time(ns)</text>
<text x="277.0" y="139.9" text-anchor="end" class="t l" textLength="72.8" lengthAdjust="spacingAndGlyphs">Receiver Number(scan)</text>
<use href="#rgB" x="338.8" y="13.4" width="198.7" height="98.3"/>
<line x1="333.6" y1="13.40" x2="339.0" y2="13.40" stroke="#4a4a4a" stroke-width="0.8"/>
<text x="326.5" y="15.95" text-anchor="end" class="t">0</text>
<line x1="333.6" y1="46.30" x2="339.0" y2="46.30" stroke="#4a4a4a" stroke-width="0.8"/>
<text x="326.5" y="48.85" text-anchor="end" class="t">5</text>
<line x1="333.6" y1="79.20" x2="339.0" y2="79.20" stroke="#4a4a4a" stroke-width="0.8"/>
<text x="326.5" y="81.75" text-anchor="end" class="t">10</text>
<line x1="333.6" y1="112.10" x2="339.0" y2="112.10" stroke="#4a4a4a" stroke-width="0.8"/>
<text x="326.5" y="114.65" text-anchor="end" class="t">15</text>
<line x1="339.70" y1="111.5" x2="339.70" y2="116.7" stroke="#4a4a4a" stroke-width="0.8"/>
<text x="339.70" y="129.3" text-anchor="middle" class="t">1</text>
<line x1="371.15" y1="111.5" x2="371.15" y2="116.7" stroke="#4a4a4a" stroke-width="0.8"/>
<text x="371.15" y="129.3" text-anchor="middle" class="t">20</text>
<line x1="402.60" y1="111.5" x2="402.60" y2="116.7" stroke="#4a4a4a" stroke-width="0.8"/>
<text x="402.60" y="129.3" text-anchor="middle" class="t">40</text>
<line x1="434.05" y1="111.5" x2="434.05" y2="116.7" stroke="#4a4a4a" stroke-width="0.8"/>
<text x="434.05" y="129.3" text-anchor="middle" class="t">60</text>
<line x1="465.50" y1="111.5" x2="465.50" y2="116.7" stroke="#4a4a4a" stroke-width="0.8"/>
<text x="465.50" y="129.3" text-anchor="middle" class="t">80</text>
<line x1="496.95" y1="111.5" x2="496.95" y2="116.7" stroke="#4a4a4a" stroke-width="0.8"/>
<text x="496.95" y="129.3" text-anchor="middle" class="t">100</text>
<line x1="528.40" y1="111.5" x2="528.40" y2="116.7" stroke="#4a4a4a" stroke-width="0.8"/>
<text x="528.40" y="129.3" text-anchor="middle" class="t">120</text>
<text x="336.8" y="9.8" class="t l" textLength="27" lengthAdjust="spacingAndGlyphs">Time(ns)</text>
<text x="539.5" y="139.9" text-anchor="end" class="t l" textLength="72.8" lengthAdjust="spacingAndGlyphs">Receiver Number(scan)</text>
<use href="#rgB" x="76.3" y="168.4" width="198.7" height="98.3"/>
<line x1="71.1" y1="168.40" x2="76.5" y2="168.40" stroke="#4a4a4a" stroke-width="0.8"/>
<text x="64.0" y="170.95" text-anchor="end" class="t">0</text>
<line x1="71.1" y1="201.30" x2="76.5" y2="201.30" stroke="#4a4a4a" stroke-width="0.8"/>
<text x="64.0" y="203.85" text-anchor="end" class="t">5</text>
<line x1="71.1" y1="234.20" x2="76.5" y2="234.20" stroke="#4a4a4a" stroke-width="0.8"/>
<text x="64.0" y="236.75" text-anchor="end" class="t">10</text>
<line x1="71.1" y1="267.10" x2="76.5" y2="267.10" stroke="#4a4a4a" stroke-width="0.8"/>
<text x="64.0" y="269.65" text-anchor="end" class="t">15</text>
<line x1="77.20" y1="266.5" x2="77.20" y2="271.7" stroke="#4a4a4a" stroke-width="0.8"/>
<text x="77.20" y="284.3" text-anchor="middle" class="t">1</text>
<line x1="108.65" y1="266.5" x2="108.65" y2="271.7" stroke="#4a4a4a" stroke-width="0.8"/>
<text x="108.65" y="284.3" text-anchor="middle" class="t">20</text>
<line x1="140.10" y1="266.5" x2="140.10" y2="271.7" stroke="#4a4a4a" stroke-width="0.8"/>
<text x="140.10" y="284.3" text-anchor="middle" class="t">40</text>
<line x1="171.55" y1="266.5" x2="171.55" y2="271.7" stroke="#4a4a4a" stroke-width="0.8"/>
<text x="171.55" y="284.3" text-anchor="middle" class="t">60</text>
<line x1="203.00" y1="266.5" x2="203.00" y2="271.7" stroke="#4a4a4a" stroke-width="0.8"/>
<text x="203.00" y="284.3" text-anchor="middle" class="t">80</text>
<line x1="234.45" y1="266.5" x2="234.45" y2="271.7" stroke="#4a4a4a" stroke-width="0.8"/>
<text x="234.45" y="284.3" text-anchor="middle" class="t">100</text>
<line x1="265.90" y1="266.5" x2="265.90" y2="271.7" stroke="#4a4a4a" stroke-width="0.8"/>
<text x="265.90" y="284.3" text-anchor="middle" class="t">120</text>
<text x="74.3" y="164.8" class="t l" textLength="27" lengthAdjust="spacingAndGlyphs">Time(ns)</text>
<text x="277.0" y="294.9" text-anchor="end" class="t l" textLength="72.8" lengthAdjust="spacingAndGlyphs">Receiver Number(scan)</text>
<use href="#rgC" x="338.8" y="168.4" width="198.7" height="98.3"/>
<line x1="333.6" y1="168.40" x2="339.0" y2="168.40" stroke="#4a4a4a" stroke-width="0.8"/>
<text x="326.5" y="170.95" text-anchor="end" class="t">0</text>
<line x1="333.6" y1="201.30" x2="339.0" y2="201.30" stroke="#4a4a4a" stroke-width="0.8"/>
<text x="326.5" y="203.85" text-anchor="end" class="t">5</text>
<line x1="333.6" y1="234.20" x2="339.0" y2="234.20" stroke="#4a4a4a" stroke-width="0.8"/>
<text x="326.5" y="236.75" text-anchor="end" class="t">10</text>
<line x1="333.6" y1="267.10" x2="339.0" y2="267.10" stroke="#4a4a4a" stroke-width="0.8"/>
<text x="326.5" y="269.65" text-anchor="end" class="t">15</text>
<line x1="339.70" y1="266.5" x2="339.70" y2="271.7" stroke="#4a4a4a" stroke-width="0.8"/>
<text x="339.70" y="284.3" text-anchor="middle" class="t">1</text>
<line x1="371.15" y1="266.5" x2="371.15" y2="271.7" stroke="#4a4a4a" stroke-width="0.8"/>
<text x="371.15" y="284.3" text-anchor="middle" class="t">20</text>
<line x1="402.60" y1="266.5" x2="402.60" y2="271.7" stroke="#4a4a4a" stroke-width="0.8"/>
<text x="402.60" y="284.3" text-anchor="middle" class="t">40</text>
<line x1="434.05" y1="266.5" x2="434.05" y2="271.7" stroke="#4a4a4a" stroke-width="0.8"/>
<text x="434.05" y="284.3" text-anchor="middle" class="t">60</text>
<line x1="465.50" y1="266.5" x2="465.50" y2="271.7" stroke="#4a4a4a" stroke-width="0.8"/>
<text x="465.50" y="284.3" text-anchor="middle" class="t">80</text>
<line x1="496.95" y1="266.5" x2="496.95" y2="271.7" stroke="#4a4a4a" stroke-width="0.8"/>
<text x="496.95" y="284.3" text-anchor="middle" class="t">100</text>
<line x1="528.40" y1="266.5" x2="528.40" y2="271.7" stroke="#4a4a4a" stroke-width="0.8"/>
<text x="528.40" y="284.3" text-anchor="middle" class="t">120</text>
<text x="336.8" y="164.8" class="t l" textLength="27" lengthAdjust="spacingAndGlyphs">Time(ns)</text>
<text x="539.5" y="294.9" text-anchor="end" class="t l" textLength="72.8" lengthAdjust="spacingAndGlyphs">Receiver Number(scan)</text>
<use href="#rgB" x="76.3" y="323.0" width="198.7" height="98.3"/>
<line x1="71.1" y1="323.00" x2="76.5" y2="323.00" stroke="#4a4a4a" stroke-width="0.8"/>
<text x="64.0" y="325.55" text-anchor="end" class="t">0</text>
<line x1="71.1" y1="355.90" x2="76.5" y2="355.90" stroke="#4a4a4a" stroke-width="0.8"/>
<text x="64.0" y="358.45" text-anchor="end" class="t">5</text>
<line x1="71.1" y1="388.80" x2="76.5" y2="388.80" stroke="#4a4a4a" stroke-width="0.8"/>
<text x="64.0" y="391.35" text-anchor="end" class="t">10</text>
<line x1="71.1" y1="421.70" x2="76.5" y2="421.70" stroke="#4a4a4a" stroke-width="0.8"/>
<text x="64.0" y="424.25" text-anchor="end" class="t">15</text>
<line x1="77.20" y1="421.1" x2="77.20" y2="426.3" stroke="#4a4a4a" stroke-width="0.8"/>
<text x="77.20" y="438.9" text-anchor="middle" class="t">1</text>
<line x1="108.65" y1="421.1" x2="108.65" y2="426.3" stroke="#4a4a4a" stroke-width="0.8"/>
<text x="108.65" y="438.9" text-anchor="middle" class="t">20</text>
<line x1="140.10" y1="421.1" x2="140.10" y2="426.3" stroke="#4a4a4a" stroke-width="0.8"/>
<text x="140.10" y="438.9" text-anchor="middle" class="t">40</text>
<line x1="171.55" y1="421.1" x2="171.55" y2="426.3" stroke="#4a4a4a" stroke-width="0.8"/>
<text x="171.55" y="438.9" text-anchor="middle" class="t">60</text>
<line x1="203.00" y1="421.1" x2="203.00" y2="426.3" stroke="#4a4a4a" stroke-width="0.8"/>
<text x="203.00" y="438.9" text-anchor="middle" class="t">80</text>
<line x1="234.45" y1="421.1" x2="234.45" y2="426.3" stroke="#4a4a4a" stroke-width="0.8"/>
<text x="234.45" y="438.9" text-anchor="middle" class="t">100</text>
<line x1="265.90" y1="421.1" x2="265.90" y2="426.3" stroke="#4a4a4a" stroke-width="0.8"/>
<text x="265.90" y="438.9" text-anchor="middle" class="t">120</text>
<text x="74.3" y="319.4" class="t l" textLength="27" lengthAdjust="spacingAndGlyphs">Time(ns)</text>
<text x="277.0" y="449.5" text-anchor="end" class="t l" textLength="72.8" lengthAdjust="spacingAndGlyphs">Receiver Number(scan)</text>
<use href="#rgC" x="338.8" y="323.0" width="198.7" height="98.3"/>
<line x1="333.6" y1="323.00" x2="339.0" y2="323.00" stroke="#4a4a4a" stroke-width="0.8"/>
<text x="326.5" y="325.55" text-anchor="end" class="t">0</text>
<line x1="333.6" y1="355.90" x2="339.0" y2="355.90" stroke="#4a4a4a" stroke-width="0.8"/>
<text x="326.5" y="358.45" text-anchor="end" class="t">5</text>
<line x1="333.6" y1="388.80" x2="339.0" y2="388.80" stroke="#4a4a4a" stroke-width="0.8"/>
<text x="326.5" y="391.35" text-anchor="end" class="t">10</text>
<line x1="333.6" y1="421.70" x2="339.0" y2="421.70" stroke="#4a4a4a" stroke-width="0.8"/>
<text x="326.5" y="424.25" text-anchor="end" class="t">15</text>
<line x1="339.70" y1="421.1" x2="339.70" y2="426.3" stroke="#4a4a4a" stroke-width="0.8"/>
<text x="339.70" y="438.9" text-anchor="middle" class="t">1</text>
<line x1="371.15" y1="421.1" x2="371.15" y2="426.3" stroke="#4a4a4a" stroke-width="0.8"/>
<text x="371.15" y="438.9" text-anchor="middle" class="t">20</text>
<line x1="402.60" y1="421.1" x2="402.60" y2="426.3" stroke="#4a4a4a" stroke-width="0.8"/>
<text x="402.60" y="438.9" text-anchor="middle" class="t">40</text>
<line x1="434.05" y1="421.1" x2="434.05" y2="426.3" stroke="#4a4a4a" stroke-width="0.8"/>
<text x="434.05" y="438.9" text-anchor="middle" class="t">60</text>
<line x1="465.50" y1="421.1" x2="465.50" y2="426.3" stroke="#4a4a4a" stroke-width="0.8"/>
<text x="465.50" y="438.9" text-anchor="middle" class="t">80</text>
<line x1="496.95" y1="421.1" x2="496.95" y2="426.3" stroke="#4a4a4a" stroke-width="0.8"/>
<text x="496.95" y="438.9" text-anchor="middle" class="t">100</text>
<line x1="528.40" y1="421.1" x2="528.40" y2="426.3" stroke="#4a4a4a" stroke-width="0.8"/>
<text x="528.40" y="438.9" text-anchor="middle" class="t">120</text>
<text x="336.8" y="319.4" class="t l" textLength="27" lengthAdjust="spacingAndGlyphs">Time(ns)</text>
<text x="539.5" y="449.5" text-anchor="end" class="t l" textLength="72.8" lengthAdjust="spacingAndGlyphs">Receiver Number(scan)</text>
<g clip-path="url(#cp00)">
<rect x="94.5" y="27.1" width="34.3" height="17.7" fill="none" stroke="#4fd01e" stroke-opacity="0.85" stroke-width="0.6"/>
<rect x="94.2" y="24.2" width="33.8" height="3.2" fill="#14f014"/>
<text x="94.9" y="27.1" class="g1">hyperbola: <tspan dx="0.9">98%</tspan></text>
</g>
<g clip-path="url(#cp00)">
<rect x="212.4" y="28.2" width="47.4" height="22.4" fill="none" stroke="#4fd01e" stroke-opacity="0.85" stroke-width="0.6"/>
<rect x="212.1" y="25.4" width="38.4" height="3.1" fill="#14f014"/>
<text x="212.8" y="28.2" class="g1">hyperbola: <tspan dx="0.9">97%</tspan></text>
</g>
<g clip-path="url(#cp10)">
<rect x="342.0" y="20.1" width="58.4" height="20.5" fill="none" stroke="#4fd01e" stroke-opacity="0.85" stroke-width="0.6"/>
<rect x="341.7" y="17.0" width="34.8" height="3.4" fill="#14f014"/>
<text x="342.4" y="20.1" class="g1">hyperbola: <tspan dx="0.9">99%</tspan></text>
</g>
<g clip-path="url(#cp10)">
<rect x="439.4" y="24.5" width="36.6" height="21.1" fill="none" stroke="#4fd01e" stroke-opacity="0.85" stroke-width="0.6"/>
<rect x="439.1" y="21.4" width="35.3" height="3.4" fill="#14f014"/>
<text x="439.8" y="24.6" class="g1">hyperbola: <tspan dx="0.9">98%</tspan></text>
</g>
<g clip-path="url(#cp10)">
<rect x="481.0" y="24.5" width="37.6" height="20.5" fill="none" stroke="#4fd01e" stroke-opacity="0.85" stroke-width="0.6"/>
<rect x="480.7" y="21.4" width="36.3" height="3.4" fill="#14f014"/>
<text x="481.4" y="24.6" class="g1">hyperbola: <tspan dx="0.9">98%</tspan></text>
</g>
<rect x="91.5" y="175.8" width="36.8" height="17.6" fill="none" stroke="#00c830" stroke-width="1.3"/>
<text x="91.5" y="174.0" class="g2" textLength="47.6" lengthAdjust="spacing">hyperbola 1.00</text>
<rect x="174.0" y="181.6" width="40.6" height="16.8" fill="none" stroke="#00c830" stroke-width="1.3"/>
<text x="174.0" y="179.4" class="g2" textLength="47.6" lengthAdjust="spacing">hyperbola 1.00</text>
<rect x="217.0" y="180.6" width="39.6" height="16.8" fill="none" stroke="#00c830" stroke-width="1.3"/>
<text x="217.6" y="178.6" class="g2" textLength="47.6" lengthAdjust="spacing">hyperbola 1.00</text>
<rect x="351.6" y="181.0" width="41.8" height="18.4" fill="none" stroke="#00c830" stroke-width="1.3"/>
<text x="351.6" y="179.0" class="g2" textLength="47.6" lengthAdjust="spacing">hyperbola 1.00</text>
<rect x="433.6" y="191.6" width="46.8" height="15.8" fill="none" stroke="#00c830" stroke-width="1.3"/>
<text x="433.6" y="189.6" class="g2" textLength="47.6" lengthAdjust="spacing">hyperbola 1.00</text>
<g clip-path="url(#cp02)">
<rect x="91.1" y="330.7" width="37.6" height="17.8" fill="none" stroke="#1a3cf0" stroke-opacity="0.9" stroke-width="0.6"/>
<rect x="90.8" y="325.4" width="59.7" height="5.6" fill="#0a2cf5"/>
<text x="91.7" y="330.3" class="g3" textLength="57.9" lengthAdjust="spacing">hyperbola 0.89</text>
</g>
<g clip-path="url(#cp02)">
<rect x="174.0" y="335.7" width="39.6" height="18.3" fill="none" stroke="#1a3cf0" stroke-opacity="0.9" stroke-width="0.6"/>
<rect x="173.7" y="330.4" width="59.7" height="5.6" fill="#0a2cf5"/>
<text x="174.6" y="335.3" class="g3" textLength="57.9" lengthAdjust="spacing">hyperbola 0.88</text>
</g>
<g clip-path="url(#cp02)">
<rect x="216.4" y="335.7" width="40.2" height="16.9" fill="none" stroke="#1a3cf0" stroke-opacity="0.9" stroke-width="0.6"/>
<rect x="216.1" y="330.4" width="58.9" height="5.6" fill="#0a2cf5"/>
<text x="217.0" y="335.3" class="g3" textLength="57.1" lengthAdjust="spacing">hyperbola 0.87</text>
</g>
<g clip-path="url(#cp12)">
<rect x="351.0" y="335.5" width="42.4" height="18.1" fill="none" stroke="#1a3cf0" stroke-opacity="0.9" stroke-width="0.6"/>
<rect x="350.7" y="330.4" width="59.7" height="5.4" fill="#0a2cf5"/>
<text x="351.6" y="335.1" class="g3" textLength="57.9" lengthAdjust="spacing">hyperbola 0.89</text>
</g>
<g clip-path="url(#cp12)">
<rect x="393.4" y="335.5" width="41.6" height="18.1" fill="none" stroke="#1a3cf0" stroke-opacity="0.9" stroke-width="0.6"/>
<rect x="393.1" y="330.4" width="60.9" height="5.4" fill="#0a2cf5"/>
<text x="394.0" y="335.1" class="g3" textLength="59.1" lengthAdjust="spacing">hyperbola 0.89</text>
</g>
<g clip-path="url(#cp12)">
<rect x="433.4" y="345.1" width="46.6" height="16.9" fill="none" stroke="#1a3cf0" stroke-opacity="0.9" stroke-width="0.6"/>
<rect x="433.1" y="340.0" width="59.3" height="5.4" fill="#0a2cf5"/>
<text x="434.0" y="344.7" class="g3" textLength="57.5" lengthAdjust="spacing">hyperbola 0.86</text>
</g>
<g clip-path="url(#cp12)">
<rect x="474.0" y="347.7" width="49.6" height="17.3" fill="none" stroke="#1a3cf0" stroke-opacity="0.9" stroke-width="0.6"/>
<rect x="473.7" y="342.4" width="59.3" height="5.6" fill="#0a2cf5"/>
<text x="474.6" y="347.3" class="g3" textLength="57.5" lengthAdjust="spacing">hyperbola 0.85</text>
</g>
<text x="4.4" y="78.3" class="pl">(<tspan font-weight="bold">a</tspan>)</text>
<text x="4.4" y="232.4" class="pl">(<tspan font-weight="bold">b</tspan>)</text>
<text x="4.4" y="387.4" class="pl">(<tspan font-weight="bold">c</tspan>)</text>
</svg>
</body></html>
